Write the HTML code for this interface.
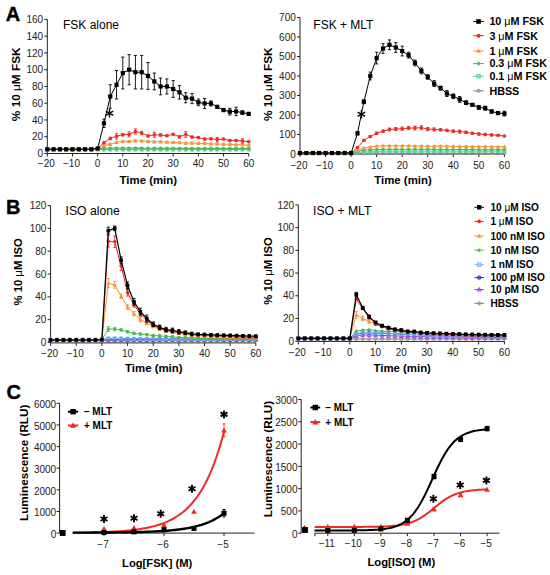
<!DOCTYPE html>
<html><head><meta charset="utf-8"><style>
html,body{margin:0;padding:0;background:#fff;}
svg{display:block;font-family:"Liberation Sans", sans-serif;}
</style></head><body>
<svg width="550" height="575" viewBox="0 0 550 575">
<rect width="550" height="575" fill="#fff"/>
<line x1="47.3" y1="19.4" x2="47.3" y2="153.5" stroke="#222" stroke-width="1.0"/>
<line x1="44.3" y1="153.5" x2="47.3" y2="153.5" stroke="#222" stroke-width="1.0"/>
<text x="43.1" y="157.1" font-size="10" text-anchor="end" font-weight="normal" fill="#222" >0</text>
<line x1="44.3" y1="136.74" x2="47.3" y2="136.74" stroke="#222" stroke-width="1.0"/>
<text x="43.1" y="140.34" font-size="10" text-anchor="end" font-weight="normal" fill="#222" >20</text>
<line x1="44.3" y1="119.97" x2="47.3" y2="119.97" stroke="#222" stroke-width="1.0"/>
<text x="43.1" y="123.57" font-size="10" text-anchor="end" font-weight="normal" fill="#222" >40</text>
<line x1="44.3" y1="103.21" x2="47.3" y2="103.21" stroke="#222" stroke-width="1.0"/>
<text x="43.1" y="106.81" font-size="10" text-anchor="end" font-weight="normal" fill="#222" >60</text>
<line x1="44.3" y1="86.45" x2="47.3" y2="86.45" stroke="#222" stroke-width="1.0"/>
<text x="43.1" y="90.05" font-size="10" text-anchor="end" font-weight="normal" fill="#222" >80</text>
<line x1="44.3" y1="69.69" x2="47.3" y2="69.69" stroke="#222" stroke-width="1.0"/>
<text x="43.1" y="73.29" font-size="10" text-anchor="end" font-weight="normal" fill="#222" >100</text>
<line x1="44.3" y1="52.92" x2="47.3" y2="52.92" stroke="#222" stroke-width="1.0"/>
<text x="43.1" y="56.52" font-size="10" text-anchor="end" font-weight="normal" fill="#222" >120</text>
<line x1="44.3" y1="36.16" x2="47.3" y2="36.16" stroke="#222" stroke-width="1.0"/>
<text x="43.1" y="39.76" font-size="10" text-anchor="end" font-weight="normal" fill="#222" >140</text>
<line x1="44.3" y1="19.4" x2="47.3" y2="19.4" stroke="#222" stroke-width="1.0"/>
<text x="43.1" y="23" font-size="10" text-anchor="end" font-weight="normal" fill="#222" >160</text>
<line x1="47.3" y1="153.5" x2="248.7" y2="153.5" stroke="#222" stroke-width="1.0"/>
<line x1="47.3" y1="153.5" x2="47.3" y2="156.5" stroke="#222" stroke-width="1.0"/>
<text x="46.3" y="167.3" font-size="10" text-anchor="middle" font-weight="normal" fill="#222" >−20</text>
<line x1="72.47" y1="153.5" x2="72.47" y2="156.5" stroke="#222" stroke-width="1.0"/>
<text x="71.47" y="167.3" font-size="10" text-anchor="middle" font-weight="normal" fill="#222" >−10</text>
<line x1="97.65" y1="153.5" x2="97.65" y2="156.5" stroke="#222" stroke-width="1.0"/>
<text x="97.65" y="167.3" font-size="10" text-anchor="middle" font-weight="normal" fill="#222" >0</text>
<line x1="122.82" y1="153.5" x2="122.82" y2="156.5" stroke="#222" stroke-width="1.0"/>
<text x="122.82" y="167.3" font-size="10" text-anchor="middle" font-weight="normal" fill="#222" >10</text>
<line x1="148" y1="153.5" x2="148" y2="156.5" stroke="#222" stroke-width="1.0"/>
<text x="148" y="167.3" font-size="10" text-anchor="middle" font-weight="normal" fill="#222" >20</text>
<line x1="173.17" y1="153.5" x2="173.17" y2="156.5" stroke="#222" stroke-width="1.0"/>
<text x="173.17" y="167.3" font-size="10" text-anchor="middle" font-weight="normal" fill="#222" >30</text>
<line x1="198.35" y1="153.5" x2="198.35" y2="156.5" stroke="#222" stroke-width="1.0"/>
<text x="198.35" y="167.3" font-size="10" text-anchor="middle" font-weight="normal" fill="#222" >40</text>
<line x1="223.52" y1="153.5" x2="223.52" y2="156.5" stroke="#222" stroke-width="1.0"/>
<text x="223.52" y="167.3" font-size="10" text-anchor="middle" font-weight="normal" fill="#222" >50</text>
<line x1="248.7" y1="153.5" x2="248.7" y2="156.5" stroke="#222" stroke-width="1.0"/>
<text x="248.7" y="167.3" font-size="10" text-anchor="middle" font-weight="normal" fill="#222" >60</text>
<text x="63" y="28.6" font-size="12" text-anchor="start" font-weight="normal" fill="#000" >FSK alone</text>
<text x="148.3" y="183.8" font-size="11.4" text-anchor="middle" font-weight="bold" fill="#000" >Time (min)</text>
<text x="19.7" y="84.3" font-size="11.8" text-anchor="middle" font-weight="bold" fill="#000" transform="rotate(-90 19.7 84.3)">% 10 <tspan font-weight="normal">μ</tspan>M FSK</text>
<path d="M47.3 149.48L53.59 149.48L59.89 149.48L66.18 149.48L72.47 149.48L78.77 149.48L85.06 149.48L91.36 149.48L97.65 149.48L103.94 149.48L110.24 149.48L116.53 149.48L122.82 149.48L129.12 149.48L135.41 149.48L141.71 149.48L148 149.48L154.29 149.48L160.59 149.48L166.88 149.48L173.17 149.48L179.47 149.48L185.76 149.48L192.06 149.48L198.35 149.48L204.64 149.48L210.94 149.48L217.23 149.48L223.52 149.48L229.82 149.48L236.11 149.48L242.41 149.48L248.7 149.48" fill="none" stroke="#808080" stroke-width="1.0" stroke-linejoin="round"/>
<path d="M47.3 147.68L49.1 149.48L47.3 151.28L45.5 149.48Z" fill="#808080" fill-opacity="0.35" stroke="#808080" stroke-width="0.9"/>
<path d="M53.59 147.68L55.39 149.48L53.59 151.28L51.79 149.48Z" fill="#808080" fill-opacity="0.35" stroke="#808080" stroke-width="0.9"/>
<path d="M59.89 147.68L61.69 149.48L59.89 151.28L58.09 149.48Z" fill="#808080" fill-opacity="0.35" stroke="#808080" stroke-width="0.9"/>
<path d="M66.18 147.68L67.98 149.48L66.18 151.28L64.38 149.48Z" fill="#808080" fill-opacity="0.35" stroke="#808080" stroke-width="0.9"/>
<path d="M72.47 147.68L74.27 149.48L72.47 151.28L70.67 149.48Z" fill="#808080" fill-opacity="0.35" stroke="#808080" stroke-width="0.9"/>
<path d="M78.77 147.68L80.57 149.48L78.77 151.28L76.97 149.48Z" fill="#808080" fill-opacity="0.35" stroke="#808080" stroke-width="0.9"/>
<path d="M85.06 147.68L86.86 149.48L85.06 151.28L83.26 149.48Z" fill="#808080" fill-opacity="0.35" stroke="#808080" stroke-width="0.9"/>
<path d="M91.36 147.68L93.16 149.48L91.36 151.28L89.56 149.48Z" fill="#808080" fill-opacity="0.35" stroke="#808080" stroke-width="0.9"/>
<path d="M97.65 147.68L99.45 149.48L97.65 151.28L95.85 149.48Z" fill="#808080" fill-opacity="0.35" stroke="#808080" stroke-width="0.9"/>
<path d="M103.94 147.68L105.74 149.48L103.94 151.28L102.14 149.48Z" fill="#808080" fill-opacity="0.35" stroke="#808080" stroke-width="0.9"/>
<path d="M110.24 147.68L112.04 149.48L110.24 151.28L108.44 149.48Z" fill="#808080" fill-opacity="0.35" stroke="#808080" stroke-width="0.9"/>
<path d="M116.53 147.68L118.33 149.48L116.53 151.28L114.73 149.48Z" fill="#808080" fill-opacity="0.35" stroke="#808080" stroke-width="0.9"/>
<path d="M122.82 147.68L124.62 149.48L122.82 151.28L121.02 149.48Z" fill="#808080" fill-opacity="0.35" stroke="#808080" stroke-width="0.9"/>
<path d="M129.12 147.68L130.92 149.48L129.12 151.28L127.32 149.48Z" fill="#808080" fill-opacity="0.35" stroke="#808080" stroke-width="0.9"/>
<path d="M135.41 147.68L137.21 149.48L135.41 151.28L133.61 149.48Z" fill="#808080" fill-opacity="0.35" stroke="#808080" stroke-width="0.9"/>
<path d="M141.71 147.68L143.51 149.48L141.71 151.28L139.91 149.48Z" fill="#808080" fill-opacity="0.35" stroke="#808080" stroke-width="0.9"/>
<path d="M148 147.68L149.8 149.48L148 151.28L146.2 149.48Z" fill="#808080" fill-opacity="0.35" stroke="#808080" stroke-width="0.9"/>
<path d="M154.29 147.68L156.09 149.48L154.29 151.28L152.49 149.48Z" fill="#808080" fill-opacity="0.35" stroke="#808080" stroke-width="0.9"/>
<path d="M160.59 147.68L162.39 149.48L160.59 151.28L158.79 149.48Z" fill="#808080" fill-opacity="0.35" stroke="#808080" stroke-width="0.9"/>
<path d="M166.88 147.68L168.68 149.48L166.88 151.28L165.08 149.48Z" fill="#808080" fill-opacity="0.35" stroke="#808080" stroke-width="0.9"/>
<path d="M173.17 147.68L174.97 149.48L173.17 151.28L171.37 149.48Z" fill="#808080" fill-opacity="0.35" stroke="#808080" stroke-width="0.9"/>
<path d="M179.47 147.68L181.27 149.48L179.47 151.28L177.67 149.48Z" fill="#808080" fill-opacity="0.35" stroke="#808080" stroke-width="0.9"/>
<path d="M185.76 147.68L187.56 149.48L185.76 151.28L183.96 149.48Z" fill="#808080" fill-opacity="0.35" stroke="#808080" stroke-width="0.9"/>
<path d="M192.06 147.68L193.86 149.48L192.06 151.28L190.26 149.48Z" fill="#808080" fill-opacity="0.35" stroke="#808080" stroke-width="0.9"/>
<path d="M198.35 147.68L200.15 149.48L198.35 151.28L196.55 149.48Z" fill="#808080" fill-opacity="0.35" stroke="#808080" stroke-width="0.9"/>
<path d="M204.64 147.68L206.44 149.48L204.64 151.28L202.84 149.48Z" fill="#808080" fill-opacity="0.35" stroke="#808080" stroke-width="0.9"/>
<path d="M210.94 147.68L212.74 149.48L210.94 151.28L209.14 149.48Z" fill="#808080" fill-opacity="0.35" stroke="#808080" stroke-width="0.9"/>
<path d="M217.23 147.68L219.03 149.48L217.23 151.28L215.43 149.48Z" fill="#808080" fill-opacity="0.35" stroke="#808080" stroke-width="0.9"/>
<path d="M223.52 147.68L225.32 149.48L223.52 151.28L221.72 149.48Z" fill="#808080" fill-opacity="0.35" stroke="#808080" stroke-width="0.9"/>
<path d="M229.82 147.68L231.62 149.48L229.82 151.28L228.02 149.48Z" fill="#808080" fill-opacity="0.35" stroke="#808080" stroke-width="0.9"/>
<path d="M236.11 147.68L237.91 149.48L236.11 151.28L234.31 149.48Z" fill="#808080" fill-opacity="0.35" stroke="#808080" stroke-width="0.9"/>
<path d="M242.41 147.68L244.21 149.48L242.41 151.28L240.61 149.48Z" fill="#808080" fill-opacity="0.35" stroke="#808080" stroke-width="0.9"/>
<path d="M248.7 147.68L250.5 149.48L248.7 151.28L246.9 149.48Z" fill="#808080" fill-opacity="0.35" stroke="#808080" stroke-width="0.9"/>
<path d="M47.3 149.31L53.59 149.31L59.89 149.31L66.18 149.31L72.47 149.31L78.77 149.31L85.06 149.31L91.36 149.31L97.65 149.31L103.94 149.31L110.24 149.31L116.53 149.31L122.82 149.31L129.12 149.31L135.41 149.31L141.71 149.31L148 149.31L154.29 149.31L160.59 149.31L166.88 149.31L173.17 149.31L179.47 149.31L185.76 149.31L192.06 149.31L198.35 149.31L204.64 149.31L210.94 149.31L217.23 149.31L223.52 149.31L229.82 149.31L236.11 149.31L242.41 149.31L248.7 149.31" fill="none" stroke="#4fd6a6" stroke-width="1.0" stroke-linejoin="round"/>
<rect x="45.7" y="147.71" width="3.2" height="3.2" fill="#4fd6a6" fill-opacity="0.35" stroke="#4fd6a6" stroke-width="0.9"/>
<rect x="51.99" y="147.71" width="3.2" height="3.2" fill="#4fd6a6" fill-opacity="0.35" stroke="#4fd6a6" stroke-width="0.9"/>
<rect x="58.29" y="147.71" width="3.2" height="3.2" fill="#4fd6a6" fill-opacity="0.35" stroke="#4fd6a6" stroke-width="0.9"/>
<rect x="64.58" y="147.71" width="3.2" height="3.2" fill="#4fd6a6" fill-opacity="0.35" stroke="#4fd6a6" stroke-width="0.9"/>
<rect x="70.88" y="147.71" width="3.2" height="3.2" fill="#4fd6a6" fill-opacity="0.35" stroke="#4fd6a6" stroke-width="0.9"/>
<rect x="77.17" y="147.71" width="3.2" height="3.2" fill="#4fd6a6" fill-opacity="0.35" stroke="#4fd6a6" stroke-width="0.9"/>
<rect x="83.46" y="147.71" width="3.2" height="3.2" fill="#4fd6a6" fill-opacity="0.35" stroke="#4fd6a6" stroke-width="0.9"/>
<rect x="89.76" y="147.71" width="3.2" height="3.2" fill="#4fd6a6" fill-opacity="0.35" stroke="#4fd6a6" stroke-width="0.9"/>
<rect x="96.05" y="147.71" width="3.2" height="3.2" fill="#4fd6a6" fill-opacity="0.35" stroke="#4fd6a6" stroke-width="0.9"/>
<rect x="102.34" y="147.71" width="3.2" height="3.2" fill="#4fd6a6" fill-opacity="0.35" stroke="#4fd6a6" stroke-width="0.9"/>
<rect x="108.64" y="147.71" width="3.2" height="3.2" fill="#4fd6a6" fill-opacity="0.35" stroke="#4fd6a6" stroke-width="0.9"/>
<rect x="114.93" y="147.71" width="3.2" height="3.2" fill="#4fd6a6" fill-opacity="0.35" stroke="#4fd6a6" stroke-width="0.9"/>
<rect x="121.22" y="147.71" width="3.2" height="3.2" fill="#4fd6a6" fill-opacity="0.35" stroke="#4fd6a6" stroke-width="0.9"/>
<rect x="127.52" y="147.71" width="3.2" height="3.2" fill="#4fd6a6" fill-opacity="0.35" stroke="#4fd6a6" stroke-width="0.9"/>
<rect x="133.81" y="147.71" width="3.2" height="3.2" fill="#4fd6a6" fill-opacity="0.35" stroke="#4fd6a6" stroke-width="0.9"/>
<rect x="140.11" y="147.71" width="3.2" height="3.2" fill="#4fd6a6" fill-opacity="0.35" stroke="#4fd6a6" stroke-width="0.9"/>
<rect x="146.4" y="147.71" width="3.2" height="3.2" fill="#4fd6a6" fill-opacity="0.35" stroke="#4fd6a6" stroke-width="0.9"/>
<rect x="152.69" y="147.71" width="3.2" height="3.2" fill="#4fd6a6" fill-opacity="0.35" stroke="#4fd6a6" stroke-width="0.9"/>
<rect x="158.99" y="147.71" width="3.2" height="3.2" fill="#4fd6a6" fill-opacity="0.35" stroke="#4fd6a6" stroke-width="0.9"/>
<rect x="165.28" y="147.71" width="3.2" height="3.2" fill="#4fd6a6" fill-opacity="0.35" stroke="#4fd6a6" stroke-width="0.9"/>
<rect x="171.57" y="147.71" width="3.2" height="3.2" fill="#4fd6a6" fill-opacity="0.35" stroke="#4fd6a6" stroke-width="0.9"/>
<rect x="177.87" y="147.71" width="3.2" height="3.2" fill="#4fd6a6" fill-opacity="0.35" stroke="#4fd6a6" stroke-width="0.9"/>
<rect x="184.16" y="147.71" width="3.2" height="3.2" fill="#4fd6a6" fill-opacity="0.35" stroke="#4fd6a6" stroke-width="0.9"/>
<rect x="190.46" y="147.71" width="3.2" height="3.2" fill="#4fd6a6" fill-opacity="0.35" stroke="#4fd6a6" stroke-width="0.9"/>
<rect x="196.75" y="147.71" width="3.2" height="3.2" fill="#4fd6a6" fill-opacity="0.35" stroke="#4fd6a6" stroke-width="0.9"/>
<rect x="203.04" y="147.71" width="3.2" height="3.2" fill="#4fd6a6" fill-opacity="0.35" stroke="#4fd6a6" stroke-width="0.9"/>
<rect x="209.34" y="147.71" width="3.2" height="3.2" fill="#4fd6a6" fill-opacity="0.35" stroke="#4fd6a6" stroke-width="0.9"/>
<rect x="215.63" y="147.71" width="3.2" height="3.2" fill="#4fd6a6" fill-opacity="0.35" stroke="#4fd6a6" stroke-width="0.9"/>
<rect x="221.92" y="147.71" width="3.2" height="3.2" fill="#4fd6a6" fill-opacity="0.35" stroke="#4fd6a6" stroke-width="0.9"/>
<rect x="228.22" y="147.71" width="3.2" height="3.2" fill="#4fd6a6" fill-opacity="0.35" stroke="#4fd6a6" stroke-width="0.9"/>
<rect x="234.51" y="147.71" width="3.2" height="3.2" fill="#4fd6a6" fill-opacity="0.35" stroke="#4fd6a6" stroke-width="0.9"/>
<rect x="240.81" y="147.71" width="3.2" height="3.2" fill="#4fd6a6" fill-opacity="0.35" stroke="#4fd6a6" stroke-width="0.9"/>
<rect x="247.1" y="147.71" width="3.2" height="3.2" fill="#4fd6a6" fill-opacity="0.35" stroke="#4fd6a6" stroke-width="0.9"/>
<path d="M47.3 149.31L53.59 149.31L59.89 149.31L66.18 149.31L72.47 149.31L78.77 149.31L85.06 149.31L91.36 149.31L97.65 148.89L103.94 148.3L110.24 148.14L116.53 148.05L122.82 148.05L129.12 148.05L135.41 148.05L141.71 148.14L148 148.22L154.29 148.22L160.59 148.22L166.88 148.3L173.17 148.3L179.47 148.3L185.76 148.3L192.06 148.39L198.35 148.39L204.64 148.47L210.94 148.47L217.23 148.47L223.52 148.47L229.82 148.47L236.11 148.47L242.41 148.47L248.7 148.47" fill="none" stroke="#4cb848" stroke-width="1.0" stroke-linejoin="round"/>
<path d="M47.3 147.41L49.2 149.31L47.3 151.21L45.4 149.31Z" fill="#4cb848"/>
<path d="M53.59 147.41L55.49 149.31L53.59 151.21L51.69 149.31Z" fill="#4cb848"/>
<path d="M59.89 147.41L61.79 149.31L59.89 151.21L57.99 149.31Z" fill="#4cb848"/>
<path d="M66.18 147.41L68.08 149.31L66.18 151.21L64.28 149.31Z" fill="#4cb848"/>
<path d="M72.47 147.41L74.38 149.31L72.47 151.21L70.57 149.31Z" fill="#4cb848"/>
<path d="M78.77 147.41L80.67 149.31L78.77 151.21L76.87 149.31Z" fill="#4cb848"/>
<path d="M85.06 147.41L86.96 149.31L85.06 151.21L83.16 149.31Z" fill="#4cb848"/>
<path d="M91.36 147.41L93.26 149.31L91.36 151.21L89.46 149.31Z" fill="#4cb848"/>
<path d="M97.65 146.99L99.55 148.89L97.65 150.79L95.75 148.89Z" fill="#4cb848"/>
<path d="M103.94 146.4L105.84 148.3L103.94 150.2L102.04 148.3Z" fill="#4cb848"/>
<path d="M110.24 146.24L112.14 148.14L110.24 150.04L108.34 148.14Z" fill="#4cb848"/>
<path d="M116.53 146.15L118.43 148.05L116.53 149.95L114.63 148.05Z" fill="#4cb848"/>
<path d="M122.82 146.15L124.72 148.05L122.82 149.95L120.92 148.05Z" fill="#4cb848"/>
<path d="M129.12 146.15L131.02 148.05L129.12 149.95L127.22 148.05Z" fill="#4cb848"/>
<path d="M135.41 146.15L137.31 148.05L135.41 149.95L133.51 148.05Z" fill="#4cb848"/>
<path d="M141.71 146.24L143.61 148.14L141.71 150.04L139.81 148.14Z" fill="#4cb848"/>
<path d="M148 146.32L149.9 148.22L148 150.12L146.1 148.22Z" fill="#4cb848"/>
<path d="M154.29 146.32L156.19 148.22L154.29 150.12L152.39 148.22Z" fill="#4cb848"/>
<path d="M160.59 146.32L162.49 148.22L160.59 150.12L158.69 148.22Z" fill="#4cb848"/>
<path d="M166.88 146.4L168.78 148.3L166.88 150.2L164.98 148.3Z" fill="#4cb848"/>
<path d="M173.17 146.4L175.07 148.3L173.17 150.2L171.27 148.3Z" fill="#4cb848"/>
<path d="M179.47 146.4L181.37 148.3L179.47 150.2L177.57 148.3Z" fill="#4cb848"/>
<path d="M185.76 146.4L187.66 148.3L185.76 150.2L183.86 148.3Z" fill="#4cb848"/>
<path d="M192.06 146.49L193.96 148.39L192.06 150.29L190.16 148.39Z" fill="#4cb848"/>
<path d="M198.35 146.49L200.25 148.39L198.35 150.29L196.45 148.39Z" fill="#4cb848"/>
<path d="M204.64 146.57L206.54 148.47L204.64 150.37L202.74 148.47Z" fill="#4cb848"/>
<path d="M210.94 146.57L212.84 148.47L210.94 150.37L209.04 148.47Z" fill="#4cb848"/>
<path d="M217.23 146.57L219.13 148.47L217.23 150.37L215.33 148.47Z" fill="#4cb848"/>
<path d="M223.52 146.57L225.42 148.47L223.52 150.37L221.62 148.47Z" fill="#4cb848"/>
<path d="M229.82 146.57L231.72 148.47L229.82 150.37L227.92 148.47Z" fill="#4cb848"/>
<path d="M236.11 146.57L238.01 148.47L236.11 150.37L234.21 148.47Z" fill="#4cb848"/>
<path d="M242.41 146.57L244.31 148.47L242.41 150.37L240.51 148.47Z" fill="#4cb848"/>
<path d="M248.7 146.57L250.6 148.47L248.7 150.37L246.8 148.47Z" fill="#4cb848"/>
<path d="M47.3 149.31L53.59 149.31L59.89 149.31L66.18 149.31L72.47 149.31L78.77 149.31L85.06 149.31L91.36 149.31L97.65 148.89L103.94 145.62L110.24 144.28L116.53 142.35L122.82 141.35L129.12 141.35L135.41 140.76L141.71 140.93L148 141.35L154.29 141.77L160.59 141.77L166.88 142.19L173.17 142.44L179.47 142.6L185.76 143.02L192.06 143.02L198.35 143.44L204.64 143.44L210.94 143.86L217.23 143.86L223.52 144.28L229.82 144.28L236.11 144.7L242.41 144.7L248.7 145.12" fill="none" stroke="#f7943a" stroke-width="1.0" stroke-linejoin="round"/>
<path d="M47.3 148.47V150.15M45.7 148.47H48.9M45.7 150.15H48.9" stroke="#f7943a" stroke-width="0.9" fill="none"/>
<path d="M53.59 148.47V150.15M51.99 148.47H55.19M51.99 150.15H55.19" stroke="#f7943a" stroke-width="0.9" fill="none"/>
<path d="M59.89 148.47V150.15M58.29 148.47H61.49M58.29 150.15H61.49" stroke="#f7943a" stroke-width="0.9" fill="none"/>
<path d="M66.18 148.47V150.15M64.58 148.47H67.78M64.58 150.15H67.78" stroke="#f7943a" stroke-width="0.9" fill="none"/>
<path d="M72.47 148.47V150.15M70.88 148.47H74.07M70.88 150.15H74.07" stroke="#f7943a" stroke-width="0.9" fill="none"/>
<path d="M78.77 148.47V150.15M77.17 148.47H80.37M77.17 150.15H80.37" stroke="#f7943a" stroke-width="0.9" fill="none"/>
<path d="M85.06 148.47V150.15M83.46 148.47H86.66M83.46 150.15H86.66" stroke="#f7943a" stroke-width="0.9" fill="none"/>
<path d="M91.36 148.47V150.15M89.76 148.47H92.96M89.76 150.15H92.96" stroke="#f7943a" stroke-width="0.9" fill="none"/>
<path d="M97.65 148.05V149.73M96.05 148.05H99.25M96.05 149.73H99.25" stroke="#f7943a" stroke-width="0.9" fill="none"/>
<path d="M103.94 144.78V146.46M102.34 144.78H105.54M102.34 146.46H105.54" stroke="#f7943a" stroke-width="0.9" fill="none"/>
<path d="M110.24 143.44V145.12M108.64 143.44H111.84M108.64 145.12H111.84" stroke="#f7943a" stroke-width="0.9" fill="none"/>
<path d="M116.53 141.51V143.19M114.93 141.51H118.13M114.93 143.19H118.13" stroke="#f7943a" stroke-width="0.9" fill="none"/>
<path d="M122.82 140.51V142.19M121.22 140.51H124.42M121.22 142.19H124.42" stroke="#f7943a" stroke-width="0.9" fill="none"/>
<path d="M129.12 140.51V142.19M127.52 140.51H130.72M127.52 142.19H130.72" stroke="#f7943a" stroke-width="0.9" fill="none"/>
<path d="M135.41 139.92V141.6M133.81 139.92H137.01M133.81 141.6H137.01" stroke="#f7943a" stroke-width="0.9" fill="none"/>
<path d="M141.71 140.09V141.77M140.11 140.09H143.31M140.11 141.77H143.31" stroke="#f7943a" stroke-width="0.9" fill="none"/>
<path d="M148 140.51V142.19M146.4 140.51H149.6M146.4 142.19H149.6" stroke="#f7943a" stroke-width="0.9" fill="none"/>
<path d="M154.29 140.93V142.6M152.69 140.93H155.89M152.69 142.6H155.89" stroke="#f7943a" stroke-width="0.9" fill="none"/>
<path d="M160.59 140.93V142.6M158.99 140.93H162.19M158.99 142.6H162.19" stroke="#f7943a" stroke-width="0.9" fill="none"/>
<path d="M166.88 141.35V143.02M165.28 141.35H168.48M165.28 143.02H168.48" stroke="#f7943a" stroke-width="0.9" fill="none"/>
<path d="M173.17 141.6V143.27M171.57 141.6H174.77M171.57 143.27H174.77" stroke="#f7943a" stroke-width="0.9" fill="none"/>
<path d="M179.47 141.77V143.44M177.87 141.77H181.07M177.87 143.44H181.07" stroke="#f7943a" stroke-width="0.9" fill="none"/>
<path d="M185.76 142.19V143.86M184.16 142.19H187.36M184.16 143.86H187.36" stroke="#f7943a" stroke-width="0.9" fill="none"/>
<path d="M192.06 142.19V143.86M190.46 142.19H193.66M190.46 143.86H193.66" stroke="#f7943a" stroke-width="0.9" fill="none"/>
<path d="M198.35 142.6V144.28M196.75 142.6H199.95M196.75 144.28H199.95" stroke="#f7943a" stroke-width="0.9" fill="none"/>
<path d="M204.64 142.6V144.28M203.04 142.6H206.24M203.04 144.28H206.24" stroke="#f7943a" stroke-width="0.9" fill="none"/>
<path d="M210.94 143.02V144.7M209.34 143.02H212.54M209.34 144.7H212.54" stroke="#f7943a" stroke-width="0.9" fill="none"/>
<path d="M217.23 143.02V144.7M215.63 143.02H218.83M215.63 144.7H218.83" stroke="#f7943a" stroke-width="0.9" fill="none"/>
<path d="M223.52 143.44V145.12M221.92 143.44H225.12M221.92 145.12H225.12" stroke="#f7943a" stroke-width="0.9" fill="none"/>
<path d="M229.82 143.44V145.12M228.22 143.44H231.42M228.22 145.12H231.42" stroke="#f7943a" stroke-width="0.9" fill="none"/>
<path d="M236.11 143.86V145.54M234.51 143.86H237.71M234.51 145.54H237.71" stroke="#f7943a" stroke-width="0.9" fill="none"/>
<path d="M242.41 143.86V145.54M240.81 143.86H244.01M240.81 145.54H244.01" stroke="#f7943a" stroke-width="0.9" fill="none"/>
<path d="M248.7 144.28V145.96M247.1 144.28H250.3M247.1 145.96H250.3" stroke="#f7943a" stroke-width="0.9" fill="none"/>
<path d="M47.3 147.11L49.5 150.96L45.1 150.96Z" fill="#f7943a"/>
<path d="M53.59 147.11L55.79 150.96L51.39 150.96Z" fill="#f7943a"/>
<path d="M59.89 147.11L62.09 150.96L57.69 150.96Z" fill="#f7943a"/>
<path d="M66.18 147.11L68.38 150.96L63.98 150.96Z" fill="#f7943a"/>
<path d="M72.47 147.11L74.67 150.96L70.27 150.96Z" fill="#f7943a"/>
<path d="M78.77 147.11L80.97 150.96L76.57 150.96Z" fill="#f7943a"/>
<path d="M85.06 147.11L87.26 150.96L82.86 150.96Z" fill="#f7943a"/>
<path d="M91.36 147.11L93.56 150.96L89.16 150.96Z" fill="#f7943a"/>
<path d="M97.65 146.69L99.85 150.54L95.45 150.54Z" fill="#f7943a"/>
<path d="M103.94 143.42L106.14 147.27L101.74 147.27Z" fill="#f7943a"/>
<path d="M110.24 142.08L112.44 145.93L108.04 145.93Z" fill="#f7943a"/>
<path d="M116.53 140.15L118.73 144L114.33 144Z" fill="#f7943a"/>
<path d="M122.82 139.15L125.02 143L120.62 143Z" fill="#f7943a"/>
<path d="M129.12 139.15L131.32 143L126.92 143Z" fill="#f7943a"/>
<path d="M135.41 138.56L137.61 142.41L133.21 142.41Z" fill="#f7943a"/>
<path d="M141.71 138.73L143.91 142.58L139.51 142.58Z" fill="#f7943a"/>
<path d="M148 139.15L150.2 143L145.8 143Z" fill="#f7943a"/>
<path d="M154.29 139.57L156.49 143.42L152.09 143.42Z" fill="#f7943a"/>
<path d="M160.59 139.57L162.79 143.42L158.39 143.42Z" fill="#f7943a"/>
<path d="M166.88 139.99L169.08 143.84L164.68 143.84Z" fill="#f7943a"/>
<path d="M173.17 140.24L175.37 144.09L170.97 144.09Z" fill="#f7943a"/>
<path d="M179.47 140.4L181.67 144.25L177.27 144.25Z" fill="#f7943a"/>
<path d="M185.76 140.82L187.96 144.67L183.56 144.67Z" fill="#f7943a"/>
<path d="M192.06 140.82L194.26 144.67L189.86 144.67Z" fill="#f7943a"/>
<path d="M198.35 141.24L200.55 145.09L196.15 145.09Z" fill="#f7943a"/>
<path d="M204.64 141.24L206.84 145.09L202.44 145.09Z" fill="#f7943a"/>
<path d="M210.94 141.66L213.14 145.51L208.74 145.51Z" fill="#f7943a"/>
<path d="M217.23 141.66L219.43 145.51L215.03 145.51Z" fill="#f7943a"/>
<path d="M223.52 142.08L225.72 145.93L221.32 145.93Z" fill="#f7943a"/>
<path d="M229.82 142.08L232.02 145.93L227.62 145.93Z" fill="#f7943a"/>
<path d="M236.11 142.5L238.31 146.35L233.91 146.35Z" fill="#f7943a"/>
<path d="M242.41 142.5L244.61 146.35L240.21 146.35Z" fill="#f7943a"/>
<path d="M248.7 142.92L250.9 146.77L246.5 146.77Z" fill="#f7943a"/>
<path d="M47.3 149.31L53.59 149.31L59.89 149.31L66.18 149.31L72.47 149.31L78.77 149.31L85.06 149.31L91.36 149.31L97.65 148.47L103.94 142.69L110.24 138.41L116.53 136.23L122.82 134.73L129.12 134.39L135.41 131.46L141.71 132.97L148 135.9L154.29 134.73L160.59 135.06L166.88 135.73L173.17 134.31L179.47 136.82L185.76 134.31L192.06 137.07L198.35 137.58L204.64 139.08L210.94 138.75L217.23 139.59L223.52 139.08L229.82 140.43L236.11 140.43L242.41 140.93L248.7 141.68" fill="none" stroke="#ee2a24" stroke-width="1.0" stroke-linejoin="round"/>
<path d="M103.94 141.85V143.53M102.34 141.85H105.54M102.34 143.53H105.54" stroke="#ee2a24" stroke-width="0.9" fill="none"/>
<path d="M110.24 137.16V139.67M108.64 137.16H111.84M108.64 139.67H111.84" stroke="#ee2a24" stroke-width="0.9" fill="none"/>
<path d="M116.53 133.3V139.17M114.93 133.3H118.13M114.93 139.17H118.13" stroke="#ee2a24" stroke-width="0.9" fill="none"/>
<path d="M122.82 133.47V135.98M121.22 133.47H124.42M121.22 135.98H124.42" stroke="#ee2a24" stroke-width="0.9" fill="none"/>
<path d="M129.12 131.88V136.91M127.52 131.88H130.72M127.52 136.91H130.72" stroke="#ee2a24" stroke-width="0.9" fill="none"/>
<path d="M135.41 128.94V133.97M133.81 128.94H137.01M133.81 133.97H137.01" stroke="#ee2a24" stroke-width="0.9" fill="none"/>
<path d="M141.71 131.29V134.64M140.11 131.29H143.31M140.11 134.64H143.31" stroke="#ee2a24" stroke-width="0.9" fill="none"/>
<path d="M148 135.06V136.74M146.4 135.06H149.6M146.4 136.74H149.6" stroke="#ee2a24" stroke-width="0.9" fill="none"/>
<path d="M154.29 132.21V137.24M152.69 132.21H155.89M152.69 137.24H155.89" stroke="#ee2a24" stroke-width="0.9" fill="none"/>
<path d="M160.59 133.8V136.32M158.99 133.8H162.19M158.99 136.32H162.19" stroke="#ee2a24" stroke-width="0.9" fill="none"/>
<path d="M166.88 134.89V136.57M165.28 134.89H168.48M165.28 136.57H168.48" stroke="#ee2a24" stroke-width="0.9" fill="none"/>
<path d="M173.17 133.47V135.15M171.57 133.47H174.77M171.57 135.15H174.77" stroke="#ee2a24" stroke-width="0.9" fill="none"/>
<path d="M179.47 135.56V138.08M177.87 135.56H181.07M177.87 138.08H181.07" stroke="#ee2a24" stroke-width="0.9" fill="none"/>
<path d="M185.76 131.37V137.24M184.16 131.37H187.36M184.16 137.24H187.36" stroke="#ee2a24" stroke-width="0.9" fill="none"/>
<path d="M192.06 136.23V137.91M190.46 136.23H193.66M190.46 137.91H193.66" stroke="#ee2a24" stroke-width="0.9" fill="none"/>
<path d="M198.35 136.74V138.41M196.75 136.74H199.95M196.75 138.41H199.95" stroke="#ee2a24" stroke-width="0.9" fill="none"/>
<path d="M204.64 138.25V139.92M203.04 138.25H206.24M203.04 139.92H206.24" stroke="#ee2a24" stroke-width="0.9" fill="none"/>
<path d="M210.94 137.91V139.59M209.34 137.91H212.54M209.34 139.59H212.54" stroke="#ee2a24" stroke-width="0.9" fill="none"/>
<path d="M217.23 137.49V141.68M215.63 137.49H218.83M215.63 141.68H218.83" stroke="#ee2a24" stroke-width="0.9" fill="none"/>
<path d="M223.52 138.25V139.92M221.92 138.25H225.12M221.92 139.92H225.12" stroke="#ee2a24" stroke-width="0.9" fill="none"/>
<path d="M229.82 139.59V141.26M228.22 139.59H231.42M228.22 141.26H231.42" stroke="#ee2a24" stroke-width="0.9" fill="none"/>
<path d="M236.11 139.59V141.26M234.51 139.59H237.71M234.51 141.26H237.71" stroke="#ee2a24" stroke-width="0.9" fill="none"/>
<path d="M242.41 138.83V143.02M240.81 138.83H244.01M240.81 143.02H244.01" stroke="#ee2a24" stroke-width="0.9" fill="none"/>
<path d="M248.7 140.84V142.52M247.1 140.84H250.3M247.1 142.52H250.3" stroke="#ee2a24" stroke-width="0.9" fill="none"/>
<circle cx="47.3" cy="149.31" r="1.75" fill="#ee2a24"/>
<circle cx="53.59" cy="149.31" r="1.75" fill="#ee2a24"/>
<circle cx="59.89" cy="149.31" r="1.75" fill="#ee2a24"/>
<circle cx="66.18" cy="149.31" r="1.75" fill="#ee2a24"/>
<circle cx="72.47" cy="149.31" r="1.75" fill="#ee2a24"/>
<circle cx="78.77" cy="149.31" r="1.75" fill="#ee2a24"/>
<circle cx="85.06" cy="149.31" r="1.75" fill="#ee2a24"/>
<circle cx="91.36" cy="149.31" r="1.75" fill="#ee2a24"/>
<circle cx="97.65" cy="148.47" r="1.75" fill="#ee2a24"/>
<circle cx="103.94" cy="142.69" r="1.75" fill="#ee2a24"/>
<circle cx="110.24" cy="138.41" r="1.75" fill="#ee2a24"/>
<circle cx="116.53" cy="136.23" r="1.75" fill="#ee2a24"/>
<circle cx="122.82" cy="134.73" r="1.75" fill="#ee2a24"/>
<circle cx="129.12" cy="134.39" r="1.75" fill="#ee2a24"/>
<circle cx="135.41" cy="131.46" r="1.75" fill="#ee2a24"/>
<circle cx="141.71" cy="132.97" r="1.75" fill="#ee2a24"/>
<circle cx="148" cy="135.9" r="1.75" fill="#ee2a24"/>
<circle cx="154.29" cy="134.73" r="1.75" fill="#ee2a24"/>
<circle cx="160.59" cy="135.06" r="1.75" fill="#ee2a24"/>
<circle cx="166.88" cy="135.73" r="1.75" fill="#ee2a24"/>
<circle cx="173.17" cy="134.31" r="1.75" fill="#ee2a24"/>
<circle cx="179.47" cy="136.82" r="1.75" fill="#ee2a24"/>
<circle cx="185.76" cy="134.31" r="1.75" fill="#ee2a24"/>
<circle cx="192.06" cy="137.07" r="1.75" fill="#ee2a24"/>
<circle cx="198.35" cy="137.58" r="1.75" fill="#ee2a24"/>
<circle cx="204.64" cy="139.08" r="1.75" fill="#ee2a24"/>
<circle cx="210.94" cy="138.75" r="1.75" fill="#ee2a24"/>
<circle cx="217.23" cy="139.59" r="1.75" fill="#ee2a24"/>
<circle cx="223.52" cy="139.08" r="1.75" fill="#ee2a24"/>
<circle cx="229.82" cy="140.43" r="1.75" fill="#ee2a24"/>
<circle cx="236.11" cy="140.43" r="1.75" fill="#ee2a24"/>
<circle cx="242.41" cy="140.93" r="1.75" fill="#ee2a24"/>
<circle cx="248.7" cy="141.68" r="1.75" fill="#ee2a24"/>
<path d="M47.3 149.31L53.59 149.31L59.89 149.31L66.18 149.31L72.47 149.31L78.77 149.31L85.06 149.31L91.36 149.31L97.65 148.47L103.94 123.33L110.24 96.51L116.53 84.77L122.82 73.04L129.12 69.69L135.41 72.2L141.71 72.2L148 75.97L154.29 81.42L160.59 86.45L166.88 86.45L173.17 88.96L179.47 92.32L185.76 97.76L192.06 98.6L198.35 102.37L204.64 103.46L210.94 103.46L217.23 106.82L223.52 110.09L229.82 111.68L236.11 111.43L242.41 112.6L248.7 113.86" fill="none" stroke="#000" stroke-width="1.0" stroke-linejoin="round"/>
<path d="M103.94 119.14V127.52M102.34 119.14H105.54M102.34 127.52H105.54" stroke="#000" stroke-width="0.9" fill="none"/>
<path d="M110.24 84.77V108.24M108.64 84.77H111.84M108.64 108.24H111.84" stroke="#000" stroke-width="0.9" fill="none"/>
<path d="M116.53 70.53V99.02M114.93 70.53H118.13M114.93 99.02H118.13" stroke="#000" stroke-width="0.9" fill="none"/>
<path d="M122.82 57.12V88.96M121.22 57.12H124.42M121.22 88.96H124.42" stroke="#000" stroke-width="0.9" fill="none"/>
<path d="M129.12 54.6V84.77M127.52 54.6H130.72M127.52 84.77H130.72" stroke="#000" stroke-width="0.9" fill="none"/>
<path d="M135.41 55.44V88.96M133.81 55.44H137.01M133.81 88.96H137.01" stroke="#000" stroke-width="0.9" fill="none"/>
<path d="M141.71 55.44V88.96M140.11 55.44H143.31M140.11 88.96H143.31" stroke="#000" stroke-width="0.9" fill="none"/>
<path d="M148 62.56V89.38M146.4 62.56H149.6M146.4 89.38H149.6" stroke="#000" stroke-width="0.9" fill="none"/>
<path d="M154.29 73.04V89.8M152.69 73.04H155.89M152.69 89.8H155.89" stroke="#000" stroke-width="0.9" fill="none"/>
<path d="M160.59 78.07V94.83M158.99 78.07H162.19M158.99 94.83H162.19" stroke="#000" stroke-width="0.9" fill="none"/>
<path d="M166.88 78.91V93.99M165.28 78.91H168.48M165.28 93.99H168.48" stroke="#000" stroke-width="0.9" fill="none"/>
<path d="M173.17 80.58V97.35M171.57 80.58H174.77M171.57 97.35H174.77" stroke="#000" stroke-width="0.9" fill="none"/>
<path d="M179.47 85.61V99.02M177.87 85.61H181.07M177.87 99.02H181.07" stroke="#000" stroke-width="0.9" fill="none"/>
<path d="M185.76 92.74V102.79M184.16 92.74H187.36M184.16 102.79H187.36" stroke="#000" stroke-width="0.9" fill="none"/>
<path d="M192.06 93.57V103.63M190.46 93.57H193.66M190.46 103.63H193.66" stroke="#000" stroke-width="0.9" fill="none"/>
<path d="M198.35 99.02V105.73M196.75 99.02H199.95M196.75 105.73H199.95" stroke="#000" stroke-width="0.9" fill="none"/>
<path d="M204.64 98.44V108.49M203.04 98.44H206.24M203.04 108.49H206.24" stroke="#000" stroke-width="0.9" fill="none"/>
<path d="M210.94 100.95V105.98M209.34 100.95H212.54M209.34 105.98H212.54" stroke="#000" stroke-width="0.9" fill="none"/>
<path d="M229.82 108.33V115.03M228.22 108.33H231.42M228.22 115.03H231.42" stroke="#000" stroke-width="0.9" fill="none"/>
<path d="M236.11 107.24V115.62M234.51 107.24H237.71M234.51 115.62H237.71" stroke="#000" stroke-width="0.9" fill="none"/>
<path d="M242.41 110.92V114.28M240.81 110.92H244.01M240.81 114.28H244.01" stroke="#000" stroke-width="0.9" fill="none"/>
<rect x="45.2" y="147.21" width="4.2" height="4.2" fill="#000"/>
<rect x="51.49" y="147.21" width="4.2" height="4.2" fill="#000"/>
<rect x="57.79" y="147.21" width="4.2" height="4.2" fill="#000"/>
<rect x="64.08" y="147.21" width="4.2" height="4.2" fill="#000"/>
<rect x="70.38" y="147.21" width="4.2" height="4.2" fill="#000"/>
<rect x="76.67" y="147.21" width="4.2" height="4.2" fill="#000"/>
<rect x="82.96" y="147.21" width="4.2" height="4.2" fill="#000"/>
<rect x="89.26" y="147.21" width="4.2" height="4.2" fill="#000"/>
<rect x="95.55" y="146.37" width="4.2" height="4.2" fill="#000"/>
<rect x="101.84" y="121.23" width="4.2" height="4.2" fill="#000"/>
<rect x="108.14" y="94.41" width="4.2" height="4.2" fill="#000"/>
<rect x="114.43" y="82.67" width="4.2" height="4.2" fill="#000"/>
<rect x="120.72" y="70.94" width="4.2" height="4.2" fill="#000"/>
<rect x="127.02" y="67.59" width="4.2" height="4.2" fill="#000"/>
<rect x="133.31" y="70.1" width="4.2" height="4.2" fill="#000"/>
<rect x="139.61" y="70.1" width="4.2" height="4.2" fill="#000"/>
<rect x="145.9" y="73.87" width="4.2" height="4.2" fill="#000"/>
<rect x="152.19" y="79.32" width="4.2" height="4.2" fill="#000"/>
<rect x="158.49" y="84.35" width="4.2" height="4.2" fill="#000"/>
<rect x="164.78" y="84.35" width="4.2" height="4.2" fill="#000"/>
<rect x="171.07" y="86.86" width="4.2" height="4.2" fill="#000"/>
<rect x="177.37" y="90.22" width="4.2" height="4.2" fill="#000"/>
<rect x="183.66" y="95.66" width="4.2" height="4.2" fill="#000"/>
<rect x="189.96" y="96.5" width="4.2" height="4.2" fill="#000"/>
<rect x="196.25" y="100.27" width="4.2" height="4.2" fill="#000"/>
<rect x="202.54" y="101.36" width="4.2" height="4.2" fill="#000"/>
<rect x="208.84" y="101.36" width="4.2" height="4.2" fill="#000"/>
<rect x="215.13" y="104.72" width="4.2" height="4.2" fill="#000"/>
<rect x="221.42" y="107.99" width="4.2" height="4.2" fill="#000"/>
<rect x="227.72" y="109.58" width="4.2" height="4.2" fill="#000"/>
<rect x="234.01" y="109.33" width="4.2" height="4.2" fill="#000"/>
<rect x="240.31" y="110.5" width="4.2" height="4.2" fill="#000"/>
<rect x="246.6" y="111.76" width="4.2" height="4.2" fill="#000"/>
<path d="M109.5 108.9L109.5 117.5M105.78 111.05L113.22 115.35M105.78 115.35L113.22 111.05" stroke="#000" stroke-width="1.4" fill="none"/>
<line x1="300" y1="17.5" x2="300" y2="154" stroke="#222" stroke-width="1.0"/>
<line x1="297" y1="154" x2="300" y2="154" stroke="#222" stroke-width="1.0"/>
<text x="295.8" y="157.6" font-size="10" text-anchor="end" font-weight="normal" fill="#222" >0</text>
<line x1="297" y1="134.5" x2="300" y2="134.5" stroke="#222" stroke-width="1.0"/>
<text x="295.8" y="138.1" font-size="10" text-anchor="end" font-weight="normal" fill="#222" >100</text>
<line x1="297" y1="115" x2="300" y2="115" stroke="#222" stroke-width="1.0"/>
<text x="295.8" y="118.6" font-size="10" text-anchor="end" font-weight="normal" fill="#222" >200</text>
<line x1="297" y1="95.5" x2="300" y2="95.5" stroke="#222" stroke-width="1.0"/>
<text x="295.8" y="99.1" font-size="10" text-anchor="end" font-weight="normal" fill="#222" >300</text>
<line x1="297" y1="76" x2="300" y2="76" stroke="#222" stroke-width="1.0"/>
<text x="295.8" y="79.6" font-size="10" text-anchor="end" font-weight="normal" fill="#222" >400</text>
<line x1="297" y1="56.5" x2="300" y2="56.5" stroke="#222" stroke-width="1.0"/>
<text x="295.8" y="60.1" font-size="10" text-anchor="end" font-weight="normal" fill="#222" >500</text>
<line x1="297" y1="37" x2="300" y2="37" stroke="#222" stroke-width="1.0"/>
<text x="295.8" y="40.6" font-size="10" text-anchor="end" font-weight="normal" fill="#222" >600</text>
<line x1="297" y1="17.5" x2="300" y2="17.5" stroke="#222" stroke-width="1.0"/>
<text x="295.8" y="21.1" font-size="10" text-anchor="end" font-weight="normal" fill="#222" >700</text>
<line x1="300" y1="154" x2="504.4" y2="154" stroke="#222" stroke-width="1.0"/>
<line x1="300" y1="154" x2="300" y2="157" stroke="#222" stroke-width="1.0"/>
<text x="299" y="168.6" font-size="10" text-anchor="middle" font-weight="normal" fill="#222" >−20</text>
<line x1="325.55" y1="154" x2="325.55" y2="157" stroke="#222" stroke-width="1.0"/>
<text x="324.55" y="168.6" font-size="10" text-anchor="middle" font-weight="normal" fill="#222" >−10</text>
<line x1="351.1" y1="154" x2="351.1" y2="157" stroke="#222" stroke-width="1.0"/>
<text x="351.1" y="168.6" font-size="10" text-anchor="middle" font-weight="normal" fill="#222" >0</text>
<line x1="376.65" y1="154" x2="376.65" y2="157" stroke="#222" stroke-width="1.0"/>
<text x="376.65" y="168.6" font-size="10" text-anchor="middle" font-weight="normal" fill="#222" >10</text>
<line x1="402.2" y1="154" x2="402.2" y2="157" stroke="#222" stroke-width="1.0"/>
<text x="402.2" y="168.6" font-size="10" text-anchor="middle" font-weight="normal" fill="#222" >20</text>
<line x1="427.75" y1="154" x2="427.75" y2="157" stroke="#222" stroke-width="1.0"/>
<text x="427.75" y="168.6" font-size="10" text-anchor="middle" font-weight="normal" fill="#222" >30</text>
<line x1="453.3" y1="154" x2="453.3" y2="157" stroke="#222" stroke-width="1.0"/>
<text x="453.3" y="168.6" font-size="10" text-anchor="middle" font-weight="normal" fill="#222" >40</text>
<line x1="478.85" y1="154" x2="478.85" y2="157" stroke="#222" stroke-width="1.0"/>
<text x="478.85" y="168.6" font-size="10" text-anchor="middle" font-weight="normal" fill="#222" >50</text>
<line x1="504.4" y1="154" x2="504.4" y2="157" stroke="#222" stroke-width="1.0"/>
<text x="504.4" y="168.6" font-size="10" text-anchor="middle" font-weight="normal" fill="#222" >60</text>
<text x="313.3" y="28.7" font-size="12" text-anchor="start" font-weight="normal" fill="#000" >FSK + MLT</text>
<text x="403" y="183.9" font-size="11.4" text-anchor="middle" font-weight="bold" fill="#000" >Time (min)</text>
<text x="272.3" y="84.2" font-size="11.8" text-anchor="middle" font-weight="bold" fill="#000" transform="rotate(-90 272.3 84.2)">% 10 <tspan font-weight="normal">μ</tspan>M FSK</text>
<path d="M300 153.22L306.39 153.22L312.77 153.22L319.16 153.22L325.55 153.22L331.94 153.22L338.32 153.22L344.71 153.22L351.1 153.22L357.49 153.22L363.88 153.22L370.26 153.22L376.65 153.22L383.04 153.22L389.42 153.22L395.81 153.22L402.2 153.22L408.59 153.22L414.97 153.22L421.36 153.22L427.75 153.22L434.14 153.22L440.52 153.22L446.91 153.22L453.3 153.22L459.69 153.22L466.07 153.22L472.46 153.22L478.85 153.22L485.24 153.22L491.62 153.22L498.01 153.22L504.4 153.22" fill="none" stroke="#808080" stroke-width="1.0" stroke-linejoin="round"/>
<path d="M300 151.42L301.8 153.22L300 155.02L298.2 153.22Z" fill="#808080" fill-opacity="0.35" stroke="#808080" stroke-width="0.9"/>
<path d="M306.39 151.42L308.19 153.22L306.39 155.02L304.59 153.22Z" fill="#808080" fill-opacity="0.35" stroke="#808080" stroke-width="0.9"/>
<path d="M312.77 151.42L314.57 153.22L312.77 155.02L310.97 153.22Z" fill="#808080" fill-opacity="0.35" stroke="#808080" stroke-width="0.9"/>
<path d="M319.16 151.42L320.96 153.22L319.16 155.02L317.36 153.22Z" fill="#808080" fill-opacity="0.35" stroke="#808080" stroke-width="0.9"/>
<path d="M325.55 151.42L327.35 153.22L325.55 155.02L323.75 153.22Z" fill="#808080" fill-opacity="0.35" stroke="#808080" stroke-width="0.9"/>
<path d="M331.94 151.42L333.74 153.22L331.94 155.02L330.14 153.22Z" fill="#808080" fill-opacity="0.35" stroke="#808080" stroke-width="0.9"/>
<path d="M338.32 151.42L340.12 153.22L338.32 155.02L336.52 153.22Z" fill="#808080" fill-opacity="0.35" stroke="#808080" stroke-width="0.9"/>
<path d="M344.71 151.42L346.51 153.22L344.71 155.02L342.91 153.22Z" fill="#808080" fill-opacity="0.35" stroke="#808080" stroke-width="0.9"/>
<path d="M351.1 151.42L352.9 153.22L351.1 155.02L349.3 153.22Z" fill="#808080" fill-opacity="0.35" stroke="#808080" stroke-width="0.9"/>
<path d="M357.49 151.42L359.29 153.22L357.49 155.02L355.69 153.22Z" fill="#808080" fill-opacity="0.35" stroke="#808080" stroke-width="0.9"/>
<path d="M363.88 151.42L365.68 153.22L363.88 155.02L362.07 153.22Z" fill="#808080" fill-opacity="0.35" stroke="#808080" stroke-width="0.9"/>
<path d="M370.26 151.42L372.06 153.22L370.26 155.02L368.46 153.22Z" fill="#808080" fill-opacity="0.35" stroke="#808080" stroke-width="0.9"/>
<path d="M376.65 151.42L378.45 153.22L376.65 155.02L374.85 153.22Z" fill="#808080" fill-opacity="0.35" stroke="#808080" stroke-width="0.9"/>
<path d="M383.04 151.42L384.84 153.22L383.04 155.02L381.24 153.22Z" fill="#808080" fill-opacity="0.35" stroke="#808080" stroke-width="0.9"/>
<path d="M389.42 151.42L391.22 153.22L389.42 155.02L387.62 153.22Z" fill="#808080" fill-opacity="0.35" stroke="#808080" stroke-width="0.9"/>
<path d="M395.81 151.42L397.61 153.22L395.81 155.02L394.01 153.22Z" fill="#808080" fill-opacity="0.35" stroke="#808080" stroke-width="0.9"/>
<path d="M402.2 151.42L404 153.22L402.2 155.02L400.4 153.22Z" fill="#808080" fill-opacity="0.35" stroke="#808080" stroke-width="0.9"/>
<path d="M408.59 151.42L410.39 153.22L408.59 155.02L406.79 153.22Z" fill="#808080" fill-opacity="0.35" stroke="#808080" stroke-width="0.9"/>
<path d="M414.97 151.42L416.77 153.22L414.97 155.02L413.17 153.22Z" fill="#808080" fill-opacity="0.35" stroke="#808080" stroke-width="0.9"/>
<path d="M421.36 151.42L423.16 153.22L421.36 155.02L419.56 153.22Z" fill="#808080" fill-opacity="0.35" stroke="#808080" stroke-width="0.9"/>
<path d="M427.75 151.42L429.55 153.22L427.75 155.02L425.95 153.22Z" fill="#808080" fill-opacity="0.35" stroke="#808080" stroke-width="0.9"/>
<path d="M434.14 151.42L435.94 153.22L434.14 155.02L432.34 153.22Z" fill="#808080" fill-opacity="0.35" stroke="#808080" stroke-width="0.9"/>
<path d="M440.52 151.42L442.32 153.22L440.52 155.02L438.72 153.22Z" fill="#808080" fill-opacity="0.35" stroke="#808080" stroke-width="0.9"/>
<path d="M446.91 151.42L448.71 153.22L446.91 155.02L445.11 153.22Z" fill="#808080" fill-opacity="0.35" stroke="#808080" stroke-width="0.9"/>
<path d="M453.3 151.42L455.1 153.22L453.3 155.02L451.5 153.22Z" fill="#808080" fill-opacity="0.35" stroke="#808080" stroke-width="0.9"/>
<path d="M459.69 151.42L461.49 153.22L459.69 155.02L457.89 153.22Z" fill="#808080" fill-opacity="0.35" stroke="#808080" stroke-width="0.9"/>
<path d="M466.07 151.42L467.88 153.22L466.07 155.02L464.27 153.22Z" fill="#808080" fill-opacity="0.35" stroke="#808080" stroke-width="0.9"/>
<path d="M472.46 151.42L474.26 153.22L472.46 155.02L470.66 153.22Z" fill="#808080" fill-opacity="0.35" stroke="#808080" stroke-width="0.9"/>
<path d="M478.85 151.42L480.65 153.22L478.85 155.02L477.05 153.22Z" fill="#808080" fill-opacity="0.35" stroke="#808080" stroke-width="0.9"/>
<path d="M485.24 151.42L487.04 153.22L485.24 155.02L483.44 153.22Z" fill="#808080" fill-opacity="0.35" stroke="#808080" stroke-width="0.9"/>
<path d="M491.62 151.42L493.43 153.22L491.62 155.02L489.82 153.22Z" fill="#808080" fill-opacity="0.35" stroke="#808080" stroke-width="0.9"/>
<path d="M498.01 151.42L499.81 153.22L498.01 155.02L496.21 153.22Z" fill="#808080" fill-opacity="0.35" stroke="#808080" stroke-width="0.9"/>
<path d="M504.4 151.42L506.2 153.22L504.4 155.02L502.6 153.22Z" fill="#808080" fill-opacity="0.35" stroke="#808080" stroke-width="0.9"/>
<path d="M300 153.03L306.39 153.03L312.77 153.03L319.16 153.03L325.55 153.03L331.94 153.03L338.32 153.03L344.71 153.03L351.1 153.03L357.49 152.44L363.88 151.85L370.26 151.66L376.65 151.47L383.04 151.27L389.42 151.27L395.81 151.27L402.2 151.27L408.59 151.27L414.97 151.27L421.36 151.27L427.75 151.27L434.14 151.27L440.52 151.27L446.91 151.27L453.3 151.27L459.69 151.27L466.07 151.27L472.46 151.27L478.85 151.27L485.24 151.27L491.62 151.27L498.01 151.27L504.4 151.27" fill="none" stroke="#4fd6a6" stroke-width="1.0" stroke-linejoin="round"/>
<rect x="298.4" y="151.43" width="3.2" height="3.2" fill="#4fd6a6" fill-opacity="0.35" stroke="#4fd6a6" stroke-width="0.9"/>
<rect x="304.79" y="151.43" width="3.2" height="3.2" fill="#4fd6a6" fill-opacity="0.35" stroke="#4fd6a6" stroke-width="0.9"/>
<rect x="311.17" y="151.43" width="3.2" height="3.2" fill="#4fd6a6" fill-opacity="0.35" stroke="#4fd6a6" stroke-width="0.9"/>
<rect x="317.56" y="151.43" width="3.2" height="3.2" fill="#4fd6a6" fill-opacity="0.35" stroke="#4fd6a6" stroke-width="0.9"/>
<rect x="323.95" y="151.43" width="3.2" height="3.2" fill="#4fd6a6" fill-opacity="0.35" stroke="#4fd6a6" stroke-width="0.9"/>
<rect x="330.34" y="151.43" width="3.2" height="3.2" fill="#4fd6a6" fill-opacity="0.35" stroke="#4fd6a6" stroke-width="0.9"/>
<rect x="336.72" y="151.43" width="3.2" height="3.2" fill="#4fd6a6" fill-opacity="0.35" stroke="#4fd6a6" stroke-width="0.9"/>
<rect x="343.11" y="151.43" width="3.2" height="3.2" fill="#4fd6a6" fill-opacity="0.35" stroke="#4fd6a6" stroke-width="0.9"/>
<rect x="349.5" y="151.43" width="3.2" height="3.2" fill="#4fd6a6" fill-opacity="0.35" stroke="#4fd6a6" stroke-width="0.9"/>
<rect x="355.89" y="150.84" width="3.2" height="3.2" fill="#4fd6a6" fill-opacity="0.35" stroke="#4fd6a6" stroke-width="0.9"/>
<rect x="362.27" y="150.25" width="3.2" height="3.2" fill="#4fd6a6" fill-opacity="0.35" stroke="#4fd6a6" stroke-width="0.9"/>
<rect x="368.66" y="150.06" width="3.2" height="3.2" fill="#4fd6a6" fill-opacity="0.35" stroke="#4fd6a6" stroke-width="0.9"/>
<rect x="375.05" y="149.87" width="3.2" height="3.2" fill="#4fd6a6" fill-opacity="0.35" stroke="#4fd6a6" stroke-width="0.9"/>
<rect x="381.44" y="149.67" width="3.2" height="3.2" fill="#4fd6a6" fill-opacity="0.35" stroke="#4fd6a6" stroke-width="0.9"/>
<rect x="387.82" y="149.67" width="3.2" height="3.2" fill="#4fd6a6" fill-opacity="0.35" stroke="#4fd6a6" stroke-width="0.9"/>
<rect x="394.21" y="149.67" width="3.2" height="3.2" fill="#4fd6a6" fill-opacity="0.35" stroke="#4fd6a6" stroke-width="0.9"/>
<rect x="400.6" y="149.67" width="3.2" height="3.2" fill="#4fd6a6" fill-opacity="0.35" stroke="#4fd6a6" stroke-width="0.9"/>
<rect x="406.99" y="149.67" width="3.2" height="3.2" fill="#4fd6a6" fill-opacity="0.35" stroke="#4fd6a6" stroke-width="0.9"/>
<rect x="413.37" y="149.67" width="3.2" height="3.2" fill="#4fd6a6" fill-opacity="0.35" stroke="#4fd6a6" stroke-width="0.9"/>
<rect x="419.76" y="149.67" width="3.2" height="3.2" fill="#4fd6a6" fill-opacity="0.35" stroke="#4fd6a6" stroke-width="0.9"/>
<rect x="426.15" y="149.67" width="3.2" height="3.2" fill="#4fd6a6" fill-opacity="0.35" stroke="#4fd6a6" stroke-width="0.9"/>
<rect x="432.54" y="149.67" width="3.2" height="3.2" fill="#4fd6a6" fill-opacity="0.35" stroke="#4fd6a6" stroke-width="0.9"/>
<rect x="438.92" y="149.67" width="3.2" height="3.2" fill="#4fd6a6" fill-opacity="0.35" stroke="#4fd6a6" stroke-width="0.9"/>
<rect x="445.31" y="149.67" width="3.2" height="3.2" fill="#4fd6a6" fill-opacity="0.35" stroke="#4fd6a6" stroke-width="0.9"/>
<rect x="451.7" y="149.67" width="3.2" height="3.2" fill="#4fd6a6" fill-opacity="0.35" stroke="#4fd6a6" stroke-width="0.9"/>
<rect x="458.09" y="149.67" width="3.2" height="3.2" fill="#4fd6a6" fill-opacity="0.35" stroke="#4fd6a6" stroke-width="0.9"/>
<rect x="464.47" y="149.67" width="3.2" height="3.2" fill="#4fd6a6" fill-opacity="0.35" stroke="#4fd6a6" stroke-width="0.9"/>
<rect x="470.86" y="149.67" width="3.2" height="3.2" fill="#4fd6a6" fill-opacity="0.35" stroke="#4fd6a6" stroke-width="0.9"/>
<rect x="477.25" y="149.67" width="3.2" height="3.2" fill="#4fd6a6" fill-opacity="0.35" stroke="#4fd6a6" stroke-width="0.9"/>
<rect x="483.64" y="149.67" width="3.2" height="3.2" fill="#4fd6a6" fill-opacity="0.35" stroke="#4fd6a6" stroke-width="0.9"/>
<rect x="490.02" y="149.67" width="3.2" height="3.2" fill="#4fd6a6" fill-opacity="0.35" stroke="#4fd6a6" stroke-width="0.9"/>
<rect x="496.41" y="149.67" width="3.2" height="3.2" fill="#4fd6a6" fill-opacity="0.35" stroke="#4fd6a6" stroke-width="0.9"/>
<rect x="502.8" y="149.67" width="3.2" height="3.2" fill="#4fd6a6" fill-opacity="0.35" stroke="#4fd6a6" stroke-width="0.9"/>
<path d="M300 153.03L306.39 153.03L312.77 153.03L319.16 153.03L325.55 153.03L331.94 153.03L338.32 153.03L344.71 153.03L351.1 153.03L357.49 151.27L363.88 150.1L370.26 149.71L376.65 149.51L383.04 149.32L389.42 149.32L395.81 149.32L402.2 149.32L408.59 149.32L414.97 149.32L421.36 149.32L427.75 149.32L434.14 149.32L440.52 149.51L446.91 149.51L453.3 149.51L459.69 149.51L466.07 149.51L472.46 149.51L478.85 149.71L485.24 149.71L491.62 149.71L498.01 149.71L504.4 149.71" fill="none" stroke="#4cb848" stroke-width="1.0" stroke-linejoin="round"/>
<path d="M300 151.12L301.9 153.03L300 154.93L298.1 153.03Z" fill="#4cb848"/>
<path d="M306.39 151.12L308.29 153.03L306.39 154.93L304.49 153.03Z" fill="#4cb848"/>
<path d="M312.77 151.12L314.67 153.03L312.77 154.93L310.88 153.03Z" fill="#4cb848"/>
<path d="M319.16 151.12L321.06 153.03L319.16 154.93L317.26 153.03Z" fill="#4cb848"/>
<path d="M325.55 151.12L327.45 153.03L325.55 154.93L323.65 153.03Z" fill="#4cb848"/>
<path d="M331.94 151.12L333.84 153.03L331.94 154.93L330.04 153.03Z" fill="#4cb848"/>
<path d="M338.32 151.12L340.22 153.03L338.32 154.93L336.43 153.03Z" fill="#4cb848"/>
<path d="M344.71 151.12L346.61 153.03L344.71 154.93L342.81 153.03Z" fill="#4cb848"/>
<path d="M351.1 151.12L353 153.03L351.1 154.93L349.2 153.03Z" fill="#4cb848"/>
<path d="M357.49 149.37L359.39 151.27L357.49 153.17L355.59 151.27Z" fill="#4cb848"/>
<path d="M363.88 148.2L365.77 150.1L363.88 152L361.98 150.1Z" fill="#4cb848"/>
<path d="M370.26 147.81L372.16 149.71L370.26 151.61L368.36 149.71Z" fill="#4cb848"/>
<path d="M376.65 147.61L378.55 149.51L376.65 151.41L374.75 149.51Z" fill="#4cb848"/>
<path d="M383.04 147.42L384.94 149.32L383.04 151.22L381.14 149.32Z" fill="#4cb848"/>
<path d="M389.42 147.42L391.32 149.32L389.42 151.22L387.52 149.32Z" fill="#4cb848"/>
<path d="M395.81 147.42L397.71 149.32L395.81 151.22L393.91 149.32Z" fill="#4cb848"/>
<path d="M402.2 147.42L404.1 149.32L402.2 151.22L400.3 149.32Z" fill="#4cb848"/>
<path d="M408.59 147.42L410.49 149.32L408.59 151.22L406.69 149.32Z" fill="#4cb848"/>
<path d="M414.97 147.42L416.87 149.32L414.97 151.22L413.07 149.32Z" fill="#4cb848"/>
<path d="M421.36 147.42L423.26 149.32L421.36 151.22L419.46 149.32Z" fill="#4cb848"/>
<path d="M427.75 147.42L429.65 149.32L427.75 151.22L425.85 149.32Z" fill="#4cb848"/>
<path d="M434.14 147.42L436.04 149.32L434.14 151.22L432.24 149.32Z" fill="#4cb848"/>
<path d="M440.52 147.61L442.42 149.51L440.52 151.41L438.62 149.51Z" fill="#4cb848"/>
<path d="M446.91 147.61L448.81 149.51L446.91 151.41L445.01 149.51Z" fill="#4cb848"/>
<path d="M453.3 147.61L455.2 149.51L453.3 151.41L451.4 149.51Z" fill="#4cb848"/>
<path d="M459.69 147.61L461.59 149.51L459.69 151.41L457.79 149.51Z" fill="#4cb848"/>
<path d="M466.07 147.61L467.97 149.51L466.07 151.41L464.18 149.51Z" fill="#4cb848"/>
<path d="M472.46 147.61L474.36 149.51L472.46 151.41L470.56 149.51Z" fill="#4cb848"/>
<path d="M478.85 147.81L480.75 149.71L478.85 151.61L476.95 149.71Z" fill="#4cb848"/>
<path d="M485.24 147.81L487.14 149.71L485.24 151.61L483.34 149.71Z" fill="#4cb848"/>
<path d="M491.62 147.81L493.52 149.71L491.62 151.61L489.73 149.71Z" fill="#4cb848"/>
<path d="M498.01 147.81L499.91 149.71L498.01 151.61L496.11 149.71Z" fill="#4cb848"/>
<path d="M504.4 147.81L506.3 149.71L504.4 151.61L502.5 149.71Z" fill="#4cb848"/>
<path d="M300 153.03L306.39 153.03L312.77 153.03L319.16 153.03L325.55 153.03L331.94 153.03L338.32 153.03L344.71 153.03L351.1 153.03L357.49 150.49L363.88 148.15L370.26 146.98L376.65 146.2L383.04 145.81L389.42 145.81L395.81 145.81L402.2 145.81L408.59 145.81L414.97 146L421.36 146L427.75 146.2L434.14 146.2L440.52 146.2L446.91 146.2L453.3 146.4L459.69 146.4L466.07 146.4L472.46 146.59L478.85 146.59L485.24 146.59L491.62 146.78L498.01 146.78L504.4 146.78" fill="none" stroke="#f7943a" stroke-width="1.0" stroke-linejoin="round"/>
<path d="M300 152.63V153.41M298.4 152.63H301.6M298.4 153.41H301.6" stroke="#f7943a" stroke-width="0.9" fill="none"/>
<path d="M306.39 152.63V153.41M304.79 152.63H307.99M304.79 153.41H307.99" stroke="#f7943a" stroke-width="0.9" fill="none"/>
<path d="M312.77 152.63V153.41M311.17 152.63H314.38M311.17 153.41H314.38" stroke="#f7943a" stroke-width="0.9" fill="none"/>
<path d="M319.16 152.63V153.41M317.56 152.63H320.76M317.56 153.41H320.76" stroke="#f7943a" stroke-width="0.9" fill="none"/>
<path d="M325.55 152.63V153.41M323.95 152.63H327.15M323.95 153.41H327.15" stroke="#f7943a" stroke-width="0.9" fill="none"/>
<path d="M331.94 152.63V153.41M330.34 152.63H333.54M330.34 153.41H333.54" stroke="#f7943a" stroke-width="0.9" fill="none"/>
<path d="M338.32 152.63V153.41M336.72 152.63H339.93M336.72 153.41H339.93" stroke="#f7943a" stroke-width="0.9" fill="none"/>
<path d="M344.71 152.63V153.41M343.11 152.63H346.31M343.11 153.41H346.31" stroke="#f7943a" stroke-width="0.9" fill="none"/>
<path d="M351.1 152.63V153.41M349.5 152.63H352.7M349.5 153.41H352.7" stroke="#f7943a" stroke-width="0.9" fill="none"/>
<path d="M357.49 150.1V150.88M355.89 150.1H359.09M355.89 150.88H359.09" stroke="#f7943a" stroke-width="0.9" fill="none"/>
<path d="M363.88 147.76V148.54M362.27 147.76H365.48M362.27 148.54H365.48" stroke="#f7943a" stroke-width="0.9" fill="none"/>
<path d="M370.26 146.59V147.37M368.66 146.59H371.86M368.66 147.37H371.86" stroke="#f7943a" stroke-width="0.9" fill="none"/>
<path d="M376.65 145.81V146.59M375.05 145.81H378.25M375.05 146.59H378.25" stroke="#f7943a" stroke-width="0.9" fill="none"/>
<path d="M383.04 145.42V146.2M381.44 145.42H384.64M381.44 146.2H384.64" stroke="#f7943a" stroke-width="0.9" fill="none"/>
<path d="M389.42 145.42V146.2M387.82 145.42H391.02M387.82 146.2H391.02" stroke="#f7943a" stroke-width="0.9" fill="none"/>
<path d="M395.81 145.42V146.2M394.21 145.42H397.41M394.21 146.2H397.41" stroke="#f7943a" stroke-width="0.9" fill="none"/>
<path d="M402.2 145.42V146.2M400.6 145.42H403.8M400.6 146.2H403.8" stroke="#f7943a" stroke-width="0.9" fill="none"/>
<path d="M408.59 145.42V146.2M406.99 145.42H410.19M406.99 146.2H410.19" stroke="#f7943a" stroke-width="0.9" fill="none"/>
<path d="M414.97 145.62V146.4M413.37 145.62H416.57M413.37 146.4H416.57" stroke="#f7943a" stroke-width="0.9" fill="none"/>
<path d="M421.36 145.62V146.4M419.76 145.62H422.96M419.76 146.4H422.96" stroke="#f7943a" stroke-width="0.9" fill="none"/>
<path d="M427.75 145.81V146.59M426.15 145.81H429.35M426.15 146.59H429.35" stroke="#f7943a" stroke-width="0.9" fill="none"/>
<path d="M434.14 145.81V146.59M432.54 145.81H435.74M432.54 146.59H435.74" stroke="#f7943a" stroke-width="0.9" fill="none"/>
<path d="M440.52 145.81V146.59M438.92 145.81H442.12M438.92 146.59H442.12" stroke="#f7943a" stroke-width="0.9" fill="none"/>
<path d="M446.91 145.81V146.59M445.31 145.81H448.51M445.31 146.59H448.51" stroke="#f7943a" stroke-width="0.9" fill="none"/>
<path d="M453.3 146V146.78M451.7 146H454.9M451.7 146.78H454.9" stroke="#f7943a" stroke-width="0.9" fill="none"/>
<path d="M459.69 146V146.78M458.09 146H461.29M458.09 146.78H461.29" stroke="#f7943a" stroke-width="0.9" fill="none"/>
<path d="M466.07 146V146.78M464.47 146H467.68M464.47 146.78H467.68" stroke="#f7943a" stroke-width="0.9" fill="none"/>
<path d="M472.46 146.2V146.98M470.86 146.2H474.06M470.86 146.98H474.06" stroke="#f7943a" stroke-width="0.9" fill="none"/>
<path d="M478.85 146.2V146.98M477.25 146.2H480.45M477.25 146.98H480.45" stroke="#f7943a" stroke-width="0.9" fill="none"/>
<path d="M485.24 146.2V146.98M483.64 146.2H486.84M483.64 146.98H486.84" stroke="#f7943a" stroke-width="0.9" fill="none"/>
<path d="M491.62 146.4V147.18M490.02 146.4H493.23M490.02 147.18H493.23" stroke="#f7943a" stroke-width="0.9" fill="none"/>
<path d="M498.01 146.4V147.18M496.41 146.4H499.61M496.41 147.18H499.61" stroke="#f7943a" stroke-width="0.9" fill="none"/>
<path d="M504.4 146.4V147.18M502.8 146.4H506M502.8 147.18H506" stroke="#f7943a" stroke-width="0.9" fill="none"/>
<path d="M300 150.83L302.2 154.68L297.8 154.68Z" fill="#f7943a"/>
<path d="M306.39 150.83L308.59 154.68L304.19 154.68Z" fill="#f7943a"/>
<path d="M312.77 150.83L314.97 154.68L310.57 154.68Z" fill="#f7943a"/>
<path d="M319.16 150.83L321.36 154.68L316.96 154.68Z" fill="#f7943a"/>
<path d="M325.55 150.83L327.75 154.68L323.35 154.68Z" fill="#f7943a"/>
<path d="M331.94 150.83L334.14 154.68L329.74 154.68Z" fill="#f7943a"/>
<path d="M338.32 150.83L340.52 154.68L336.12 154.68Z" fill="#f7943a"/>
<path d="M344.71 150.83L346.91 154.68L342.51 154.68Z" fill="#f7943a"/>
<path d="M351.1 150.83L353.3 154.68L348.9 154.68Z" fill="#f7943a"/>
<path d="M357.49 148.29L359.69 152.14L355.29 152.14Z" fill="#f7943a"/>
<path d="M363.88 145.95L366.07 149.8L361.68 149.8Z" fill="#f7943a"/>
<path d="M370.26 144.78L372.46 148.63L368.06 148.63Z" fill="#f7943a"/>
<path d="M376.65 144L378.85 147.85L374.45 147.85Z" fill="#f7943a"/>
<path d="M383.04 143.61L385.24 147.46L380.84 147.46Z" fill="#f7943a"/>
<path d="M389.42 143.61L391.62 147.46L387.22 147.46Z" fill="#f7943a"/>
<path d="M395.81 143.61L398.01 147.46L393.61 147.46Z" fill="#f7943a"/>
<path d="M402.2 143.61L404.4 147.46L400 147.46Z" fill="#f7943a"/>
<path d="M408.59 143.61L410.79 147.46L406.39 147.46Z" fill="#f7943a"/>
<path d="M414.97 143.81L417.17 147.66L412.77 147.66Z" fill="#f7943a"/>
<path d="M421.36 143.81L423.56 147.66L419.16 147.66Z" fill="#f7943a"/>
<path d="M427.75 144L429.95 147.85L425.55 147.85Z" fill="#f7943a"/>
<path d="M434.14 144L436.34 147.85L431.94 147.85Z" fill="#f7943a"/>
<path d="M440.52 144L442.72 147.85L438.32 147.85Z" fill="#f7943a"/>
<path d="M446.91 144L449.11 147.85L444.71 147.85Z" fill="#f7943a"/>
<path d="M453.3 144.2L455.5 148.05L451.1 148.05Z" fill="#f7943a"/>
<path d="M459.69 144.2L461.89 148.05L457.49 148.05Z" fill="#f7943a"/>
<path d="M466.07 144.2L468.27 148.05L463.88 148.05Z" fill="#f7943a"/>
<path d="M472.46 144.39L474.66 148.24L470.26 148.24Z" fill="#f7943a"/>
<path d="M478.85 144.39L481.05 148.24L476.65 148.24Z" fill="#f7943a"/>
<path d="M485.24 144.39L487.44 148.24L483.04 148.24Z" fill="#f7943a"/>
<path d="M491.62 144.59L493.82 148.44L489.43 148.44Z" fill="#f7943a"/>
<path d="M498.01 144.59L500.21 148.44L495.81 148.44Z" fill="#f7943a"/>
<path d="M504.4 144.59L506.6 148.44L502.2 148.44Z" fill="#f7943a"/>
<path d="M300 153.03L306.39 153.03L312.77 153.03L319.16 153.03L325.55 153.03L331.94 153.03L338.32 153.03L344.71 153.03L351.1 153.03L357.49 147.56L363.88 140.35L370.26 136.45L376.65 133.33L383.04 131.19L389.42 129.43L395.81 129.04L402.2 128.65L408.59 128.06L414.97 128.06L421.36 127.67L427.75 129.04L434.14 129.43L440.52 129.82L446.91 130.41L453.3 131.19L459.69 131.57L466.07 132.35L472.46 133.33L478.85 133.91L485.24 134.5L491.62 134.89L498.01 135.28L504.4 136.06" fill="none" stroke="#ee2a24" stroke-width="1.0" stroke-linejoin="round"/>
<path d="M357.49 146.98V148.15M355.89 146.98H359.09M355.89 148.15H359.09" stroke="#ee2a24" stroke-width="0.9" fill="none"/>
<path d="M363.88 139.57V141.13M362.27 139.57H365.48M362.27 141.13H365.48" stroke="#ee2a24" stroke-width="0.9" fill="none"/>
<path d="M370.26 135.47V137.43M368.66 135.47H371.86M368.66 137.43H371.86" stroke="#ee2a24" stroke-width="0.9" fill="none"/>
<path d="M376.65 132.16V134.5M375.05 132.16H378.25M375.05 134.5H378.25" stroke="#ee2a24" stroke-width="0.9" fill="none"/>
<path d="M383.04 130.01V132.35M381.44 130.01H384.64M381.44 132.35H384.64" stroke="#ee2a24" stroke-width="0.9" fill="none"/>
<path d="M389.42 128.06V130.8M387.82 128.06H391.02M387.82 130.8H391.02" stroke="#ee2a24" stroke-width="0.9" fill="none"/>
<path d="M395.81 127.48V130.6M394.21 127.48H397.41M394.21 130.6H397.41" stroke="#ee2a24" stroke-width="0.9" fill="none"/>
<path d="M402.2 127.09V130.21M400.6 127.09H403.8M400.6 130.21H403.8" stroke="#ee2a24" stroke-width="0.9" fill="none"/>
<path d="M408.59 126.5V129.62M406.99 126.5H410.19M406.99 129.62H410.19" stroke="#ee2a24" stroke-width="0.9" fill="none"/>
<path d="M414.97 126.11V130.01M413.37 126.11H416.57M413.37 130.01H416.57" stroke="#ee2a24" stroke-width="0.9" fill="none"/>
<path d="M421.36 125.72V129.62M419.76 125.72H422.96M419.76 129.62H422.96" stroke="#ee2a24" stroke-width="0.9" fill="none"/>
<path d="M427.75 127.48V130.6M426.15 127.48H429.35M426.15 130.6H429.35" stroke="#ee2a24" stroke-width="0.9" fill="none"/>
<path d="M434.14 127.87V130.99M432.54 127.87H435.74M432.54 130.99H435.74" stroke="#ee2a24" stroke-width="0.9" fill="none"/>
<path d="M440.52 128.65V130.99M438.92 128.65H442.12M438.92 130.99H442.12" stroke="#ee2a24" stroke-width="0.9" fill="none"/>
<path d="M446.91 129.24V131.57M445.31 129.24H448.51M445.31 131.57H448.51" stroke="#ee2a24" stroke-width="0.9" fill="none"/>
<path d="M453.3 130.01V132.35M451.7 130.01H454.9M451.7 132.35H454.9" stroke="#ee2a24" stroke-width="0.9" fill="none"/>
<path d="M459.69 130.01V133.13M458.09 130.01H461.29M458.09 133.13H461.29" stroke="#ee2a24" stroke-width="0.9" fill="none"/>
<path d="M466.07 131.19V133.53M464.47 131.19H467.68M464.47 133.53H467.68" stroke="#ee2a24" stroke-width="0.9" fill="none"/>
<path d="M472.46 132.35V134.31M470.86 132.35H474.06M470.86 134.31H474.06" stroke="#ee2a24" stroke-width="0.9" fill="none"/>
<path d="M478.85 132.75V135.09M477.25 132.75H480.45M477.25 135.09H480.45" stroke="#ee2a24" stroke-width="0.9" fill="none"/>
<path d="M485.24 133.33V135.67M483.64 133.33H486.84M483.64 135.67H486.84" stroke="#ee2a24" stroke-width="0.9" fill="none"/>
<path d="M491.62 133.91V135.87M490.02 133.91H493.23M490.02 135.87H493.23" stroke="#ee2a24" stroke-width="0.9" fill="none"/>
<path d="M498.01 134.5V136.06M496.41 134.5H499.61M496.41 136.06H499.61" stroke="#ee2a24" stroke-width="0.9" fill="none"/>
<path d="M504.4 135.47V136.65M502.8 135.47H506M502.8 136.65H506" stroke="#ee2a24" stroke-width="0.9" fill="none"/>
<circle cx="300" cy="153.03" r="1.75" fill="#ee2a24"/>
<circle cx="306.39" cy="153.03" r="1.75" fill="#ee2a24"/>
<circle cx="312.77" cy="153.03" r="1.75" fill="#ee2a24"/>
<circle cx="319.16" cy="153.03" r="1.75" fill="#ee2a24"/>
<circle cx="325.55" cy="153.03" r="1.75" fill="#ee2a24"/>
<circle cx="331.94" cy="153.03" r="1.75" fill="#ee2a24"/>
<circle cx="338.32" cy="153.03" r="1.75" fill="#ee2a24"/>
<circle cx="344.71" cy="153.03" r="1.75" fill="#ee2a24"/>
<circle cx="351.1" cy="153.03" r="1.75" fill="#ee2a24"/>
<circle cx="357.49" cy="147.56" r="1.75" fill="#ee2a24"/>
<circle cx="363.88" cy="140.35" r="1.75" fill="#ee2a24"/>
<circle cx="370.26" cy="136.45" r="1.75" fill="#ee2a24"/>
<circle cx="376.65" cy="133.33" r="1.75" fill="#ee2a24"/>
<circle cx="383.04" cy="131.19" r="1.75" fill="#ee2a24"/>
<circle cx="389.42" cy="129.43" r="1.75" fill="#ee2a24"/>
<circle cx="395.81" cy="129.04" r="1.75" fill="#ee2a24"/>
<circle cx="402.2" cy="128.65" r="1.75" fill="#ee2a24"/>
<circle cx="408.59" cy="128.06" r="1.75" fill="#ee2a24"/>
<circle cx="414.97" cy="128.06" r="1.75" fill="#ee2a24"/>
<circle cx="421.36" cy="127.67" r="1.75" fill="#ee2a24"/>
<circle cx="427.75" cy="129.04" r="1.75" fill="#ee2a24"/>
<circle cx="434.14" cy="129.43" r="1.75" fill="#ee2a24"/>
<circle cx="440.52" cy="129.82" r="1.75" fill="#ee2a24"/>
<circle cx="446.91" cy="130.41" r="1.75" fill="#ee2a24"/>
<circle cx="453.3" cy="131.19" r="1.75" fill="#ee2a24"/>
<circle cx="459.69" cy="131.57" r="1.75" fill="#ee2a24"/>
<circle cx="466.07" cy="132.35" r="1.75" fill="#ee2a24"/>
<circle cx="472.46" cy="133.33" r="1.75" fill="#ee2a24"/>
<circle cx="478.85" cy="133.91" r="1.75" fill="#ee2a24"/>
<circle cx="485.24" cy="134.5" r="1.75" fill="#ee2a24"/>
<circle cx="491.62" cy="134.89" r="1.75" fill="#ee2a24"/>
<circle cx="498.01" cy="135.28" r="1.75" fill="#ee2a24"/>
<circle cx="504.4" cy="136.06" r="1.75" fill="#ee2a24"/>
<path d="M300 153.03L306.39 153.03L312.77 153.03L319.16 153.03L325.55 153.03L331.94 153.03L338.32 153.03L344.71 153.03L351.1 153.03L357.49 133.33L363.88 101.74L370.26 76L376.65 58.06L383.04 48.5L389.42 44.8L395.81 47.53L402.2 51.04L408.59 55.14L414.97 62.94L421.36 70.93L427.75 76.97L434.14 83.61L440.52 88.09L446.91 93.55L453.3 96.28L459.69 99.4L466.07 102.72L472.46 104.86L478.85 107.4L485.24 108.17L491.62 111.49L498.01 113.05L504.4 113.63" fill="none" stroke="#000" stroke-width="1.0" stroke-linejoin="round"/>
<path d="M357.49 131.77V134.89M355.89 131.77H359.09M355.89 134.89H359.09" stroke="#000" stroke-width="0.9" fill="none"/>
<path d="M363.88 99.79V103.69M362.27 99.79H365.48M362.27 103.69H365.48" stroke="#000" stroke-width="0.9" fill="none"/>
<path d="M370.26 72.1V79.9M368.66 72.1H371.86M368.66 79.9H371.86" stroke="#000" stroke-width="0.9" fill="none"/>
<path d="M376.65 52.21V63.91M375.05 52.21H378.25M375.05 63.91H378.25" stroke="#000" stroke-width="0.9" fill="none"/>
<path d="M383.04 43.63V53.38M381.44 43.63H384.64M381.44 53.38H384.64" stroke="#000" stroke-width="0.9" fill="none"/>
<path d="M389.42 39.92V49.67M387.82 39.92H391.02M387.82 49.67H391.02" stroke="#000" stroke-width="0.9" fill="none"/>
<path d="M395.81 42.66V52.41M394.21 42.66H397.41M394.21 52.41H397.41" stroke="#000" stroke-width="0.9" fill="none"/>
<path d="M402.2 46.17V55.92M400.6 46.17H403.8M400.6 55.92H403.8" stroke="#000" stroke-width="0.9" fill="none"/>
<path d="M408.59 52.21V58.06M406.99 52.21H410.19M406.99 58.06H410.19" stroke="#000" stroke-width="0.9" fill="none"/>
<path d="M414.97 60.01V65.86M413.37 60.01H416.57M413.37 65.86H416.57" stroke="#000" stroke-width="0.9" fill="none"/>
<path d="M421.36 68V73.86M419.76 68H422.96M419.76 73.86H422.96" stroke="#000" stroke-width="0.9" fill="none"/>
<path d="M427.75 74.64V79.31M426.15 74.64H429.35M426.15 79.31H429.35" stroke="#000" stroke-width="0.9" fill="none"/>
<path d="M434.14 80.68V86.53M432.54 80.68H435.74M432.54 86.53H435.74" stroke="#000" stroke-width="0.9" fill="none"/>
<path d="M440.52 86.14V90.04M438.92 86.14H442.12M438.92 90.04H442.12" stroke="#000" stroke-width="0.9" fill="none"/>
<path d="M446.91 90.62V96.47M445.31 90.62H448.51M445.31 96.47H448.51" stroke="#000" stroke-width="0.9" fill="none"/>
<path d="M453.3 93.94V98.62M451.7 93.94H454.9M451.7 98.62H454.9" stroke="#000" stroke-width="0.9" fill="none"/>
<path d="M459.69 96.47V102.33M458.09 96.47H461.29M458.09 102.33H461.29" stroke="#000" stroke-width="0.9" fill="none"/>
<path d="M466.07 100.77V104.66M464.47 100.77H467.68M464.47 104.66H467.68" stroke="#000" stroke-width="0.9" fill="none"/>
<path d="M472.46 103.88V105.84M470.86 103.88H474.06M470.86 105.84H474.06" stroke="#000" stroke-width="0.9" fill="none"/>
<path d="M478.85 105.44V109.34M477.25 105.44H480.45M477.25 109.34H480.45" stroke="#000" stroke-width="0.9" fill="none"/>
<path d="M485.24 106.22V110.12M483.64 106.22H486.84M483.64 110.12H486.84" stroke="#000" stroke-width="0.9" fill="none"/>
<path d="M491.62 109.93V113.05M490.02 109.93H493.23M490.02 113.05H493.23" stroke="#000" stroke-width="0.9" fill="none"/>
<path d="M498.01 111.49V114.61M496.41 111.49H499.61M496.41 114.61H499.61" stroke="#000" stroke-width="0.9" fill="none"/>
<path d="M504.4 111.3V115.97M502.8 111.3H506M502.8 115.97H506" stroke="#000" stroke-width="0.9" fill="none"/>
<rect x="297.9" y="150.93" width="4.2" height="4.2" fill="#000"/>
<rect x="304.29" y="150.93" width="4.2" height="4.2" fill="#000"/>
<rect x="310.67" y="150.93" width="4.2" height="4.2" fill="#000"/>
<rect x="317.06" y="150.93" width="4.2" height="4.2" fill="#000"/>
<rect x="323.45" y="150.93" width="4.2" height="4.2" fill="#000"/>
<rect x="329.84" y="150.93" width="4.2" height="4.2" fill="#000"/>
<rect x="336.22" y="150.93" width="4.2" height="4.2" fill="#000"/>
<rect x="342.61" y="150.93" width="4.2" height="4.2" fill="#000"/>
<rect x="349" y="150.93" width="4.2" height="4.2" fill="#000"/>
<rect x="355.39" y="131.23" width="4.2" height="4.2" fill="#000"/>
<rect x="361.77" y="99.64" width="4.2" height="4.2" fill="#000"/>
<rect x="368.16" y="73.9" width="4.2" height="4.2" fill="#000"/>
<rect x="374.55" y="55.96" width="4.2" height="4.2" fill="#000"/>
<rect x="380.94" y="46.4" width="4.2" height="4.2" fill="#000"/>
<rect x="387.32" y="42.7" width="4.2" height="4.2" fill="#000"/>
<rect x="393.71" y="45.43" width="4.2" height="4.2" fill="#000"/>
<rect x="400.1" y="48.94" width="4.2" height="4.2" fill="#000"/>
<rect x="406.49" y="53.04" width="4.2" height="4.2" fill="#000"/>
<rect x="412.87" y="60.84" width="4.2" height="4.2" fill="#000"/>
<rect x="419.26" y="68.83" width="4.2" height="4.2" fill="#000"/>
<rect x="425.65" y="74.88" width="4.2" height="4.2" fill="#000"/>
<rect x="432.04" y="81.51" width="4.2" height="4.2" fill="#000"/>
<rect x="438.42" y="85.99" width="4.2" height="4.2" fill="#000"/>
<rect x="444.81" y="91.45" width="4.2" height="4.2" fill="#000"/>
<rect x="451.2" y="94.18" width="4.2" height="4.2" fill="#000"/>
<rect x="457.59" y="97.3" width="4.2" height="4.2" fill="#000"/>
<rect x="463.97" y="100.62" width="4.2" height="4.2" fill="#000"/>
<rect x="470.36" y="102.76" width="4.2" height="4.2" fill="#000"/>
<rect x="476.75" y="105.3" width="4.2" height="4.2" fill="#000"/>
<rect x="483.14" y="106.08" width="4.2" height="4.2" fill="#000"/>
<rect x="489.52" y="109.39" width="4.2" height="4.2" fill="#000"/>
<rect x="495.91" y="110.95" width="4.2" height="4.2" fill="#000"/>
<rect x="502.3" y="111.53" width="4.2" height="4.2" fill="#000"/>
<path d="M361.4 109.9L361.4 118.5M357.68 112.05L365.12 116.35M357.68 116.35L365.12 112.05" stroke="#000" stroke-width="1.4" fill="none"/>
<line x1="473.2" y1="21.5" x2="483.9" y2="21.5" stroke="#000" stroke-width="1.0"/>
<rect x="476.24" y="19.19" width="4.62" height="4.62" fill="#000"/>
<text x="489.4" y="25.37" font-size="10.75" text-anchor="start" font-weight="bold" fill="#000" >10 <tspan font-weight="normal">μ</tspan>M FSK</text>
<line x1="473.2" y1="35.7" x2="483.9" y2="35.7" stroke="#ee2a24" stroke-width="1.0"/>
<circle cx="478.55" cy="35.7" r="1.93" fill="#ee2a24"/>
<text x="489.4" y="39.57" font-size="10.75" text-anchor="start" font-weight="bold" fill="#000" >3 <tspan font-weight="normal">μ</tspan>M FSK</text>
<line x1="473.2" y1="51" x2="483.9" y2="51" stroke="#f7943a" stroke-width="1.0"/>
<path d="M478.55 48.58L480.97 52.81L476.13 52.81Z" fill="#f7943a"/>
<text x="489.4" y="54.87" font-size="10.75" text-anchor="start" font-weight="bold" fill="#000" >1 <tspan font-weight="normal">μ</tspan>M FSK</text>
<line x1="473.2" y1="63.6" x2="483.9" y2="63.6" stroke="#4cb848" stroke-width="1.0"/>
<path d="M478.55 61.51L480.64 63.6L478.55 65.69L476.46 63.6Z" fill="#4cb848"/>
<text x="489.4" y="67.47" font-size="10.75" text-anchor="start" font-weight="bold" fill="#000" >0.3 <tspan font-weight="normal">μ</tspan>M FSK</text>
<line x1="473.2" y1="76.2" x2="483.9" y2="76.2" stroke="#4fd6a6" stroke-width="1.0"/>
<rect x="476.79" y="74.44" width="3.52" height="3.52" fill="#4fd6a6" fill-opacity="0.35" stroke="#4fd6a6" stroke-width="0.9"/>
<text x="489.4" y="80.07" font-size="10.75" text-anchor="start" font-weight="bold" fill="#000" >0.1 <tspan font-weight="normal">μ</tspan>M FSK</text>
<line x1="473.2" y1="90.9" x2="483.9" y2="90.9" stroke="#808080" stroke-width="1.0"/>
<path d="M478.55 88.92L480.53 90.9L478.55 92.88L476.57 90.9Z" fill="#808080" fill-opacity="0.35" stroke="#808080" stroke-width="0.9"/>
<text x="489.4" y="94.77" font-size="10.75" text-anchor="start" font-weight="bold" fill="#000" >HBSS</text>
<line x1="50.6" y1="205.5" x2="50.6" y2="342.5" stroke="#222" stroke-width="1.0"/>
<line x1="47.6" y1="342.5" x2="50.6" y2="342.5" stroke="#222" stroke-width="1.0"/>
<text x="46.4" y="346.1" font-size="10" text-anchor="end" font-weight="normal" fill="#222" >0</text>
<line x1="47.6" y1="319.67" x2="50.6" y2="319.67" stroke="#222" stroke-width="1.0"/>
<text x="46.4" y="323.27" font-size="10" text-anchor="end" font-weight="normal" fill="#222" >20</text>
<line x1="47.6" y1="296.83" x2="50.6" y2="296.83" stroke="#222" stroke-width="1.0"/>
<text x="46.4" y="300.43" font-size="10" text-anchor="end" font-weight="normal" fill="#222" >40</text>
<line x1="47.6" y1="274" x2="50.6" y2="274" stroke="#222" stroke-width="1.0"/>
<text x="46.4" y="277.6" font-size="10" text-anchor="end" font-weight="normal" fill="#222" >60</text>
<line x1="47.6" y1="251.17" x2="50.6" y2="251.17" stroke="#222" stroke-width="1.0"/>
<text x="46.4" y="254.77" font-size="10" text-anchor="end" font-weight="normal" fill="#222" >80</text>
<line x1="47.6" y1="228.33" x2="50.6" y2="228.33" stroke="#222" stroke-width="1.0"/>
<text x="46.4" y="231.93" font-size="10" text-anchor="end" font-weight="normal" fill="#222" >100</text>
<line x1="47.6" y1="205.5" x2="50.6" y2="205.5" stroke="#222" stroke-width="1.0"/>
<text x="46.4" y="209.1" font-size="10" text-anchor="end" font-weight="normal" fill="#222" >120</text>
<line x1="50.6" y1="342.9" x2="255.8" y2="342.9" stroke="#222" stroke-width="1.0"/>
<line x1="50.6" y1="342.9" x2="50.6" y2="345.9" stroke="#222" stroke-width="1.0"/>
<text x="49.6" y="356.7" font-size="10" text-anchor="middle" font-weight="normal" fill="#222" >−20</text>
<line x1="76.25" y1="342.9" x2="76.25" y2="345.9" stroke="#222" stroke-width="1.0"/>
<text x="75.25" y="356.7" font-size="10" text-anchor="middle" font-weight="normal" fill="#222" >−10</text>
<line x1="101.9" y1="342.9" x2="101.9" y2="345.9" stroke="#222" stroke-width="1.0"/>
<text x="101.9" y="356.7" font-size="10" text-anchor="middle" font-weight="normal" fill="#222" >0</text>
<line x1="127.55" y1="342.9" x2="127.55" y2="345.9" stroke="#222" stroke-width="1.0"/>
<text x="127.55" y="356.7" font-size="10" text-anchor="middle" font-weight="normal" fill="#222" >10</text>
<line x1="153.2" y1="342.9" x2="153.2" y2="345.9" stroke="#222" stroke-width="1.0"/>
<text x="153.2" y="356.7" font-size="10" text-anchor="middle" font-weight="normal" fill="#222" >20</text>
<line x1="178.85" y1="342.9" x2="178.85" y2="345.9" stroke="#222" stroke-width="1.0"/>
<text x="178.85" y="356.7" font-size="10" text-anchor="middle" font-weight="normal" fill="#222" >30</text>
<line x1="204.5" y1="342.9" x2="204.5" y2="345.9" stroke="#222" stroke-width="1.0"/>
<text x="204.5" y="356.7" font-size="10" text-anchor="middle" font-weight="normal" fill="#222" >40</text>
<line x1="230.15" y1="342.9" x2="230.15" y2="345.9" stroke="#222" stroke-width="1.0"/>
<text x="230.15" y="356.7" font-size="10" text-anchor="middle" font-weight="normal" fill="#222" >50</text>
<line x1="255.8" y1="342.9" x2="255.8" y2="345.9" stroke="#222" stroke-width="1.0"/>
<text x="255.8" y="356.7" font-size="10" text-anchor="middle" font-weight="normal" fill="#222" >60</text>
<text x="65.6" y="215.3" font-size="12.2" text-anchor="start" font-weight="normal" fill="#000" >ISO alone</text>
<text x="153.8" y="372.3" font-size="11.4" text-anchor="middle" font-weight="bold" fill="#000" >Time (min)</text>
<text x="22.3" y="271.8" font-size="11.3" text-anchor="middle" font-weight="bold" fill="#000" transform="rotate(-90 22.3 271.8)">% 10 <tspan font-weight="normal">μ</tspan>M ISO</text>
<path d="M50.6 340.22L57.01 340.22L63.42 340.22L69.84 340.22L76.25 340.22L82.66 340.22L89.08 340.22L95.49 340.22L101.9 340.22L108.31 340.22L114.72 340.22L121.14 340.22L127.55 340.22L133.96 340.22L140.38 340.22L146.79 340.22L153.2 340.22L159.61 340.22L166.03 340.22L172.44 340.22L178.85 340.22L185.26 340.22L191.68 340.22L198.09 340.22L204.5 340.22L210.91 340.22L217.33 340.22L223.74 340.22L230.15 340.22L236.56 340.22L242.98 340.22L249.39 340.22L255.8 340.22" fill="none" stroke="#808080" stroke-width="1.0" stroke-linejoin="round"/>
<path d="M50.6 338.42L52.4 340.22L50.6 342.02L48.8 340.22Z" fill="#808080" fill-opacity="0.35" stroke="#808080" stroke-width="0.9"/>
<path d="M57.01 338.42L58.81 340.22L57.01 342.02L55.21 340.22Z" fill="#808080" fill-opacity="0.35" stroke="#808080" stroke-width="0.9"/>
<path d="M63.42 338.42L65.22 340.22L63.42 342.02L61.62 340.22Z" fill="#808080" fill-opacity="0.35" stroke="#808080" stroke-width="0.9"/>
<path d="M69.84 338.42L71.64 340.22L69.84 342.02L68.04 340.22Z" fill="#808080" fill-opacity="0.35" stroke="#808080" stroke-width="0.9"/>
<path d="M76.25 338.42L78.05 340.22L76.25 342.02L74.45 340.22Z" fill="#808080" fill-opacity="0.35" stroke="#808080" stroke-width="0.9"/>
<path d="M82.66 338.42L84.46 340.22L82.66 342.02L80.86 340.22Z" fill="#808080" fill-opacity="0.35" stroke="#808080" stroke-width="0.9"/>
<path d="M89.08 338.42L90.88 340.22L89.08 342.02L87.28 340.22Z" fill="#808080" fill-opacity="0.35" stroke="#808080" stroke-width="0.9"/>
<path d="M95.49 338.42L97.29 340.22L95.49 342.02L93.69 340.22Z" fill="#808080" fill-opacity="0.35" stroke="#808080" stroke-width="0.9"/>
<path d="M101.9 338.42L103.7 340.22L101.9 342.02L100.1 340.22Z" fill="#808080" fill-opacity="0.35" stroke="#808080" stroke-width="0.9"/>
<path d="M108.31 338.42L110.11 340.22L108.31 342.02L106.51 340.22Z" fill="#808080" fill-opacity="0.35" stroke="#808080" stroke-width="0.9"/>
<path d="M114.72 338.42L116.52 340.22L114.72 342.02L112.92 340.22Z" fill="#808080" fill-opacity="0.35" stroke="#808080" stroke-width="0.9"/>
<path d="M121.14 338.42L122.94 340.22L121.14 342.02L119.34 340.22Z" fill="#808080" fill-opacity="0.35" stroke="#808080" stroke-width="0.9"/>
<path d="M127.55 338.42L129.35 340.22L127.55 342.02L125.75 340.22Z" fill="#808080" fill-opacity="0.35" stroke="#808080" stroke-width="0.9"/>
<path d="M133.96 338.42L135.76 340.22L133.96 342.02L132.16 340.22Z" fill="#808080" fill-opacity="0.35" stroke="#808080" stroke-width="0.9"/>
<path d="M140.38 338.42L142.18 340.22L140.38 342.02L138.57 340.22Z" fill="#808080" fill-opacity="0.35" stroke="#808080" stroke-width="0.9"/>
<path d="M146.79 338.42L148.59 340.22L146.79 342.02L144.99 340.22Z" fill="#808080" fill-opacity="0.35" stroke="#808080" stroke-width="0.9"/>
<path d="M153.2 338.42L155 340.22L153.2 342.02L151.4 340.22Z" fill="#808080" fill-opacity="0.35" stroke="#808080" stroke-width="0.9"/>
<path d="M159.61 338.42L161.41 340.22L159.61 342.02L157.81 340.22Z" fill="#808080" fill-opacity="0.35" stroke="#808080" stroke-width="0.9"/>
<path d="M166.03 338.42L167.83 340.22L166.03 342.02L164.22 340.22Z" fill="#808080" fill-opacity="0.35" stroke="#808080" stroke-width="0.9"/>
<path d="M172.44 338.42L174.24 340.22L172.44 342.02L170.64 340.22Z" fill="#808080" fill-opacity="0.35" stroke="#808080" stroke-width="0.9"/>
<path d="M178.85 338.42L180.65 340.22L178.85 342.02L177.05 340.22Z" fill="#808080" fill-opacity="0.35" stroke="#808080" stroke-width="0.9"/>
<path d="M185.26 338.42L187.06 340.22L185.26 342.02L183.46 340.22Z" fill="#808080" fill-opacity="0.35" stroke="#808080" stroke-width="0.9"/>
<path d="M191.68 338.42L193.48 340.22L191.68 342.02L189.88 340.22Z" fill="#808080" fill-opacity="0.35" stroke="#808080" stroke-width="0.9"/>
<path d="M198.09 338.42L199.89 340.22L198.09 342.02L196.29 340.22Z" fill="#808080" fill-opacity="0.35" stroke="#808080" stroke-width="0.9"/>
<path d="M204.5 338.42L206.3 340.22L204.5 342.02L202.7 340.22Z" fill="#808080" fill-opacity="0.35" stroke="#808080" stroke-width="0.9"/>
<path d="M210.91 338.42L212.71 340.22L210.91 342.02L209.11 340.22Z" fill="#808080" fill-opacity="0.35" stroke="#808080" stroke-width="0.9"/>
<path d="M217.33 338.42L219.13 340.22L217.33 342.02L215.53 340.22Z" fill="#808080" fill-opacity="0.35" stroke="#808080" stroke-width="0.9"/>
<path d="M223.74 338.42L225.54 340.22L223.74 342.02L221.94 340.22Z" fill="#808080" fill-opacity="0.35" stroke="#808080" stroke-width="0.9"/>
<path d="M230.15 338.42L231.95 340.22L230.15 342.02L228.35 340.22Z" fill="#808080" fill-opacity="0.35" stroke="#808080" stroke-width="0.9"/>
<path d="M236.56 338.42L238.36 340.22L236.56 342.02L234.76 340.22Z" fill="#808080" fill-opacity="0.35" stroke="#808080" stroke-width="0.9"/>
<path d="M242.98 338.42L244.78 340.22L242.98 342.02L241.18 340.22Z" fill="#808080" fill-opacity="0.35" stroke="#808080" stroke-width="0.9"/>
<path d="M249.39 338.42L251.19 340.22L249.39 342.02L247.59 340.22Z" fill="#808080" fill-opacity="0.35" stroke="#808080" stroke-width="0.9"/>
<path d="M255.8 338.42L257.6 340.22L255.8 342.02L254 340.22Z" fill="#808080" fill-opacity="0.35" stroke="#808080" stroke-width="0.9"/>
<path d="M50.6 339.99L57.01 339.99L63.42 339.99L69.84 339.99L76.25 339.99L82.66 339.99L89.08 339.99L95.49 339.99L101.9 339.99L108.31 339.99L114.72 339.99L121.14 339.99L127.55 339.99L133.96 339.99L140.38 339.99L146.79 339.99L153.2 339.99L159.61 339.99L166.03 339.99L172.44 339.99L178.85 339.99L185.26 339.99L191.68 339.99L198.09 339.99L204.5 339.99L210.91 339.99L217.33 339.99L223.74 339.99L230.15 339.99L236.56 339.99L242.98 339.99L249.39 339.99L255.8 339.99" fill="none" stroke="#a23ce6" stroke-width="1.0" stroke-linejoin="round"/>
<path d="M50.6 337.99L52.6 341.49L48.6 341.49Z" fill="#a23ce6" fill-opacity="0.35" stroke="#a23ce6" stroke-width="0.9"/>
<path d="M57.01 337.99L59.01 341.49L55.01 341.49Z" fill="#a23ce6" fill-opacity="0.35" stroke="#a23ce6" stroke-width="0.9"/>
<path d="M63.42 337.99L65.42 341.49L61.42 341.49Z" fill="#a23ce6" fill-opacity="0.35" stroke="#a23ce6" stroke-width="0.9"/>
<path d="M69.84 337.99L71.84 341.49L67.84 341.49Z" fill="#a23ce6" fill-opacity="0.35" stroke="#a23ce6" stroke-width="0.9"/>
<path d="M76.25 337.99L78.25 341.49L74.25 341.49Z" fill="#a23ce6" fill-opacity="0.35" stroke="#a23ce6" stroke-width="0.9"/>
<path d="M82.66 337.99L84.66 341.49L80.66 341.49Z" fill="#a23ce6" fill-opacity="0.35" stroke="#a23ce6" stroke-width="0.9"/>
<path d="M89.08 337.99L91.08 341.49L87.08 341.49Z" fill="#a23ce6" fill-opacity="0.35" stroke="#a23ce6" stroke-width="0.9"/>
<path d="M95.49 337.99L97.49 341.49L93.49 341.49Z" fill="#a23ce6" fill-opacity="0.35" stroke="#a23ce6" stroke-width="0.9"/>
<path d="M101.9 337.99L103.9 341.49L99.9 341.49Z" fill="#a23ce6" fill-opacity="0.35" stroke="#a23ce6" stroke-width="0.9"/>
<path d="M108.31 337.99L110.31 341.49L106.31 341.49Z" fill="#a23ce6" fill-opacity="0.35" stroke="#a23ce6" stroke-width="0.9"/>
<path d="M114.72 337.99L116.72 341.49L112.72 341.49Z" fill="#a23ce6" fill-opacity="0.35" stroke="#a23ce6" stroke-width="0.9"/>
<path d="M121.14 337.99L123.14 341.49L119.14 341.49Z" fill="#a23ce6" fill-opacity="0.35" stroke="#a23ce6" stroke-width="0.9"/>
<path d="M127.55 337.99L129.55 341.49L125.55 341.49Z" fill="#a23ce6" fill-opacity="0.35" stroke="#a23ce6" stroke-width="0.9"/>
<path d="M133.96 337.99L135.96 341.49L131.96 341.49Z" fill="#a23ce6" fill-opacity="0.35" stroke="#a23ce6" stroke-width="0.9"/>
<path d="M140.38 337.99L142.38 341.49L138.38 341.49Z" fill="#a23ce6" fill-opacity="0.35" stroke="#a23ce6" stroke-width="0.9"/>
<path d="M146.79 337.99L148.79 341.49L144.79 341.49Z" fill="#a23ce6" fill-opacity="0.35" stroke="#a23ce6" stroke-width="0.9"/>
<path d="M153.2 337.99L155.2 341.49L151.2 341.49Z" fill="#a23ce6" fill-opacity="0.35" stroke="#a23ce6" stroke-width="0.9"/>
<path d="M159.61 337.99L161.61 341.49L157.61 341.49Z" fill="#a23ce6" fill-opacity="0.35" stroke="#a23ce6" stroke-width="0.9"/>
<path d="M166.03 337.99L168.03 341.49L164.03 341.49Z" fill="#a23ce6" fill-opacity="0.35" stroke="#a23ce6" stroke-width="0.9"/>
<path d="M172.44 337.99L174.44 341.49L170.44 341.49Z" fill="#a23ce6" fill-opacity="0.35" stroke="#a23ce6" stroke-width="0.9"/>
<path d="M178.85 337.99L180.85 341.49L176.85 341.49Z" fill="#a23ce6" fill-opacity="0.35" stroke="#a23ce6" stroke-width="0.9"/>
<path d="M185.26 337.99L187.26 341.49L183.26 341.49Z" fill="#a23ce6" fill-opacity="0.35" stroke="#a23ce6" stroke-width="0.9"/>
<path d="M191.68 337.99L193.68 341.49L189.68 341.49Z" fill="#a23ce6" fill-opacity="0.35" stroke="#a23ce6" stroke-width="0.9"/>
<path d="M198.09 337.99L200.09 341.49L196.09 341.49Z" fill="#a23ce6" fill-opacity="0.35" stroke="#a23ce6" stroke-width="0.9"/>
<path d="M204.5 337.99L206.5 341.49L202.5 341.49Z" fill="#a23ce6" fill-opacity="0.35" stroke="#a23ce6" stroke-width="0.9"/>
<path d="M210.91 337.99L212.91 341.49L208.91 341.49Z" fill="#a23ce6" fill-opacity="0.35" stroke="#a23ce6" stroke-width="0.9"/>
<path d="M217.33 337.99L219.33 341.49L215.33 341.49Z" fill="#a23ce6" fill-opacity="0.35" stroke="#a23ce6" stroke-width="0.9"/>
<path d="M223.74 337.99L225.74 341.49L221.74 341.49Z" fill="#a23ce6" fill-opacity="0.35" stroke="#a23ce6" stroke-width="0.9"/>
<path d="M230.15 337.99L232.15 341.49L228.15 341.49Z" fill="#a23ce6" fill-opacity="0.35" stroke="#a23ce6" stroke-width="0.9"/>
<path d="M236.56 337.99L238.56 341.49L234.56 341.49Z" fill="#a23ce6" fill-opacity="0.35" stroke="#a23ce6" stroke-width="0.9"/>
<path d="M242.98 337.99L244.98 341.49L240.98 341.49Z" fill="#a23ce6" fill-opacity="0.35" stroke="#a23ce6" stroke-width="0.9"/>
<path d="M249.39 337.99L251.39 341.49L247.39 341.49Z" fill="#a23ce6" fill-opacity="0.35" stroke="#a23ce6" stroke-width="0.9"/>
<path d="M255.8 337.99L257.8 341.49L253.8 341.49Z" fill="#a23ce6" fill-opacity="0.35" stroke="#a23ce6" stroke-width="0.9"/>
<path d="M50.6 340.22L57.01 340.22L63.42 340.22L69.84 340.22L76.25 340.22L82.66 340.22L89.08 340.22L95.49 340.22L101.9 339.87L108.31 339.07L114.72 339.07L121.14 339.07L127.55 339.07L133.96 339.19L140.38 339.19L146.79 339.3L153.2 339.3L159.61 339.3L166.03 339.3L172.44 339.3L178.85 339.3L185.26 339.3L191.68 339.3L198.09 339.3L204.5 339.3L210.91 339.3L217.33 339.3L223.74 339.3L230.15 339.3L236.56 339.3L242.98 339.3L249.39 339.3L255.8 339.3" fill="none" stroke="#2323e6" stroke-width="1.4" stroke-linejoin="round"/>
<circle cx="50.6" cy="340.22" r="1.6" fill="#2323e6" fill-opacity="0.35" stroke="#2323e6" stroke-width="1"/>
<circle cx="57.01" cy="340.22" r="1.6" fill="#2323e6" fill-opacity="0.35" stroke="#2323e6" stroke-width="1"/>
<circle cx="63.42" cy="340.22" r="1.6" fill="#2323e6" fill-opacity="0.35" stroke="#2323e6" stroke-width="1"/>
<circle cx="69.84" cy="340.22" r="1.6" fill="#2323e6" fill-opacity="0.35" stroke="#2323e6" stroke-width="1"/>
<circle cx="76.25" cy="340.22" r="1.6" fill="#2323e6" fill-opacity="0.35" stroke="#2323e6" stroke-width="1"/>
<circle cx="82.66" cy="340.22" r="1.6" fill="#2323e6" fill-opacity="0.35" stroke="#2323e6" stroke-width="1"/>
<circle cx="89.08" cy="340.22" r="1.6" fill="#2323e6" fill-opacity="0.35" stroke="#2323e6" stroke-width="1"/>
<circle cx="95.49" cy="340.22" r="1.6" fill="#2323e6" fill-opacity="0.35" stroke="#2323e6" stroke-width="1"/>
<circle cx="101.9" cy="339.87" r="1.6" fill="#2323e6" fill-opacity="0.35" stroke="#2323e6" stroke-width="1"/>
<circle cx="108.31" cy="339.07" r="1.6" fill="#2323e6" fill-opacity="0.35" stroke="#2323e6" stroke-width="1"/>
<circle cx="114.72" cy="339.07" r="1.6" fill="#2323e6" fill-opacity="0.35" stroke="#2323e6" stroke-width="1"/>
<circle cx="121.14" cy="339.07" r="1.6" fill="#2323e6" fill-opacity="0.35" stroke="#2323e6" stroke-width="1"/>
<circle cx="127.55" cy="339.07" r="1.6" fill="#2323e6" fill-opacity="0.35" stroke="#2323e6" stroke-width="1"/>
<circle cx="133.96" cy="339.19" r="1.6" fill="#2323e6" fill-opacity="0.35" stroke="#2323e6" stroke-width="1"/>
<circle cx="140.38" cy="339.19" r="1.6" fill="#2323e6" fill-opacity="0.35" stroke="#2323e6" stroke-width="1"/>
<circle cx="146.79" cy="339.3" r="1.6" fill="#2323e6" fill-opacity="0.35" stroke="#2323e6" stroke-width="1"/>
<circle cx="153.2" cy="339.3" r="1.6" fill="#2323e6" fill-opacity="0.35" stroke="#2323e6" stroke-width="1"/>
<circle cx="159.61" cy="339.3" r="1.6" fill="#2323e6" fill-opacity="0.35" stroke="#2323e6" stroke-width="1"/>
<circle cx="166.03" cy="339.3" r="1.6" fill="#2323e6" fill-opacity="0.35" stroke="#2323e6" stroke-width="1"/>
<circle cx="172.44" cy="339.3" r="1.6" fill="#2323e6" fill-opacity="0.35" stroke="#2323e6" stroke-width="1"/>
<circle cx="178.85" cy="339.3" r="1.6" fill="#2323e6" fill-opacity="0.35" stroke="#2323e6" stroke-width="1"/>
<circle cx="185.26" cy="339.3" r="1.6" fill="#2323e6" fill-opacity="0.35" stroke="#2323e6" stroke-width="1"/>
<circle cx="191.68" cy="339.3" r="1.6" fill="#2323e6" fill-opacity="0.35" stroke="#2323e6" stroke-width="1"/>
<circle cx="198.09" cy="339.3" r="1.6" fill="#2323e6" fill-opacity="0.35" stroke="#2323e6" stroke-width="1"/>
<circle cx="204.5" cy="339.3" r="1.6" fill="#2323e6" fill-opacity="0.35" stroke="#2323e6" stroke-width="1"/>
<circle cx="210.91" cy="339.3" r="1.6" fill="#2323e6" fill-opacity="0.35" stroke="#2323e6" stroke-width="1"/>
<circle cx="217.33" cy="339.3" r="1.6" fill="#2323e6" fill-opacity="0.35" stroke="#2323e6" stroke-width="1"/>
<circle cx="223.74" cy="339.3" r="1.6" fill="#2323e6" fill-opacity="0.35" stroke="#2323e6" stroke-width="1"/>
<circle cx="230.15" cy="339.3" r="1.6" fill="#2323e6" fill-opacity="0.35" stroke="#2323e6" stroke-width="1"/>
<circle cx="236.56" cy="339.3" r="1.6" fill="#2323e6" fill-opacity="0.35" stroke="#2323e6" stroke-width="1"/>
<circle cx="242.98" cy="339.3" r="1.6" fill="#2323e6" fill-opacity="0.35" stroke="#2323e6" stroke-width="1"/>
<circle cx="249.39" cy="339.3" r="1.6" fill="#2323e6" fill-opacity="0.35" stroke="#2323e6" stroke-width="1"/>
<circle cx="255.8" cy="339.3" r="1.6" fill="#2323e6" fill-opacity="0.35" stroke="#2323e6" stroke-width="1"/>
<path d="M50.6 339.65L57.01 339.65L63.42 339.65L69.84 339.65L76.25 339.65L82.66 339.65L89.08 339.65L95.49 339.65L101.9 339.65L108.31 338.5L114.72 338.5L121.14 338.62L127.55 338.73L133.96 338.85L140.38 338.85L146.79 338.96L153.2 338.96L159.61 339.07L166.03 339.07L172.44 339.07L178.85 339.07L185.26 339.07L191.68 339.07L198.09 339.07L204.5 339.07L210.91 339.07L217.33 339.07L223.74 339.07L230.15 339.07L236.56 339.07L242.98 339.07L249.39 339.07L255.8 339.07" fill="none" stroke="#79b4f0" stroke-width="1.2" stroke-linejoin="round"/>
<rect x="49" y="338.05" width="3.2" height="3.2" fill="#79b4f0" fill-opacity="0.35" stroke="#79b4f0" stroke-width="0.9"/>
<rect x="55.41" y="338.05" width="3.2" height="3.2" fill="#79b4f0" fill-opacity="0.35" stroke="#79b4f0" stroke-width="0.9"/>
<rect x="61.82" y="338.05" width="3.2" height="3.2" fill="#79b4f0" fill-opacity="0.35" stroke="#79b4f0" stroke-width="0.9"/>
<rect x="68.24" y="338.05" width="3.2" height="3.2" fill="#79b4f0" fill-opacity="0.35" stroke="#79b4f0" stroke-width="0.9"/>
<rect x="74.65" y="338.05" width="3.2" height="3.2" fill="#79b4f0" fill-opacity="0.35" stroke="#79b4f0" stroke-width="0.9"/>
<rect x="81.06" y="338.05" width="3.2" height="3.2" fill="#79b4f0" fill-opacity="0.35" stroke="#79b4f0" stroke-width="0.9"/>
<rect x="87.48" y="338.05" width="3.2" height="3.2" fill="#79b4f0" fill-opacity="0.35" stroke="#79b4f0" stroke-width="0.9"/>
<rect x="93.89" y="338.05" width="3.2" height="3.2" fill="#79b4f0" fill-opacity="0.35" stroke="#79b4f0" stroke-width="0.9"/>
<rect x="100.3" y="338.05" width="3.2" height="3.2" fill="#79b4f0" fill-opacity="0.35" stroke="#79b4f0" stroke-width="0.9"/>
<rect x="106.71" y="336.9" width="3.2" height="3.2" fill="#79b4f0" fill-opacity="0.35" stroke="#79b4f0" stroke-width="0.9"/>
<rect x="113.12" y="336.9" width="3.2" height="3.2" fill="#79b4f0" fill-opacity="0.35" stroke="#79b4f0" stroke-width="0.9"/>
<rect x="119.54" y="337.02" width="3.2" height="3.2" fill="#79b4f0" fill-opacity="0.35" stroke="#79b4f0" stroke-width="0.9"/>
<rect x="125.95" y="337.13" width="3.2" height="3.2" fill="#79b4f0" fill-opacity="0.35" stroke="#79b4f0" stroke-width="0.9"/>
<rect x="132.36" y="337.25" width="3.2" height="3.2" fill="#79b4f0" fill-opacity="0.35" stroke="#79b4f0" stroke-width="0.9"/>
<rect x="138.78" y="337.25" width="3.2" height="3.2" fill="#79b4f0" fill-opacity="0.35" stroke="#79b4f0" stroke-width="0.9"/>
<rect x="145.19" y="337.36" width="3.2" height="3.2" fill="#79b4f0" fill-opacity="0.35" stroke="#79b4f0" stroke-width="0.9"/>
<rect x="151.6" y="337.36" width="3.2" height="3.2" fill="#79b4f0" fill-opacity="0.35" stroke="#79b4f0" stroke-width="0.9"/>
<rect x="158.01" y="337.47" width="3.2" height="3.2" fill="#79b4f0" fill-opacity="0.35" stroke="#79b4f0" stroke-width="0.9"/>
<rect x="164.43" y="337.47" width="3.2" height="3.2" fill="#79b4f0" fill-opacity="0.35" stroke="#79b4f0" stroke-width="0.9"/>
<rect x="170.84" y="337.47" width="3.2" height="3.2" fill="#79b4f0" fill-opacity="0.35" stroke="#79b4f0" stroke-width="0.9"/>
<rect x="177.25" y="337.47" width="3.2" height="3.2" fill="#79b4f0" fill-opacity="0.35" stroke="#79b4f0" stroke-width="0.9"/>
<rect x="183.66" y="337.47" width="3.2" height="3.2" fill="#79b4f0" fill-opacity="0.35" stroke="#79b4f0" stroke-width="0.9"/>
<rect x="190.08" y="337.47" width="3.2" height="3.2" fill="#79b4f0" fill-opacity="0.35" stroke="#79b4f0" stroke-width="0.9"/>
<rect x="196.49" y="337.47" width="3.2" height="3.2" fill="#79b4f0" fill-opacity="0.35" stroke="#79b4f0" stroke-width="0.9"/>
<rect x="202.9" y="337.47" width="3.2" height="3.2" fill="#79b4f0" fill-opacity="0.35" stroke="#79b4f0" stroke-width="0.9"/>
<rect x="209.31" y="337.47" width="3.2" height="3.2" fill="#79b4f0" fill-opacity="0.35" stroke="#79b4f0" stroke-width="0.9"/>
<rect x="215.73" y="337.47" width="3.2" height="3.2" fill="#79b4f0" fill-opacity="0.35" stroke="#79b4f0" stroke-width="0.9"/>
<rect x="222.14" y="337.47" width="3.2" height="3.2" fill="#79b4f0" fill-opacity="0.35" stroke="#79b4f0" stroke-width="0.9"/>
<rect x="228.55" y="337.47" width="3.2" height="3.2" fill="#79b4f0" fill-opacity="0.35" stroke="#79b4f0" stroke-width="0.9"/>
<rect x="234.96" y="337.47" width="3.2" height="3.2" fill="#79b4f0" fill-opacity="0.35" stroke="#79b4f0" stroke-width="0.9"/>
<rect x="241.38" y="337.47" width="3.2" height="3.2" fill="#79b4f0" fill-opacity="0.35" stroke="#79b4f0" stroke-width="0.9"/>
<rect x="247.79" y="337.47" width="3.2" height="3.2" fill="#79b4f0" fill-opacity="0.35" stroke="#79b4f0" stroke-width="0.9"/>
<rect x="254.2" y="337.47" width="3.2" height="3.2" fill="#79b4f0" fill-opacity="0.35" stroke="#79b4f0" stroke-width="0.9"/>
<path d="M50.6 339.65L57.01 339.65L63.42 339.65L69.84 339.65L76.25 339.65L82.66 339.65L89.08 339.65L95.49 339.65L101.9 339.65L108.31 329.03L114.72 329.03L121.14 329.94L127.55 331.77L133.96 333.37L140.38 334.05L146.79 334.62L153.2 335.54L159.61 335.88L166.03 336.33L172.44 336.79L178.85 337.59L185.26 337.82L191.68 337.93L198.09 338.16L204.5 338.28L210.91 338.39L217.33 338.5L223.74 338.62L230.15 338.62L236.56 338.73L242.98 338.73L249.39 338.85L255.8 338.85" fill="none" stroke="#4cb848" stroke-width="1.0" stroke-linejoin="round"/>
<path d="M108.31 326.75V331.31M106.71 326.75H109.91M106.71 331.31H109.91" stroke="#4cb848" stroke-width="0.9" fill="none"/>
<path d="M114.72 327.32V330.74M113.12 327.32H116.32M113.12 330.74H116.32" stroke="#4cb848" stroke-width="0.9" fill="none"/>
<path d="M121.14 328.8V331.08M119.54 328.8H122.74M119.54 331.08H122.74" stroke="#4cb848" stroke-width="0.9" fill="none"/>
<path d="M127.55 330.63V332.91M125.95 330.63H129.15M125.95 332.91H129.15" stroke="#4cb848" stroke-width="0.9" fill="none"/>
<path d="M133.96 332.23V334.51M132.36 332.23H135.56M132.36 334.51H135.56" stroke="#4cb848" stroke-width="0.9" fill="none"/>
<path d="M140.38 332.91V335.19M138.78 332.91H141.97M138.78 335.19H141.97" stroke="#4cb848" stroke-width="0.9" fill="none"/>
<path d="M146.79 333.48V335.76M145.19 333.48H148.39M145.19 335.76H148.39" stroke="#4cb848" stroke-width="0.9" fill="none"/>
<path d="M153.2 334.39V336.68M151.6 334.39H154.8M151.6 336.68H154.8" stroke="#4cb848" stroke-width="0.9" fill="none"/>
<path d="M159.61 334.74V337.02M158.01 334.74H161.21M158.01 337.02H161.21" stroke="#4cb848" stroke-width="0.9" fill="none"/>
<path d="M166.03 335.19V337.48M164.43 335.19H167.62M164.43 337.48H167.62" stroke="#4cb848" stroke-width="0.9" fill="none"/>
<path d="M172.44 335.65V337.93M170.84 335.65H174.04M170.84 337.93H174.04" stroke="#4cb848" stroke-width="0.9" fill="none"/>
<path d="M178.85 336.45V338.73M177.25 336.45H180.45M177.25 338.73H180.45" stroke="#4cb848" stroke-width="0.9" fill="none"/>
<path d="M185.26 336.68V338.96M183.66 336.68H186.86M183.66 338.96H186.86" stroke="#4cb848" stroke-width="0.9" fill="none"/>
<path d="M191.68 336.79V339.07M190.08 336.79H193.28M190.08 339.07H193.28" stroke="#4cb848" stroke-width="0.9" fill="none"/>
<path d="M198.09 337.02V339.3M196.49 337.02H199.69M196.49 339.3H199.69" stroke="#4cb848" stroke-width="0.9" fill="none"/>
<path d="M204.5 337.13V339.42M202.9 337.13H206.1M202.9 339.42H206.1" stroke="#4cb848" stroke-width="0.9" fill="none"/>
<path d="M210.91 337.25V339.53M209.31 337.25H212.51M209.31 339.53H212.51" stroke="#4cb848" stroke-width="0.9" fill="none"/>
<path d="M217.33 337.36V339.65M215.73 337.36H218.93M215.73 339.65H218.93" stroke="#4cb848" stroke-width="0.9" fill="none"/>
<path d="M223.74 337.48V339.76M222.14 337.48H225.34M222.14 339.76H225.34" stroke="#4cb848" stroke-width="0.9" fill="none"/>
<path d="M230.15 337.48V339.76M228.55 337.48H231.75M228.55 339.76H231.75" stroke="#4cb848" stroke-width="0.9" fill="none"/>
<path d="M236.56 337.59V339.87M234.96 337.59H238.16M234.96 339.87H238.16" stroke="#4cb848" stroke-width="0.9" fill="none"/>
<path d="M242.98 337.59V339.87M241.38 337.59H244.58M241.38 339.87H244.58" stroke="#4cb848" stroke-width="0.9" fill="none"/>
<path d="M249.39 337.7V339.99M247.79 337.7H250.99M247.79 339.99H250.99" stroke="#4cb848" stroke-width="0.9" fill="none"/>
<path d="M255.8 337.7V339.99M254.2 337.7H257.4M254.2 339.99H257.4" stroke="#4cb848" stroke-width="0.9" fill="none"/>
<path d="M50.6 337.75L52.5 339.65L50.6 341.55L48.7 339.65Z" fill="#4cb848"/>
<path d="M57.01 337.75L58.91 339.65L57.01 341.55L55.11 339.65Z" fill="#4cb848"/>
<path d="M63.42 337.75L65.33 339.65L63.42 341.55L61.52 339.65Z" fill="#4cb848"/>
<path d="M69.84 337.75L71.74 339.65L69.84 341.55L67.94 339.65Z" fill="#4cb848"/>
<path d="M76.25 337.75L78.15 339.65L76.25 341.55L74.35 339.65Z" fill="#4cb848"/>
<path d="M82.66 337.75L84.56 339.65L82.66 341.55L80.76 339.65Z" fill="#4cb848"/>
<path d="M89.08 337.75L90.98 339.65L89.08 341.55L87.18 339.65Z" fill="#4cb848"/>
<path d="M95.49 337.75L97.39 339.65L95.49 341.55L93.59 339.65Z" fill="#4cb848"/>
<path d="M101.9 337.75L103.8 339.65L101.9 341.55L100 339.65Z" fill="#4cb848"/>
<path d="M108.31 327.13L110.21 329.03L108.31 330.93L106.41 329.03Z" fill="#4cb848"/>
<path d="M114.72 327.13L116.62 329.03L114.72 330.93L112.82 329.03Z" fill="#4cb848"/>
<path d="M121.14 328.04L123.04 329.94L121.14 331.84L119.24 329.94Z" fill="#4cb848"/>
<path d="M127.55 329.87L129.45 331.77L127.55 333.67L125.65 331.77Z" fill="#4cb848"/>
<path d="M133.96 331.47L135.86 333.37L133.96 335.27L132.06 333.37Z" fill="#4cb848"/>
<path d="M140.38 332.15L142.28 334.05L140.38 335.95L138.47 334.05Z" fill="#4cb848"/>
<path d="M146.79 332.72L148.69 334.62L146.79 336.52L144.89 334.62Z" fill="#4cb848"/>
<path d="M153.2 333.64L155.1 335.54L153.2 337.44L151.3 335.54Z" fill="#4cb848"/>
<path d="M159.61 333.98L161.51 335.88L159.61 337.78L157.71 335.88Z" fill="#4cb848"/>
<path d="M166.03 334.44L167.93 336.33L166.03 338.23L164.12 336.33Z" fill="#4cb848"/>
<path d="M172.44 334.89L174.34 336.79L172.44 338.69L170.54 336.79Z" fill="#4cb848"/>
<path d="M178.85 335.69L180.75 337.59L178.85 339.49L176.95 337.59Z" fill="#4cb848"/>
<path d="M185.26 335.92L187.16 337.82L185.26 339.72L183.36 337.82Z" fill="#4cb848"/>
<path d="M191.68 336.03L193.58 337.93L191.68 339.83L189.78 337.93Z" fill="#4cb848"/>
<path d="M198.09 336.26L199.99 338.16L198.09 340.06L196.19 338.16Z" fill="#4cb848"/>
<path d="M204.5 336.38L206.4 338.28L204.5 340.18L202.6 338.28Z" fill="#4cb848"/>
<path d="M210.91 336.49L212.81 338.39L210.91 340.29L209.01 338.39Z" fill="#4cb848"/>
<path d="M217.33 336.6L219.23 338.5L217.33 340.4L215.43 338.5Z" fill="#4cb848"/>
<path d="M223.74 336.72L225.64 338.62L223.74 340.52L221.84 338.62Z" fill="#4cb848"/>
<path d="M230.15 336.72L232.05 338.62L230.15 340.52L228.25 338.62Z" fill="#4cb848"/>
<path d="M236.56 336.83L238.46 338.73L236.56 340.63L234.66 338.73Z" fill="#4cb848"/>
<path d="M242.98 336.83L244.88 338.73L242.98 340.63L241.08 338.73Z" fill="#4cb848"/>
<path d="M249.39 336.95L251.29 338.85L249.39 340.75L247.49 338.85Z" fill="#4cb848"/>
<path d="M255.8 336.95L257.7 338.85L255.8 340.75L253.9 338.85Z" fill="#4cb848"/>
<path d="M50.6 339.65L57.01 339.65L63.42 339.65L69.84 339.65L76.25 339.65L82.66 339.65L89.08 339.65L95.49 339.65L101.9 339.65L108.31 283.13L114.72 284.85L121.14 296.26L127.55 307.11L133.96 313.62L140.38 319.67L146.79 323.09L153.2 326.63L159.61 329.03L166.03 331.08L172.44 332.23L178.85 333.37L185.26 334.28L191.68 334.96L198.09 335.42L204.5 335.88L210.91 336.22L217.33 336.56L223.74 336.79L230.15 337.02L236.56 337.25L242.98 337.36L249.39 337.48L255.8 337.59" fill="none" stroke="#f7943a" stroke-width="1.0" stroke-linejoin="round"/>
<path d="M108.31 278.57V287.7M106.71 278.57H109.91M106.71 287.7H109.91" stroke="#f7943a" stroke-width="0.9" fill="none"/>
<path d="M114.72 281.42V288.27M113.12 281.42H116.32M113.12 288.27H116.32" stroke="#f7943a" stroke-width="0.9" fill="none"/>
<path d="M121.14 293.98V298.55M119.54 293.98H122.74M119.54 298.55H122.74" stroke="#f7943a" stroke-width="0.9" fill="none"/>
<path d="M127.55 304.82V309.39M125.95 304.82H129.15M125.95 309.39H129.15" stroke="#f7943a" stroke-width="0.9" fill="none"/>
<path d="M133.96 311.33V315.9M132.36 311.33H135.56M132.36 315.9H135.56" stroke="#f7943a" stroke-width="0.9" fill="none"/>
<path d="M140.38 317.38V321.95M138.78 317.38H141.97M138.78 321.95H141.97" stroke="#f7943a" stroke-width="0.9" fill="none"/>
<path d="M146.79 321.38V324.8M145.19 321.38H148.39M145.19 324.8H148.39" stroke="#f7943a" stroke-width="0.9" fill="none"/>
<path d="M153.2 325.49V327.77M151.6 325.49H154.8M151.6 327.77H154.8" stroke="#f7943a" stroke-width="0.9" fill="none"/>
<path d="M159.61 327.89V330.17M158.01 327.89H161.21M158.01 330.17H161.21" stroke="#f7943a" stroke-width="0.9" fill="none"/>
<path d="M166.03 329.94V332.23M164.43 329.94H167.62M164.43 332.23H167.62" stroke="#f7943a" stroke-width="0.9" fill="none"/>
<path d="M172.44 331.08V333.37M170.84 331.08H174.04M170.84 333.37H174.04" stroke="#f7943a" stroke-width="0.9" fill="none"/>
<path d="M178.85 332.23V334.51M177.25 332.23H180.45M177.25 334.51H180.45" stroke="#f7943a" stroke-width="0.9" fill="none"/>
<path d="M185.26 333.14V335.42M183.66 333.14H186.86M183.66 335.42H186.86" stroke="#f7943a" stroke-width="0.9" fill="none"/>
<path d="M191.68 333.82V336.11M190.08 333.82H193.28M190.08 336.11H193.28" stroke="#f7943a" stroke-width="0.9" fill="none"/>
<path d="M198.09 334.28V336.56M196.49 334.28H199.69M196.49 336.56H199.69" stroke="#f7943a" stroke-width="0.9" fill="none"/>
<path d="M204.5 334.74V337.02M202.9 334.74H206.1M202.9 337.02H206.1" stroke="#f7943a" stroke-width="0.9" fill="none"/>
<path d="M210.91 335.08V337.36M209.31 335.08H212.51M209.31 337.36H212.51" stroke="#f7943a" stroke-width="0.9" fill="none"/>
<path d="M217.33 335.42V337.7M215.73 335.42H218.93M215.73 337.7H218.93" stroke="#f7943a" stroke-width="0.9" fill="none"/>
<path d="M223.74 335.65V337.93M222.14 335.65H225.34M222.14 337.93H225.34" stroke="#f7943a" stroke-width="0.9" fill="none"/>
<path d="M230.15 335.88V338.16M228.55 335.88H231.75M228.55 338.16H231.75" stroke="#f7943a" stroke-width="0.9" fill="none"/>
<path d="M236.56 336.11V338.39M234.96 336.11H238.16M234.96 338.39H238.16" stroke="#f7943a" stroke-width="0.9" fill="none"/>
<path d="M242.98 336.22V338.5M241.38 336.22H244.58M241.38 338.5H244.58" stroke="#f7943a" stroke-width="0.9" fill="none"/>
<path d="M249.39 336.33V338.62M247.79 336.33H250.99M247.79 338.62H250.99" stroke="#f7943a" stroke-width="0.9" fill="none"/>
<path d="M255.8 336.45V338.73M254.2 336.45H257.4M254.2 338.73H257.4" stroke="#f7943a" stroke-width="0.9" fill="none"/>
<path d="M50.6 337.45L52.8 341.3L48.4 341.3Z" fill="#f7943a"/>
<path d="M57.01 337.45L59.21 341.3L54.81 341.3Z" fill="#f7943a"/>
<path d="M63.42 337.45L65.62 341.3L61.22 341.3Z" fill="#f7943a"/>
<path d="M69.84 337.45L72.04 341.3L67.64 341.3Z" fill="#f7943a"/>
<path d="M76.25 337.45L78.45 341.3L74.05 341.3Z" fill="#f7943a"/>
<path d="M82.66 337.45L84.86 341.3L80.46 341.3Z" fill="#f7943a"/>
<path d="M89.08 337.45L91.28 341.3L86.88 341.3Z" fill="#f7943a"/>
<path d="M95.49 337.45L97.69 341.3L93.29 341.3Z" fill="#f7943a"/>
<path d="M101.9 337.45L104.1 341.3L99.7 341.3Z" fill="#f7943a"/>
<path d="M108.31 280.93L110.51 284.78L106.11 284.78Z" fill="#f7943a"/>
<path d="M114.72 282.65L116.92 286.5L112.52 286.5Z" fill="#f7943a"/>
<path d="M121.14 294.06L123.34 297.91L118.94 297.91Z" fill="#f7943a"/>
<path d="M127.55 304.91L129.75 308.76L125.35 308.76Z" fill="#f7943a"/>
<path d="M133.96 311.42L136.16 315.27L131.76 315.27Z" fill="#f7943a"/>
<path d="M140.38 317.47L142.57 321.32L138.18 321.32Z" fill="#f7943a"/>
<path d="M146.79 320.89L148.99 324.74L144.59 324.74Z" fill="#f7943a"/>
<path d="M153.2 324.43L155.4 328.28L151 328.28Z" fill="#f7943a"/>
<path d="M159.61 326.83L161.81 330.68L157.41 330.68Z" fill="#f7943a"/>
<path d="M166.03 328.88L168.22 332.73L163.83 332.73Z" fill="#f7943a"/>
<path d="M172.44 330.03L174.64 333.88L170.24 333.88Z" fill="#f7943a"/>
<path d="M178.85 331.17L181.05 335.02L176.65 335.02Z" fill="#f7943a"/>
<path d="M185.26 332.08L187.46 335.93L183.06 335.93Z" fill="#f7943a"/>
<path d="M191.68 332.76L193.88 336.61L189.48 336.61Z" fill="#f7943a"/>
<path d="M198.09 333.22L200.29 337.07L195.89 337.07Z" fill="#f7943a"/>
<path d="M204.5 333.68L206.7 337.53L202.3 337.53Z" fill="#f7943a"/>
<path d="M210.91 334.02L213.11 337.87L208.71 337.87Z" fill="#f7943a"/>
<path d="M217.33 334.36L219.53 338.21L215.13 338.21Z" fill="#f7943a"/>
<path d="M223.74 334.59L225.94 338.44L221.54 338.44Z" fill="#f7943a"/>
<path d="M230.15 334.82L232.35 338.67L227.95 338.67Z" fill="#f7943a"/>
<path d="M236.56 335.05L238.76 338.9L234.36 338.9Z" fill="#f7943a"/>
<path d="M242.98 335.16L245.18 339.01L240.78 339.01Z" fill="#f7943a"/>
<path d="M249.39 335.28L251.59 339.13L247.19 339.13Z" fill="#f7943a"/>
<path d="M255.8 335.39L258 339.24L253.6 339.24Z" fill="#f7943a"/>
<path d="M50.6 339.65L57.01 339.65L63.42 339.65L69.84 339.65L76.25 339.65L82.66 339.65L89.08 339.65L95.49 339.65L101.9 339.65L108.31 241.35L114.72 241.69L121.14 266.01L127.55 292.61L133.96 304.82L140.38 313.96L146.79 320.24L153.2 325.38L159.61 328.23L166.03 330.51L172.44 331.43L178.85 332.45L185.26 333.37L191.68 334.51L198.09 334.96L204.5 335.31L210.91 335.65L217.33 335.88L223.74 336.11L230.15 336.33L236.56 336.56L242.98 336.79L249.39 336.91L255.8 337.02" fill="none" stroke="#ee2a24" stroke-width="1.0" stroke-linejoin="round"/>
<path d="M108.31 235.64V247.06M106.71 235.64H109.91M106.71 247.06H109.91" stroke="#ee2a24" stroke-width="0.9" fill="none"/>
<path d="M114.72 235.98V247.4M113.12 235.98H116.32M113.12 247.4H116.32" stroke="#ee2a24" stroke-width="0.9" fill="none"/>
<path d="M121.14 261.44V270.57M119.54 261.44H122.74M119.54 270.57H122.74" stroke="#ee2a24" stroke-width="0.9" fill="none"/>
<path d="M127.55 289.18V296.03M125.95 289.18H129.15M125.95 296.03H129.15" stroke="#ee2a24" stroke-width="0.9" fill="none"/>
<path d="M133.96 302.54V307.11M132.36 302.54H135.56M132.36 307.11H135.56" stroke="#ee2a24" stroke-width="0.9" fill="none"/>
<path d="M140.38 311.68V316.24M138.78 311.68H141.97M138.78 316.24H141.97" stroke="#ee2a24" stroke-width="0.9" fill="none"/>
<path d="M146.79 317.95V322.52M145.19 317.95H148.39M145.19 322.52H148.39" stroke="#ee2a24" stroke-width="0.9" fill="none"/>
<path d="M153.2 324.23V326.52M151.6 324.23H154.8M151.6 326.52H154.8" stroke="#ee2a24" stroke-width="0.9" fill="none"/>
<path d="M159.61 327.09V329.37M158.01 327.09H161.21M158.01 329.37H161.21" stroke="#ee2a24" stroke-width="0.9" fill="none"/>
<path d="M166.03 329.37V331.65M164.43 329.37H167.62M164.43 331.65H167.62" stroke="#ee2a24" stroke-width="0.9" fill="none"/>
<path d="M172.44 330.28V332.57M170.84 330.28H174.04M170.84 332.57H174.04" stroke="#ee2a24" stroke-width="0.9" fill="none"/>
<path d="M178.85 331.31V333.6M177.25 331.31H180.45M177.25 333.6H180.45" stroke="#ee2a24" stroke-width="0.9" fill="none"/>
<path d="M185.26 332.23V334.51M183.66 332.23H186.86M183.66 334.51H186.86" stroke="#ee2a24" stroke-width="0.9" fill="none"/>
<path d="M191.68 333.37V335.65M190.08 333.37H193.28M190.08 335.65H193.28" stroke="#ee2a24" stroke-width="0.9" fill="none"/>
<path d="M198.09 333.82V336.11M196.49 333.82H199.69M196.49 336.11H199.69" stroke="#ee2a24" stroke-width="0.9" fill="none"/>
<path d="M204.5 334.17V336.45M202.9 334.17H206.1M202.9 336.45H206.1" stroke="#ee2a24" stroke-width="0.9" fill="none"/>
<path d="M210.91 334.51V336.79M209.31 334.51H212.51M209.31 336.79H212.51" stroke="#ee2a24" stroke-width="0.9" fill="none"/>
<path d="M217.33 334.74V337.02M215.73 334.74H218.93M215.73 337.02H218.93" stroke="#ee2a24" stroke-width="0.9" fill="none"/>
<path d="M223.74 334.96V337.25M222.14 334.96H225.34M222.14 337.25H225.34" stroke="#ee2a24" stroke-width="0.9" fill="none"/>
<path d="M230.15 335.19V337.48M228.55 335.19H231.75M228.55 337.48H231.75" stroke="#ee2a24" stroke-width="0.9" fill="none"/>
<path d="M236.56 335.42V337.7M234.96 335.42H238.16M234.96 337.7H238.16" stroke="#ee2a24" stroke-width="0.9" fill="none"/>
<path d="M242.98 335.65V337.93M241.38 335.65H244.58M241.38 337.93H244.58" stroke="#ee2a24" stroke-width="0.9" fill="none"/>
<path d="M249.39 335.76V338.05M247.79 335.76H250.99M247.79 338.05H250.99" stroke="#ee2a24" stroke-width="0.9" fill="none"/>
<path d="M255.8 335.88V338.16M254.2 335.88H257.4M254.2 338.16H257.4" stroke="#ee2a24" stroke-width="0.9" fill="none"/>
<circle cx="50.6" cy="339.65" r="1.75" fill="#ee2a24"/>
<circle cx="57.01" cy="339.65" r="1.75" fill="#ee2a24"/>
<circle cx="63.42" cy="339.65" r="1.75" fill="#ee2a24"/>
<circle cx="69.84" cy="339.65" r="1.75" fill="#ee2a24"/>
<circle cx="76.25" cy="339.65" r="1.75" fill="#ee2a24"/>
<circle cx="82.66" cy="339.65" r="1.75" fill="#ee2a24"/>
<circle cx="89.08" cy="339.65" r="1.75" fill="#ee2a24"/>
<circle cx="95.49" cy="339.65" r="1.75" fill="#ee2a24"/>
<circle cx="101.9" cy="339.65" r="1.75" fill="#ee2a24"/>
<circle cx="108.31" cy="241.35" r="1.75" fill="#ee2a24"/>
<circle cx="114.72" cy="241.69" r="1.75" fill="#ee2a24"/>
<circle cx="121.14" cy="266.01" r="1.75" fill="#ee2a24"/>
<circle cx="127.55" cy="292.61" r="1.75" fill="#ee2a24"/>
<circle cx="133.96" cy="304.82" r="1.75" fill="#ee2a24"/>
<circle cx="140.38" cy="313.96" r="1.75" fill="#ee2a24"/>
<circle cx="146.79" cy="320.24" r="1.75" fill="#ee2a24"/>
<circle cx="153.2" cy="325.38" r="1.75" fill="#ee2a24"/>
<circle cx="159.61" cy="328.23" r="1.75" fill="#ee2a24"/>
<circle cx="166.03" cy="330.51" r="1.75" fill="#ee2a24"/>
<circle cx="172.44" cy="331.43" r="1.75" fill="#ee2a24"/>
<circle cx="178.85" cy="332.45" r="1.75" fill="#ee2a24"/>
<circle cx="185.26" cy="333.37" r="1.75" fill="#ee2a24"/>
<circle cx="191.68" cy="334.51" r="1.75" fill="#ee2a24"/>
<circle cx="198.09" cy="334.96" r="1.75" fill="#ee2a24"/>
<circle cx="204.5" cy="335.31" r="1.75" fill="#ee2a24"/>
<circle cx="210.91" cy="335.65" r="1.75" fill="#ee2a24"/>
<circle cx="217.33" cy="335.88" r="1.75" fill="#ee2a24"/>
<circle cx="223.74" cy="336.11" r="1.75" fill="#ee2a24"/>
<circle cx="230.15" cy="336.33" r="1.75" fill="#ee2a24"/>
<circle cx="236.56" cy="336.56" r="1.75" fill="#ee2a24"/>
<circle cx="242.98" cy="336.79" r="1.75" fill="#ee2a24"/>
<circle cx="249.39" cy="336.91" r="1.75" fill="#ee2a24"/>
<circle cx="255.8" cy="337.02" r="1.75" fill="#ee2a24"/>
<path d="M50.6 339.99L57.01 339.99L63.42 339.99L69.84 339.99L76.25 339.99L82.66 339.99L89.08 339.99L95.49 339.99L101.9 339.65L108.31 230.62L114.72 228.33L121.14 260.3L127.55 285.42L133.96 301.74L140.38 311.68L146.79 318.52L153.2 324.23L159.61 327.32L166.03 329.6L172.44 330.4L178.85 331.77L185.26 332.68L191.68 333.94L198.09 334.28L204.5 334.51L210.91 334.74L217.33 335.08L223.74 335.31L230.15 335.42L236.56 335.65L242.98 335.88L249.39 335.99L255.8 336.22" fill="none" stroke="#000" stroke-width="1.2" stroke-linejoin="round"/>
<path d="M108.31 227.19V234.04M106.71 227.19H109.91M106.71 234.04H109.91" stroke="#000" stroke-width="0.9" fill="none"/>
<path d="M114.72 226.05V230.62M113.12 226.05H116.32M113.12 230.62H116.32" stroke="#000" stroke-width="0.9" fill="none"/>
<path d="M121.14 256.88V263.73M119.54 256.88H122.74M119.54 263.73H122.74" stroke="#000" stroke-width="0.9" fill="none"/>
<path d="M127.55 281.99V288.84M125.95 281.99H129.15M125.95 288.84H129.15" stroke="#000" stroke-width="0.9" fill="none"/>
<path d="M133.96 298.32V305.17M132.36 298.32H135.56M132.36 305.17H135.56" stroke="#000" stroke-width="0.9" fill="none"/>
<path d="M140.38 308.25V315.1M138.78 308.25H141.97M138.78 315.1H141.97" stroke="#000" stroke-width="0.9" fill="none"/>
<path d="M146.79 315.1V321.95M145.19 315.1H148.39M145.19 321.95H148.39" stroke="#000" stroke-width="0.9" fill="none"/>
<path d="M153.2 321.95V326.52M151.6 321.95H154.8M151.6 326.52H154.8" stroke="#000" stroke-width="0.9" fill="none"/>
<path d="M159.61 325.03V329.6M158.01 325.03H161.21M158.01 329.6H161.21" stroke="#000" stroke-width="0.9" fill="none"/>
<path d="M166.03 327.32V331.88M164.43 327.32H167.62M164.43 331.88H167.62" stroke="#000" stroke-width="0.9" fill="none"/>
<path d="M172.44 328.12V332.68M170.84 328.12H174.04M170.84 332.68H174.04" stroke="#000" stroke-width="0.9" fill="none"/>
<path d="M178.85 329.49V334.05M177.25 329.49H180.45M177.25 334.05H180.45" stroke="#000" stroke-width="0.9" fill="none"/>
<path d="M185.26 330.97V334.39M183.66 330.97H186.86M183.66 334.39H186.86" stroke="#000" stroke-width="0.9" fill="none"/>
<path d="M191.68 332.23V335.65M190.08 332.23H193.28M190.08 335.65H193.28" stroke="#000" stroke-width="0.9" fill="none"/>
<path d="M198.09 333.14V335.42M196.49 333.14H199.69M196.49 335.42H199.69" stroke="#000" stroke-width="0.9" fill="none"/>
<path d="M204.5 333.37V335.65M202.9 333.37H206.1M202.9 335.65H206.1" stroke="#000" stroke-width="0.9" fill="none"/>
<path d="M210.91 333.6V335.88M209.31 333.6H212.51M209.31 335.88H212.51" stroke="#000" stroke-width="0.9" fill="none"/>
<path d="M217.33 333.94V336.22M215.73 333.94H218.93M215.73 336.22H218.93" stroke="#000" stroke-width="0.9" fill="none"/>
<path d="M223.74 334.17V336.45M222.14 334.17H225.34M222.14 336.45H225.34" stroke="#000" stroke-width="0.9" fill="none"/>
<path d="M230.15 334.28V336.56M228.55 334.28H231.75M228.55 336.56H231.75" stroke="#000" stroke-width="0.9" fill="none"/>
<path d="M236.56 334.51V336.79M234.96 334.51H238.16M234.96 336.79H238.16" stroke="#000" stroke-width="0.9" fill="none"/>
<path d="M242.98 334.74V337.02M241.38 334.74H244.58M241.38 337.02H244.58" stroke="#000" stroke-width="0.9" fill="none"/>
<path d="M249.39 334.85V337.13M247.79 334.85H250.99M247.79 337.13H250.99" stroke="#000" stroke-width="0.9" fill="none"/>
<path d="M255.8 335.08V337.36M254.2 335.08H257.4M254.2 337.36H257.4" stroke="#000" stroke-width="0.9" fill="none"/>
<rect x="48.82" y="338.2" width="3.57" height="3.57" fill="#000"/>
<rect x="55.23" y="338.2" width="3.57" height="3.57" fill="#000"/>
<rect x="61.64" y="338.2" width="3.57" height="3.57" fill="#000"/>
<rect x="68.05" y="338.2" width="3.57" height="3.57" fill="#000"/>
<rect x="74.47" y="338.2" width="3.57" height="3.57" fill="#000"/>
<rect x="80.88" y="338.2" width="3.57" height="3.57" fill="#000"/>
<rect x="87.29" y="338.2" width="3.57" height="3.57" fill="#000"/>
<rect x="93.7" y="338.2" width="3.57" height="3.57" fill="#000"/>
<rect x="100.12" y="337.86" width="3.57" height="3.57" fill="#000"/>
<rect x="106.53" y="228.83" width="3.57" height="3.57" fill="#000"/>
<rect x="112.94" y="226.55" width="3.57" height="3.57" fill="#000"/>
<rect x="119.35" y="258.51" width="3.57" height="3.57" fill="#000"/>
<rect x="125.77" y="283.63" width="3.57" height="3.57" fill="#000"/>
<rect x="132.18" y="299.96" width="3.57" height="3.57" fill="#000"/>
<rect x="138.59" y="309.89" width="3.57" height="3.57" fill="#000"/>
<rect x="145" y="316.74" width="3.57" height="3.57" fill="#000"/>
<rect x="151.41" y="322.45" width="3.57" height="3.57" fill="#000"/>
<rect x="157.83" y="325.53" width="3.57" height="3.57" fill="#000"/>
<rect x="164.24" y="327.81" width="3.57" height="3.57" fill="#000"/>
<rect x="170.65" y="328.61" width="3.57" height="3.57" fill="#000"/>
<rect x="177.06" y="329.98" width="3.57" height="3.57" fill="#000"/>
<rect x="183.48" y="330.9" width="3.57" height="3.57" fill="#000"/>
<rect x="189.89" y="332.15" width="3.57" height="3.57" fill="#000"/>
<rect x="196.3" y="332.49" width="3.57" height="3.57" fill="#000"/>
<rect x="202.72" y="332.72" width="3.57" height="3.57" fill="#000"/>
<rect x="209.13" y="332.95" width="3.57" height="3.57" fill="#000"/>
<rect x="215.54" y="333.29" width="3.57" height="3.57" fill="#000"/>
<rect x="221.95" y="333.52" width="3.57" height="3.57" fill="#000"/>
<rect x="228.37" y="333.64" width="3.57" height="3.57" fill="#000"/>
<rect x="234.78" y="333.86" width="3.57" height="3.57" fill="#000"/>
<rect x="241.19" y="334.09" width="3.57" height="3.57" fill="#000"/>
<rect x="247.6" y="334.21" width="3.57" height="3.57" fill="#000"/>
<rect x="254.01" y="334.44" width="3.57" height="3.57" fill="#000"/>
<line x1="298.3" y1="204.9" x2="298.3" y2="341.2" stroke="#222" stroke-width="1.0"/>
<line x1="295.3" y1="341.2" x2="298.3" y2="341.2" stroke="#222" stroke-width="1.0"/>
<text x="294.1" y="344.8" font-size="10" text-anchor="end" font-weight="normal" fill="#222" >0</text>
<line x1="295.3" y1="318.48" x2="298.3" y2="318.48" stroke="#222" stroke-width="1.0"/>
<text x="294.1" y="322.08" font-size="10" text-anchor="end" font-weight="normal" fill="#222" >20</text>
<line x1="295.3" y1="295.77" x2="298.3" y2="295.77" stroke="#222" stroke-width="1.0"/>
<text x="294.1" y="299.37" font-size="10" text-anchor="end" font-weight="normal" fill="#222" >40</text>
<line x1="295.3" y1="273.05" x2="298.3" y2="273.05" stroke="#222" stroke-width="1.0"/>
<text x="294.1" y="276.65" font-size="10" text-anchor="end" font-weight="normal" fill="#222" >60</text>
<line x1="295.3" y1="250.33" x2="298.3" y2="250.33" stroke="#222" stroke-width="1.0"/>
<text x="294.1" y="253.93" font-size="10" text-anchor="end" font-weight="normal" fill="#222" >80</text>
<line x1="295.3" y1="227.62" x2="298.3" y2="227.62" stroke="#222" stroke-width="1.0"/>
<text x="294.1" y="231.22" font-size="10" text-anchor="end" font-weight="normal" fill="#222" >100</text>
<line x1="295.3" y1="204.9" x2="298.3" y2="204.9" stroke="#222" stroke-width="1.0"/>
<text x="294.1" y="208.5" font-size="10" text-anchor="end" font-weight="normal" fill="#222" >120</text>
<line x1="298.3" y1="341.4" x2="504.4" y2="341.4" stroke="#222" stroke-width="1.0"/>
<line x1="298.3" y1="341.4" x2="298.3" y2="344.4" stroke="#222" stroke-width="1.0"/>
<text x="297.3" y="356.2" font-size="10" text-anchor="middle" font-weight="normal" fill="#222" >−20</text>
<line x1="324.06" y1="341.4" x2="324.06" y2="344.4" stroke="#222" stroke-width="1.0"/>
<text x="323.06" y="356.2" font-size="10" text-anchor="middle" font-weight="normal" fill="#222" >−10</text>
<line x1="349.82" y1="341.4" x2="349.82" y2="344.4" stroke="#222" stroke-width="1.0"/>
<text x="349.82" y="356.2" font-size="10" text-anchor="middle" font-weight="normal" fill="#222" >0</text>
<line x1="375.59" y1="341.4" x2="375.59" y2="344.4" stroke="#222" stroke-width="1.0"/>
<text x="375.59" y="356.2" font-size="10" text-anchor="middle" font-weight="normal" fill="#222" >10</text>
<line x1="401.35" y1="341.4" x2="401.35" y2="344.4" stroke="#222" stroke-width="1.0"/>
<text x="401.35" y="356.2" font-size="10" text-anchor="middle" font-weight="normal" fill="#222" >20</text>
<line x1="427.11" y1="341.4" x2="427.11" y2="344.4" stroke="#222" stroke-width="1.0"/>
<text x="427.11" y="356.2" font-size="10" text-anchor="middle" font-weight="normal" fill="#222" >30</text>
<line x1="452.88" y1="341.4" x2="452.88" y2="344.4" stroke="#222" stroke-width="1.0"/>
<text x="452.88" y="356.2" font-size="10" text-anchor="middle" font-weight="normal" fill="#222" >40</text>
<line x1="478.64" y1="341.4" x2="478.64" y2="344.4" stroke="#222" stroke-width="1.0"/>
<text x="478.64" y="356.2" font-size="10" text-anchor="middle" font-weight="normal" fill="#222" >50</text>
<line x1="504.4" y1="341.4" x2="504.4" y2="344.4" stroke="#222" stroke-width="1.0"/>
<text x="504.4" y="356.2" font-size="10" text-anchor="middle" font-weight="normal" fill="#222" >60</text>
<text x="313" y="215.3" font-size="12.2" text-anchor="start" font-weight="normal" fill="#000" >ISO + MLT</text>
<text x="402.2" y="371.6" font-size="11.4" text-anchor="middle" font-weight="bold" fill="#000" >Time (min)</text>
<text x="271.5" y="271" font-size="11.3" text-anchor="middle" font-weight="bold" fill="#000" transform="rotate(-90 271.5 271)">% 10 <tspan font-weight="normal">μ</tspan>M ISO</text>
<path d="M298.3 338.93L304.74 338.93L311.18 338.93L317.62 338.93L324.06 338.93L330.5 338.93L336.94 338.93L343.38 338.93L349.82 338.93L356.27 338.93L362.71 338.93L369.15 338.93L375.59 338.93L382.03 338.93L388.47 338.93L394.91 338.93L401.35 338.93L407.79 338.93L414.23 338.93L420.67 338.93L427.11 338.93L433.55 338.93L439.99 338.93L446.43 338.93L452.88 338.93L459.32 338.93L465.76 338.93L472.2 338.93L478.64 338.93L485.08 338.93L491.52 338.93L497.96 338.93L504.4 338.93" fill="none" stroke="#808080" stroke-width="1.0" stroke-linejoin="round"/>
<path d="M298.3 337.13L300.1 338.93L298.3 340.73L296.5 338.93Z" fill="#808080" fill-opacity="0.35" stroke="#808080" stroke-width="0.9"/>
<path d="M304.74 337.13L306.54 338.93L304.74 340.73L302.94 338.93Z" fill="#808080" fill-opacity="0.35" stroke="#808080" stroke-width="0.9"/>
<path d="M311.18 337.13L312.98 338.93L311.18 340.73L309.38 338.93Z" fill="#808080" fill-opacity="0.35" stroke="#808080" stroke-width="0.9"/>
<path d="M317.62 337.13L319.42 338.93L317.62 340.73L315.82 338.93Z" fill="#808080" fill-opacity="0.35" stroke="#808080" stroke-width="0.9"/>
<path d="M324.06 337.13L325.86 338.93L324.06 340.73L322.26 338.93Z" fill="#808080" fill-opacity="0.35" stroke="#808080" stroke-width="0.9"/>
<path d="M330.5 337.13L332.3 338.93L330.5 340.73L328.7 338.93Z" fill="#808080" fill-opacity="0.35" stroke="#808080" stroke-width="0.9"/>
<path d="M336.94 337.13L338.74 338.93L336.94 340.73L335.14 338.93Z" fill="#808080" fill-opacity="0.35" stroke="#808080" stroke-width="0.9"/>
<path d="M343.38 337.13L345.18 338.93L343.38 340.73L341.58 338.93Z" fill="#808080" fill-opacity="0.35" stroke="#808080" stroke-width="0.9"/>
<path d="M349.82 337.13L351.62 338.93L349.82 340.73L348.02 338.93Z" fill="#808080" fill-opacity="0.35" stroke="#808080" stroke-width="0.9"/>
<path d="M356.27 337.13L358.07 338.93L356.27 340.73L354.47 338.93Z" fill="#808080" fill-opacity="0.35" stroke="#808080" stroke-width="0.9"/>
<path d="M362.71 337.13L364.51 338.93L362.71 340.73L360.91 338.93Z" fill="#808080" fill-opacity="0.35" stroke="#808080" stroke-width="0.9"/>
<path d="M369.15 337.13L370.95 338.93L369.15 340.73L367.35 338.93Z" fill="#808080" fill-opacity="0.35" stroke="#808080" stroke-width="0.9"/>
<path d="M375.59 337.13L377.39 338.93L375.59 340.73L373.79 338.93Z" fill="#808080" fill-opacity="0.35" stroke="#808080" stroke-width="0.9"/>
<path d="M382.03 337.13L383.83 338.93L382.03 340.73L380.23 338.93Z" fill="#808080" fill-opacity="0.35" stroke="#808080" stroke-width="0.9"/>
<path d="M388.47 337.13L390.27 338.93L388.47 340.73L386.67 338.93Z" fill="#808080" fill-opacity="0.35" stroke="#808080" stroke-width="0.9"/>
<path d="M394.91 337.13L396.71 338.93L394.91 340.73L393.11 338.93Z" fill="#808080" fill-opacity="0.35" stroke="#808080" stroke-width="0.9"/>
<path d="M401.35 337.13L403.15 338.93L401.35 340.73L399.55 338.93Z" fill="#808080" fill-opacity="0.35" stroke="#808080" stroke-width="0.9"/>
<path d="M407.79 337.13L409.59 338.93L407.79 340.73L405.99 338.93Z" fill="#808080" fill-opacity="0.35" stroke="#808080" stroke-width="0.9"/>
<path d="M414.23 337.13L416.03 338.93L414.23 340.73L412.43 338.93Z" fill="#808080" fill-opacity="0.35" stroke="#808080" stroke-width="0.9"/>
<path d="M420.67 337.13L422.47 338.93L420.67 340.73L418.87 338.93Z" fill="#808080" fill-opacity="0.35" stroke="#808080" stroke-width="0.9"/>
<path d="M427.11 337.13L428.91 338.93L427.11 340.73L425.31 338.93Z" fill="#808080" fill-opacity="0.35" stroke="#808080" stroke-width="0.9"/>
<path d="M433.55 337.13L435.35 338.93L433.55 340.73L431.75 338.93Z" fill="#808080" fill-opacity="0.35" stroke="#808080" stroke-width="0.9"/>
<path d="M439.99 337.13L441.79 338.93L439.99 340.73L438.19 338.93Z" fill="#808080" fill-opacity="0.35" stroke="#808080" stroke-width="0.9"/>
<path d="M446.43 337.13L448.23 338.93L446.43 340.73L444.63 338.93Z" fill="#808080" fill-opacity="0.35" stroke="#808080" stroke-width="0.9"/>
<path d="M452.88 337.13L454.68 338.93L452.88 340.73L451.07 338.93Z" fill="#808080" fill-opacity="0.35" stroke="#808080" stroke-width="0.9"/>
<path d="M459.32 337.13L461.12 338.93L459.32 340.73L457.52 338.93Z" fill="#808080" fill-opacity="0.35" stroke="#808080" stroke-width="0.9"/>
<path d="M465.76 337.13L467.56 338.93L465.76 340.73L463.96 338.93Z" fill="#808080" fill-opacity="0.35" stroke="#808080" stroke-width="0.9"/>
<path d="M472.2 337.13L474 338.93L472.2 340.73L470.4 338.93Z" fill="#808080" fill-opacity="0.35" stroke="#808080" stroke-width="0.9"/>
<path d="M478.64 337.13L480.44 338.93L478.64 340.73L476.84 338.93Z" fill="#808080" fill-opacity="0.35" stroke="#808080" stroke-width="0.9"/>
<path d="M485.08 337.13L486.88 338.93L485.08 340.73L483.28 338.93Z" fill="#808080" fill-opacity="0.35" stroke="#808080" stroke-width="0.9"/>
<path d="M491.52 337.13L493.32 338.93L491.52 340.73L489.72 338.93Z" fill="#808080" fill-opacity="0.35" stroke="#808080" stroke-width="0.9"/>
<path d="M497.96 337.13L499.76 338.93L497.96 340.73L496.16 338.93Z" fill="#808080" fill-opacity="0.35" stroke="#808080" stroke-width="0.9"/>
<path d="M504.4 337.13L506.2 338.93L504.4 340.73L502.6 338.93Z" fill="#808080" fill-opacity="0.35" stroke="#808080" stroke-width="0.9"/>
<path d="M298.3 338.47L304.74 338.47L311.18 338.47L317.62 338.47L324.06 338.47L330.5 338.47L336.94 338.47L343.38 338.47L349.82 338.47L356.27 336.09L362.71 334.95L369.15 334.95L375.59 335.18L382.03 335.41L388.47 335.63L394.91 335.86L401.35 336.09L407.79 336.32L414.23 336.43L420.67 336.54L427.11 336.66L433.55 336.77L439.99 336.88L446.43 337L452.88 337.11L459.32 337.22L465.76 337.22L472.2 337.34L478.64 337.34L485.08 337.45L491.52 337.45L497.96 337.57L504.4 337.57" fill="none" stroke="#a23ce6" stroke-width="1.0" stroke-linejoin="round"/>
<path d="M298.3 336.47L300.3 339.97L296.3 339.97Z" fill="#a23ce6" fill-opacity="0.35" stroke="#a23ce6" stroke-width="0.9"/>
<path d="M304.74 336.47L306.74 339.97L302.74 339.97Z" fill="#a23ce6" fill-opacity="0.35" stroke="#a23ce6" stroke-width="0.9"/>
<path d="M311.18 336.47L313.18 339.97L309.18 339.97Z" fill="#a23ce6" fill-opacity="0.35" stroke="#a23ce6" stroke-width="0.9"/>
<path d="M317.62 336.47L319.62 339.97L315.62 339.97Z" fill="#a23ce6" fill-opacity="0.35" stroke="#a23ce6" stroke-width="0.9"/>
<path d="M324.06 336.47L326.06 339.97L322.06 339.97Z" fill="#a23ce6" fill-opacity="0.35" stroke="#a23ce6" stroke-width="0.9"/>
<path d="M330.5 336.47L332.5 339.97L328.5 339.97Z" fill="#a23ce6" fill-opacity="0.35" stroke="#a23ce6" stroke-width="0.9"/>
<path d="M336.94 336.47L338.94 339.97L334.94 339.97Z" fill="#a23ce6" fill-opacity="0.35" stroke="#a23ce6" stroke-width="0.9"/>
<path d="M343.38 336.47L345.38 339.97L341.38 339.97Z" fill="#a23ce6" fill-opacity="0.35" stroke="#a23ce6" stroke-width="0.9"/>
<path d="M349.82 336.47L351.82 339.97L347.82 339.97Z" fill="#a23ce6" fill-opacity="0.35" stroke="#a23ce6" stroke-width="0.9"/>
<path d="M356.27 334.09L358.27 337.59L354.27 337.59Z" fill="#a23ce6" fill-opacity="0.35" stroke="#a23ce6" stroke-width="0.9"/>
<path d="M362.71 332.95L364.71 336.45L360.71 336.45Z" fill="#a23ce6" fill-opacity="0.35" stroke="#a23ce6" stroke-width="0.9"/>
<path d="M369.15 332.95L371.15 336.45L367.15 336.45Z" fill="#a23ce6" fill-opacity="0.35" stroke="#a23ce6" stroke-width="0.9"/>
<path d="M375.59 333.18L377.59 336.68L373.59 336.68Z" fill="#a23ce6" fill-opacity="0.35" stroke="#a23ce6" stroke-width="0.9"/>
<path d="M382.03 333.41L384.03 336.91L380.03 336.91Z" fill="#a23ce6" fill-opacity="0.35" stroke="#a23ce6" stroke-width="0.9"/>
<path d="M388.47 333.63L390.47 337.13L386.47 337.13Z" fill="#a23ce6" fill-opacity="0.35" stroke="#a23ce6" stroke-width="0.9"/>
<path d="M394.91 333.86L396.91 337.36L392.91 337.36Z" fill="#a23ce6" fill-opacity="0.35" stroke="#a23ce6" stroke-width="0.9"/>
<path d="M401.35 334.09L403.35 337.59L399.35 337.59Z" fill="#a23ce6" fill-opacity="0.35" stroke="#a23ce6" stroke-width="0.9"/>
<path d="M407.79 334.32L409.79 337.82L405.79 337.82Z" fill="#a23ce6" fill-opacity="0.35" stroke="#a23ce6" stroke-width="0.9"/>
<path d="M414.23 334.43L416.23 337.93L412.23 337.93Z" fill="#a23ce6" fill-opacity="0.35" stroke="#a23ce6" stroke-width="0.9"/>
<path d="M420.67 334.54L422.67 338.04L418.67 338.04Z" fill="#a23ce6" fill-opacity="0.35" stroke="#a23ce6" stroke-width="0.9"/>
<path d="M427.11 334.66L429.11 338.16L425.11 338.16Z" fill="#a23ce6" fill-opacity="0.35" stroke="#a23ce6" stroke-width="0.9"/>
<path d="M433.55 334.77L435.55 338.27L431.55 338.27Z" fill="#a23ce6" fill-opacity="0.35" stroke="#a23ce6" stroke-width="0.9"/>
<path d="M439.99 334.88L441.99 338.38L437.99 338.38Z" fill="#a23ce6" fill-opacity="0.35" stroke="#a23ce6" stroke-width="0.9"/>
<path d="M446.43 335L448.43 338.5L444.43 338.5Z" fill="#a23ce6" fill-opacity="0.35" stroke="#a23ce6" stroke-width="0.9"/>
<path d="M452.88 335.11L454.88 338.61L450.88 338.61Z" fill="#a23ce6" fill-opacity="0.35" stroke="#a23ce6" stroke-width="0.9"/>
<path d="M459.32 335.22L461.32 338.72L457.32 338.72Z" fill="#a23ce6" fill-opacity="0.35" stroke="#a23ce6" stroke-width="0.9"/>
<path d="M465.76 335.22L467.76 338.72L463.76 338.72Z" fill="#a23ce6" fill-opacity="0.35" stroke="#a23ce6" stroke-width="0.9"/>
<path d="M472.2 335.34L474.2 338.84L470.2 338.84Z" fill="#a23ce6" fill-opacity="0.35" stroke="#a23ce6" stroke-width="0.9"/>
<path d="M478.64 335.34L480.64 338.84L476.64 338.84Z" fill="#a23ce6" fill-opacity="0.35" stroke="#a23ce6" stroke-width="0.9"/>
<path d="M485.08 335.45L487.08 338.95L483.08 338.95Z" fill="#a23ce6" fill-opacity="0.35" stroke="#a23ce6" stroke-width="0.9"/>
<path d="M491.52 335.45L493.52 338.95L489.52 338.95Z" fill="#a23ce6" fill-opacity="0.35" stroke="#a23ce6" stroke-width="0.9"/>
<path d="M497.96 335.57L499.96 339.07L495.96 339.07Z" fill="#a23ce6" fill-opacity="0.35" stroke="#a23ce6" stroke-width="0.9"/>
<path d="M504.4 335.57L506.4 339.07L502.4 339.07Z" fill="#a23ce6" fill-opacity="0.35" stroke="#a23ce6" stroke-width="0.9"/>
<path d="M298.3 338.36L304.74 338.36L311.18 338.36L317.62 338.36L324.06 338.36L330.5 338.36L336.94 338.36L343.38 338.36L349.82 338.36L356.27 334.16L362.71 333.02L369.15 332.79L375.59 333.02L382.03 333.25L388.47 333.48L394.91 333.82L401.35 334.16L407.79 334.38L414.23 334.61L420.67 334.84L427.11 335.07L433.55 335.29L439.99 335.52L446.43 335.75L452.88 335.86L459.32 335.98L465.76 336.09L472.2 336.2L478.64 336.32L485.08 336.43L491.52 336.54L497.96 336.66L504.4 336.66" fill="none" stroke="#2323e6" stroke-width="1.0" stroke-linejoin="round"/>
<circle cx="298.3" cy="338.36" r="1.6" fill="#2323e6" fill-opacity="0.35" stroke="#2323e6" stroke-width="1"/>
<circle cx="304.74" cy="338.36" r="1.6" fill="#2323e6" fill-opacity="0.35" stroke="#2323e6" stroke-width="1"/>
<circle cx="311.18" cy="338.36" r="1.6" fill="#2323e6" fill-opacity="0.35" stroke="#2323e6" stroke-width="1"/>
<circle cx="317.62" cy="338.36" r="1.6" fill="#2323e6" fill-opacity="0.35" stroke="#2323e6" stroke-width="1"/>
<circle cx="324.06" cy="338.36" r="1.6" fill="#2323e6" fill-opacity="0.35" stroke="#2323e6" stroke-width="1"/>
<circle cx="330.5" cy="338.36" r="1.6" fill="#2323e6" fill-opacity="0.35" stroke="#2323e6" stroke-width="1"/>
<circle cx="336.94" cy="338.36" r="1.6" fill="#2323e6" fill-opacity="0.35" stroke="#2323e6" stroke-width="1"/>
<circle cx="343.38" cy="338.36" r="1.6" fill="#2323e6" fill-opacity="0.35" stroke="#2323e6" stroke-width="1"/>
<circle cx="349.82" cy="338.36" r="1.6" fill="#2323e6" fill-opacity="0.35" stroke="#2323e6" stroke-width="1"/>
<circle cx="356.27" cy="334.16" r="1.6" fill="#2323e6" fill-opacity="0.35" stroke="#2323e6" stroke-width="1"/>
<circle cx="362.71" cy="333.02" r="1.6" fill="#2323e6" fill-opacity="0.35" stroke="#2323e6" stroke-width="1"/>
<circle cx="369.15" cy="332.79" r="1.6" fill="#2323e6" fill-opacity="0.35" stroke="#2323e6" stroke-width="1"/>
<circle cx="375.59" cy="333.02" r="1.6" fill="#2323e6" fill-opacity="0.35" stroke="#2323e6" stroke-width="1"/>
<circle cx="382.03" cy="333.25" r="1.6" fill="#2323e6" fill-opacity="0.35" stroke="#2323e6" stroke-width="1"/>
<circle cx="388.47" cy="333.48" r="1.6" fill="#2323e6" fill-opacity="0.35" stroke="#2323e6" stroke-width="1"/>
<circle cx="394.91" cy="333.82" r="1.6" fill="#2323e6" fill-opacity="0.35" stroke="#2323e6" stroke-width="1"/>
<circle cx="401.35" cy="334.16" r="1.6" fill="#2323e6" fill-opacity="0.35" stroke="#2323e6" stroke-width="1"/>
<circle cx="407.79" cy="334.38" r="1.6" fill="#2323e6" fill-opacity="0.35" stroke="#2323e6" stroke-width="1"/>
<circle cx="414.23" cy="334.61" r="1.6" fill="#2323e6" fill-opacity="0.35" stroke="#2323e6" stroke-width="1"/>
<circle cx="420.67" cy="334.84" r="1.6" fill="#2323e6" fill-opacity="0.35" stroke="#2323e6" stroke-width="1"/>
<circle cx="427.11" cy="335.07" r="1.6" fill="#2323e6" fill-opacity="0.35" stroke="#2323e6" stroke-width="1"/>
<circle cx="433.55" cy="335.29" r="1.6" fill="#2323e6" fill-opacity="0.35" stroke="#2323e6" stroke-width="1"/>
<circle cx="439.99" cy="335.52" r="1.6" fill="#2323e6" fill-opacity="0.35" stroke="#2323e6" stroke-width="1"/>
<circle cx="446.43" cy="335.75" r="1.6" fill="#2323e6" fill-opacity="0.35" stroke="#2323e6" stroke-width="1"/>
<circle cx="452.88" cy="335.86" r="1.6" fill="#2323e6" fill-opacity="0.35" stroke="#2323e6" stroke-width="1"/>
<circle cx="459.32" cy="335.98" r="1.6" fill="#2323e6" fill-opacity="0.35" stroke="#2323e6" stroke-width="1"/>
<circle cx="465.76" cy="336.09" r="1.6" fill="#2323e6" fill-opacity="0.35" stroke="#2323e6" stroke-width="1"/>
<circle cx="472.2" cy="336.2" r="1.6" fill="#2323e6" fill-opacity="0.35" stroke="#2323e6" stroke-width="1"/>
<circle cx="478.64" cy="336.32" r="1.6" fill="#2323e6" fill-opacity="0.35" stroke="#2323e6" stroke-width="1"/>
<circle cx="485.08" cy="336.43" r="1.6" fill="#2323e6" fill-opacity="0.35" stroke="#2323e6" stroke-width="1"/>
<circle cx="491.52" cy="336.54" r="1.6" fill="#2323e6" fill-opacity="0.35" stroke="#2323e6" stroke-width="1"/>
<circle cx="497.96" cy="336.66" r="1.6" fill="#2323e6" fill-opacity="0.35" stroke="#2323e6" stroke-width="1"/>
<circle cx="504.4" cy="336.66" r="1.6" fill="#2323e6" fill-opacity="0.35" stroke="#2323e6" stroke-width="1"/>
<path d="M298.3 338.36L304.74 338.36L311.18 338.36L317.62 338.36L324.06 338.36L330.5 338.36L336.94 338.36L343.38 338.36L349.82 338.36L356.27 333.82L362.71 332.45L369.15 332.23L375.59 332.57L382.03 332.91L388.47 333.25L394.91 333.59L401.35 333.93L407.79 334.16L414.23 334.38L420.67 334.61L427.11 334.84L433.55 335.07L439.99 335.29L446.43 335.52L452.88 335.63L459.32 335.75L465.76 335.86L472.2 335.98L478.64 336.09L485.08 336.2L491.52 336.32L497.96 336.43L504.4 336.54" fill="none" stroke="#79b4f0" stroke-width="1.0" stroke-linejoin="round"/>
<rect x="296.7" y="336.76" width="3.2" height="3.2" fill="#79b4f0" fill-opacity="0.35" stroke="#79b4f0" stroke-width="0.9"/>
<rect x="303.14" y="336.76" width="3.2" height="3.2" fill="#79b4f0" fill-opacity="0.35" stroke="#79b4f0" stroke-width="0.9"/>
<rect x="309.58" y="336.76" width="3.2" height="3.2" fill="#79b4f0" fill-opacity="0.35" stroke="#79b4f0" stroke-width="0.9"/>
<rect x="316.02" y="336.76" width="3.2" height="3.2" fill="#79b4f0" fill-opacity="0.35" stroke="#79b4f0" stroke-width="0.9"/>
<rect x="322.46" y="336.76" width="3.2" height="3.2" fill="#79b4f0" fill-opacity="0.35" stroke="#79b4f0" stroke-width="0.9"/>
<rect x="328.9" y="336.76" width="3.2" height="3.2" fill="#79b4f0" fill-opacity="0.35" stroke="#79b4f0" stroke-width="0.9"/>
<rect x="335.34" y="336.76" width="3.2" height="3.2" fill="#79b4f0" fill-opacity="0.35" stroke="#79b4f0" stroke-width="0.9"/>
<rect x="341.78" y="336.76" width="3.2" height="3.2" fill="#79b4f0" fill-opacity="0.35" stroke="#79b4f0" stroke-width="0.9"/>
<rect x="348.22" y="336.76" width="3.2" height="3.2" fill="#79b4f0" fill-opacity="0.35" stroke="#79b4f0" stroke-width="0.9"/>
<rect x="354.67" y="332.22" width="3.2" height="3.2" fill="#79b4f0" fill-opacity="0.35" stroke="#79b4f0" stroke-width="0.9"/>
<rect x="361.11" y="330.85" width="3.2" height="3.2" fill="#79b4f0" fill-opacity="0.35" stroke="#79b4f0" stroke-width="0.9"/>
<rect x="367.55" y="330.63" width="3.2" height="3.2" fill="#79b4f0" fill-opacity="0.35" stroke="#79b4f0" stroke-width="0.9"/>
<rect x="373.99" y="330.97" width="3.2" height="3.2" fill="#79b4f0" fill-opacity="0.35" stroke="#79b4f0" stroke-width="0.9"/>
<rect x="380.43" y="331.31" width="3.2" height="3.2" fill="#79b4f0" fill-opacity="0.35" stroke="#79b4f0" stroke-width="0.9"/>
<rect x="386.87" y="331.65" width="3.2" height="3.2" fill="#79b4f0" fill-opacity="0.35" stroke="#79b4f0" stroke-width="0.9"/>
<rect x="393.31" y="331.99" width="3.2" height="3.2" fill="#79b4f0" fill-opacity="0.35" stroke="#79b4f0" stroke-width="0.9"/>
<rect x="399.75" y="332.33" width="3.2" height="3.2" fill="#79b4f0" fill-opacity="0.35" stroke="#79b4f0" stroke-width="0.9"/>
<rect x="406.19" y="332.56" width="3.2" height="3.2" fill="#79b4f0" fill-opacity="0.35" stroke="#79b4f0" stroke-width="0.9"/>
<rect x="412.63" y="332.78" width="3.2" height="3.2" fill="#79b4f0" fill-opacity="0.35" stroke="#79b4f0" stroke-width="0.9"/>
<rect x="419.07" y="333.01" width="3.2" height="3.2" fill="#79b4f0" fill-opacity="0.35" stroke="#79b4f0" stroke-width="0.9"/>
<rect x="425.51" y="333.24" width="3.2" height="3.2" fill="#79b4f0" fill-opacity="0.35" stroke="#79b4f0" stroke-width="0.9"/>
<rect x="431.95" y="333.47" width="3.2" height="3.2" fill="#79b4f0" fill-opacity="0.35" stroke="#79b4f0" stroke-width="0.9"/>
<rect x="438.39" y="333.69" width="3.2" height="3.2" fill="#79b4f0" fill-opacity="0.35" stroke="#79b4f0" stroke-width="0.9"/>
<rect x="444.83" y="333.92" width="3.2" height="3.2" fill="#79b4f0" fill-opacity="0.35" stroke="#79b4f0" stroke-width="0.9"/>
<rect x="451.27" y="334.03" width="3.2" height="3.2" fill="#79b4f0" fill-opacity="0.35" stroke="#79b4f0" stroke-width="0.9"/>
<rect x="457.72" y="334.15" width="3.2" height="3.2" fill="#79b4f0" fill-opacity="0.35" stroke="#79b4f0" stroke-width="0.9"/>
<rect x="464.16" y="334.26" width="3.2" height="3.2" fill="#79b4f0" fill-opacity="0.35" stroke="#79b4f0" stroke-width="0.9"/>
<rect x="470.6" y="334.38" width="3.2" height="3.2" fill="#79b4f0" fill-opacity="0.35" stroke="#79b4f0" stroke-width="0.9"/>
<rect x="477.04" y="334.49" width="3.2" height="3.2" fill="#79b4f0" fill-opacity="0.35" stroke="#79b4f0" stroke-width="0.9"/>
<rect x="483.48" y="334.6" width="3.2" height="3.2" fill="#79b4f0" fill-opacity="0.35" stroke="#79b4f0" stroke-width="0.9"/>
<rect x="489.92" y="334.72" width="3.2" height="3.2" fill="#79b4f0" fill-opacity="0.35" stroke="#79b4f0" stroke-width="0.9"/>
<rect x="496.36" y="334.83" width="3.2" height="3.2" fill="#79b4f0" fill-opacity="0.35" stroke="#79b4f0" stroke-width="0.9"/>
<rect x="502.8" y="334.94" width="3.2" height="3.2" fill="#79b4f0" fill-opacity="0.35" stroke="#79b4f0" stroke-width="0.9"/>
<path d="M298.3 338.36L304.74 338.36L311.18 338.36L317.62 338.36L324.06 338.36L330.5 338.36L336.94 338.36L343.38 338.36L349.82 338.36L356.27 331.2L362.71 330.18L369.15 329.73L375.59 330.64L382.03 331.2L388.47 331.2L394.91 331.55L401.35 331.89L407.79 332.11L414.23 332.57L420.67 332.91L427.11 333.25L433.55 333.48L439.99 333.7L446.43 333.93L452.88 334.16L459.32 334.38L465.76 334.61L472.2 334.84L478.64 334.95L485.08 335.07L491.52 335.18L497.96 335.29L504.4 335.41" fill="none" stroke="#4cb848" stroke-width="1.0" stroke-linejoin="round"/>
<path d="M298.3 336.46L300.2 338.36L298.3 340.26L296.4 338.36Z" fill="#4cb848"/>
<path d="M304.74 336.46L306.64 338.36L304.74 340.26L302.84 338.36Z" fill="#4cb848"/>
<path d="M311.18 336.46L313.08 338.36L311.18 340.26L309.28 338.36Z" fill="#4cb848"/>
<path d="M317.62 336.46L319.52 338.36L317.62 340.26L315.72 338.36Z" fill="#4cb848"/>
<path d="M324.06 336.46L325.96 338.36L324.06 340.26L322.16 338.36Z" fill="#4cb848"/>
<path d="M330.5 336.46L332.4 338.36L330.5 340.26L328.6 338.36Z" fill="#4cb848"/>
<path d="M336.94 336.46L338.84 338.36L336.94 340.26L335.04 338.36Z" fill="#4cb848"/>
<path d="M343.38 336.46L345.28 338.36L343.38 340.26L341.48 338.36Z" fill="#4cb848"/>
<path d="M349.82 336.46L351.72 338.36L349.82 340.26L347.93 338.36Z" fill="#4cb848"/>
<path d="M356.27 329.3L358.17 331.2L356.27 333.1L354.37 331.2Z" fill="#4cb848"/>
<path d="M362.71 328.28L364.61 330.18L362.71 332.08L360.81 330.18Z" fill="#4cb848"/>
<path d="M369.15 327.83L371.05 329.73L369.15 331.63L367.25 329.73Z" fill="#4cb848"/>
<path d="M375.59 328.74L377.49 330.64L375.59 332.54L373.69 330.64Z" fill="#4cb848"/>
<path d="M382.03 329.3L383.93 331.2L382.03 333.1L380.13 331.2Z" fill="#4cb848"/>
<path d="M388.47 329.3L390.37 331.2L388.47 333.1L386.57 331.2Z" fill="#4cb848"/>
<path d="M394.91 329.65L396.81 331.55L394.91 333.45L393.01 331.55Z" fill="#4cb848"/>
<path d="M401.35 329.99L403.25 331.89L401.35 333.79L399.45 331.89Z" fill="#4cb848"/>
<path d="M407.79 330.21L409.69 332.11L407.79 334.01L405.89 332.11Z" fill="#4cb848"/>
<path d="M414.23 330.67L416.13 332.57L414.23 334.47L412.33 332.57Z" fill="#4cb848"/>
<path d="M420.67 331.01L422.57 332.91L420.67 334.81L418.77 332.91Z" fill="#4cb848"/>
<path d="M427.11 331.35L429.01 333.25L427.11 335.15L425.21 333.25Z" fill="#4cb848"/>
<path d="M433.55 331.58L435.45 333.48L433.55 335.38L431.65 333.48Z" fill="#4cb848"/>
<path d="M439.99 331.8L441.89 333.7L439.99 335.6L438.09 333.7Z" fill="#4cb848"/>
<path d="M446.43 332.03L448.33 333.93L446.43 335.83L444.53 333.93Z" fill="#4cb848"/>
<path d="M452.88 332.26L454.77 334.16L452.88 336.06L450.98 334.16Z" fill="#4cb848"/>
<path d="M459.32 332.49L461.22 334.38L459.32 336.28L457.42 334.38Z" fill="#4cb848"/>
<path d="M465.76 332.71L467.66 334.61L465.76 336.51L463.86 334.61Z" fill="#4cb848"/>
<path d="M472.2 332.94L474.1 334.84L472.2 336.74L470.3 334.84Z" fill="#4cb848"/>
<path d="M478.64 333.05L480.54 334.95L478.64 336.85L476.74 334.95Z" fill="#4cb848"/>
<path d="M485.08 333.17L486.98 335.07L485.08 336.97L483.18 335.07Z" fill="#4cb848"/>
<path d="M491.52 333.28L493.42 335.18L491.52 337.08L489.62 335.18Z" fill="#4cb848"/>
<path d="M497.96 333.39L499.86 335.29L497.96 337.19L496.06 335.29Z" fill="#4cb848"/>
<path d="M504.4 333.51L506.3 335.41L504.4 337.31L502.5 335.41Z" fill="#4cb848"/>
<path d="M298.3 338.36L304.74 338.36L311.18 338.36L317.62 338.36L324.06 338.36L330.5 338.36L336.94 338.36L343.38 338.36L349.82 338.36L356.27 314.85L362.71 318.48L369.15 321.44L375.59 323.59L382.03 325.41L388.47 327.57L394.91 328.93L401.35 330.07L407.79 330.98L414.23 331.66L420.67 332.34L427.11 332.91L433.55 333.36L439.99 333.7L446.43 334.04L452.88 334.38L459.32 334.61L465.76 334.84L472.2 335.07L478.64 335.29L485.08 335.41L491.52 335.52L497.96 335.63L504.4 335.75" fill="none" stroke="#f7943a" stroke-width="1.0" stroke-linejoin="round"/>
<path d="M356.27 311.44V318.26M354.67 311.44H357.87M354.67 318.26H357.87" stroke="#f7943a" stroke-width="0.9" fill="none"/>
<path d="M362.71 316.21V320.75M361.11 316.21H364.31M361.11 320.75H364.31" stroke="#f7943a" stroke-width="0.9" fill="none"/>
<path d="M369.15 319.73V323.14M367.55 319.73H370.75M367.55 323.14H370.75" stroke="#f7943a" stroke-width="0.9" fill="none"/>
<path d="M375.59 322.46V324.73M373.99 322.46H377.19M373.99 324.73H377.19" stroke="#f7943a" stroke-width="0.9" fill="none"/>
<path d="M382.03 324.28V326.55M380.43 324.28H383.63M380.43 326.55H383.63" stroke="#f7943a" stroke-width="0.9" fill="none"/>
<path d="M388.47 326.43V328.71M386.87 326.43H390.07M386.87 328.71H390.07" stroke="#f7943a" stroke-width="0.9" fill="none"/>
<path d="M394.91 327.8V330.07M393.31 327.8H396.51M393.31 330.07H396.51" stroke="#f7943a" stroke-width="0.9" fill="none"/>
<path d="M401.35 328.93V331.2M399.75 328.93H402.95M399.75 331.2H402.95" stroke="#f7943a" stroke-width="0.9" fill="none"/>
<path d="M407.79 329.84V332.11M406.19 329.84H409.39M406.19 332.11H409.39" stroke="#f7943a" stroke-width="0.9" fill="none"/>
<path d="M414.23 330.52V332.79M412.63 330.52H415.83M412.63 332.79H415.83" stroke="#f7943a" stroke-width="0.9" fill="none"/>
<path d="M420.67 331.2V333.48M419.07 331.2H422.27M419.07 333.48H422.27" stroke="#f7943a" stroke-width="0.9" fill="none"/>
<path d="M427.11 331.77V334.04M425.51 331.77H428.71M425.51 334.04H428.71" stroke="#f7943a" stroke-width="0.9" fill="none"/>
<path d="M433.55 332.23V334.5M431.95 332.23H435.15M431.95 334.5H435.15" stroke="#f7943a" stroke-width="0.9" fill="none"/>
<path d="M439.99 332.57V334.84M438.39 332.57H441.59M438.39 334.84H441.59" stroke="#f7943a" stroke-width="0.9" fill="none"/>
<path d="M446.43 332.91V335.18M444.83 332.91H448.03M444.83 335.18H448.03" stroke="#f7943a" stroke-width="0.9" fill="none"/>
<path d="M452.88 333.25V335.52M451.27 333.25H454.48M451.27 335.52H454.48" stroke="#f7943a" stroke-width="0.9" fill="none"/>
<path d="M459.32 333.48V335.75M457.72 333.48H460.92M457.72 335.75H460.92" stroke="#f7943a" stroke-width="0.9" fill="none"/>
<path d="M465.76 333.7V335.98M464.16 333.7H467.36M464.16 335.98H467.36" stroke="#f7943a" stroke-width="0.9" fill="none"/>
<path d="M472.2 333.93V336.2M470.6 333.93H473.8M470.6 336.2H473.8" stroke="#f7943a" stroke-width="0.9" fill="none"/>
<path d="M478.64 334.16V336.43M477.04 334.16H480.24M477.04 336.43H480.24" stroke="#f7943a" stroke-width="0.9" fill="none"/>
<path d="M485.08 334.27V336.54M483.48 334.27H486.68M483.48 336.54H486.68" stroke="#f7943a" stroke-width="0.9" fill="none"/>
<path d="M491.52 334.38V336.66M489.92 334.38H493.12M489.92 336.66H493.12" stroke="#f7943a" stroke-width="0.9" fill="none"/>
<path d="M497.96 334.5V336.77M496.36 334.5H499.56M496.36 336.77H499.56" stroke="#f7943a" stroke-width="0.9" fill="none"/>
<path d="M504.4 334.61V336.88M502.8 334.61H506M502.8 336.88H506" stroke="#f7943a" stroke-width="0.9" fill="none"/>
<path d="M298.3 336.16L300.5 340.01L296.1 340.01Z" fill="#f7943a"/>
<path d="M304.74 336.16L306.94 340.01L302.54 340.01Z" fill="#f7943a"/>
<path d="M311.18 336.16L313.38 340.01L308.98 340.01Z" fill="#f7943a"/>
<path d="M317.62 336.16L319.82 340.01L315.42 340.01Z" fill="#f7943a"/>
<path d="M324.06 336.16L326.26 340.01L321.86 340.01Z" fill="#f7943a"/>
<path d="M330.5 336.16L332.7 340.01L328.3 340.01Z" fill="#f7943a"/>
<path d="M336.94 336.16L339.14 340.01L334.74 340.01Z" fill="#f7943a"/>
<path d="M343.38 336.16L345.58 340.01L341.18 340.01Z" fill="#f7943a"/>
<path d="M349.82 336.16L352.02 340.01L347.62 340.01Z" fill="#f7943a"/>
<path d="M356.27 312.65L358.47 316.5L354.07 316.5Z" fill="#f7943a"/>
<path d="M362.71 316.28L364.91 320.13L360.51 320.13Z" fill="#f7943a"/>
<path d="M369.15 319.24L371.35 323.09L366.95 323.09Z" fill="#f7943a"/>
<path d="M375.59 321.39L377.79 325.24L373.39 325.24Z" fill="#f7943a"/>
<path d="M382.03 323.21L384.23 327.06L379.83 327.06Z" fill="#f7943a"/>
<path d="M388.47 325.37L390.67 329.22L386.27 329.22Z" fill="#f7943a"/>
<path d="M394.91 326.73L397.11 330.58L392.71 330.58Z" fill="#f7943a"/>
<path d="M401.35 327.87L403.55 331.72L399.15 331.72Z" fill="#f7943a"/>
<path d="M407.79 328.78L409.99 332.63L405.59 332.63Z" fill="#f7943a"/>
<path d="M414.23 329.46L416.43 333.31L412.03 333.31Z" fill="#f7943a"/>
<path d="M420.67 330.14L422.87 333.99L418.47 333.99Z" fill="#f7943a"/>
<path d="M427.11 330.71L429.31 334.56L424.91 334.56Z" fill="#f7943a"/>
<path d="M433.55 331.16L435.75 335.01L431.35 335.01Z" fill="#f7943a"/>
<path d="M439.99 331.5L442.19 335.35L437.79 335.35Z" fill="#f7943a"/>
<path d="M446.43 331.84L448.63 335.69L444.23 335.69Z" fill="#f7943a"/>
<path d="M452.88 332.19L455.07 336.03L450.68 336.03Z" fill="#f7943a"/>
<path d="M459.32 332.41L461.52 336.26L457.12 336.26Z" fill="#f7943a"/>
<path d="M465.76 332.64L467.96 336.49L463.56 336.49Z" fill="#f7943a"/>
<path d="M472.2 332.87L474.4 336.72L470 336.72Z" fill="#f7943a"/>
<path d="M478.64 333.09L480.84 336.94L476.44 336.94Z" fill="#f7943a"/>
<path d="M485.08 333.21L487.28 337.06L482.88 337.06Z" fill="#f7943a"/>
<path d="M491.52 333.32L493.72 337.17L489.32 337.17Z" fill="#f7943a"/>
<path d="M497.96 333.43L500.16 337.28L495.76 337.28Z" fill="#f7943a"/>
<path d="M504.4 333.55L506.6 337.4L502.2 337.4Z" fill="#f7943a"/>
<path d="M298.3 338.36L304.74 338.36L311.18 338.36L317.62 338.36L324.06 338.36L330.5 338.36L336.94 338.36L343.38 338.36L349.82 338.36L356.27 299.51L362.71 308.26L369.15 315.64L375.59 324.39L382.03 326.77L388.47 328.71L394.91 330.07L401.35 330.98L407.79 331.77L414.23 332.34L420.67 332.91L427.11 333.36L433.55 333.7L439.99 334.04L446.43 334.27L452.88 334.5L459.32 334.73L465.76 334.95L472.2 335.18L478.64 335.29L485.08 335.41L491.52 335.52L497.96 335.63L504.4 335.75" fill="none" stroke="#ee2a24" stroke-width="1.0" stroke-linejoin="round"/>
<circle cx="298.3" cy="338.36" r="1.75" fill="#ee2a24"/>
<circle cx="304.74" cy="338.36" r="1.75" fill="#ee2a24"/>
<circle cx="311.18" cy="338.36" r="1.75" fill="#ee2a24"/>
<circle cx="317.62" cy="338.36" r="1.75" fill="#ee2a24"/>
<circle cx="324.06" cy="338.36" r="1.75" fill="#ee2a24"/>
<circle cx="330.5" cy="338.36" r="1.75" fill="#ee2a24"/>
<circle cx="336.94" cy="338.36" r="1.75" fill="#ee2a24"/>
<circle cx="343.38" cy="338.36" r="1.75" fill="#ee2a24"/>
<circle cx="349.82" cy="338.36" r="1.75" fill="#ee2a24"/>
<circle cx="356.27" cy="299.51" r="1.75" fill="#ee2a24"/>
<circle cx="362.71" cy="308.26" r="1.75" fill="#ee2a24"/>
<circle cx="369.15" cy="315.64" r="1.75" fill="#ee2a24"/>
<circle cx="375.59" cy="324.39" r="1.75" fill="#ee2a24"/>
<circle cx="382.03" cy="326.77" r="1.75" fill="#ee2a24"/>
<circle cx="388.47" cy="328.71" r="1.75" fill="#ee2a24"/>
<circle cx="394.91" cy="330.07" r="1.75" fill="#ee2a24"/>
<circle cx="401.35" cy="330.98" r="1.75" fill="#ee2a24"/>
<circle cx="407.79" cy="331.77" r="1.75" fill="#ee2a24"/>
<circle cx="414.23" cy="332.34" r="1.75" fill="#ee2a24"/>
<circle cx="420.67" cy="332.91" r="1.75" fill="#ee2a24"/>
<circle cx="427.11" cy="333.36" r="1.75" fill="#ee2a24"/>
<circle cx="433.55" cy="333.7" r="1.75" fill="#ee2a24"/>
<circle cx="439.99" cy="334.04" r="1.75" fill="#ee2a24"/>
<circle cx="446.43" cy="334.27" r="1.75" fill="#ee2a24"/>
<circle cx="452.88" cy="334.5" r="1.75" fill="#ee2a24"/>
<circle cx="459.32" cy="334.73" r="1.75" fill="#ee2a24"/>
<circle cx="465.76" cy="334.95" r="1.75" fill="#ee2a24"/>
<circle cx="472.2" cy="335.18" r="1.75" fill="#ee2a24"/>
<circle cx="478.64" cy="335.29" r="1.75" fill="#ee2a24"/>
<circle cx="485.08" cy="335.41" r="1.75" fill="#ee2a24"/>
<circle cx="491.52" cy="335.52" r="1.75" fill="#ee2a24"/>
<circle cx="497.96" cy="335.63" r="1.75" fill="#ee2a24"/>
<circle cx="504.4" cy="335.75" r="1.75" fill="#ee2a24"/>
<path d="M298.3 338.36L304.74 338.36L311.18 338.36L317.62 338.36L324.06 338.36L330.5 338.36L336.94 338.36L343.38 338.36L349.82 338.36L356.27 294.63L362.71 307.92L369.15 317.12L375.59 322.46L382.03 325.75L388.47 327.68L394.91 329.5L401.35 330.18L407.79 331.55L414.23 331.55L420.67 332.57L427.11 332.91L433.55 333.25L439.99 333.48L446.43 333.7L452.88 333.93L459.32 334.16L465.76 334.38L472.2 334.5L478.64 334.61L485.08 334.73L491.52 334.84L497.96 334.95L504.4 334.95" fill="none" stroke="#000" stroke-width="1.2" stroke-linejoin="round"/>
<path d="M356.27 292.36V296.9M354.67 292.36H357.87M354.67 296.9H357.87" stroke="#000" stroke-width="0.9" fill="none"/>
<path d="M362.71 306.22V309.62M361.11 306.22H364.31M361.11 309.62H364.31" stroke="#000" stroke-width="0.9" fill="none"/>
<path d="M369.15 315.42V318.82M367.55 315.42H370.75M367.55 318.82H370.75" stroke="#000" stroke-width="0.9" fill="none"/>
<path d="M375.59 321.32V323.59M373.99 321.32H377.19M373.99 323.59H377.19" stroke="#000" stroke-width="0.9" fill="none"/>
<path d="M382.03 324.62V326.89M380.43 324.62H383.63M380.43 326.89H383.63" stroke="#000" stroke-width="0.9" fill="none"/>
<path d="M388.47 326.55V328.82M386.87 326.55H390.07M386.87 328.82H390.07" stroke="#000" stroke-width="0.9" fill="none"/>
<path d="M394.91 328.37V330.64M393.31 328.37H396.51M393.31 330.64H396.51" stroke="#000" stroke-width="0.9" fill="none"/>
<path d="M401.35 329.05V331.32M399.75 329.05H402.95M399.75 331.32H402.95" stroke="#000" stroke-width="0.9" fill="none"/>
<path d="M407.79 330.41V332.68M406.19 330.41H409.39M406.19 332.68H409.39" stroke="#000" stroke-width="0.9" fill="none"/>
<path d="M414.23 330.41V332.68M412.63 330.41H415.83M412.63 332.68H415.83" stroke="#000" stroke-width="0.9" fill="none"/>
<path d="M420.67 331.43V333.7M419.07 331.43H422.27M419.07 333.7H422.27" stroke="#000" stroke-width="0.9" fill="none"/>
<path d="M427.11 331.77V334.04M425.51 331.77H428.71M425.51 334.04H428.71" stroke="#000" stroke-width="0.9" fill="none"/>
<path d="M433.55 332.11V334.38M431.95 332.11H435.15M431.95 334.38H435.15" stroke="#000" stroke-width="0.9" fill="none"/>
<path d="M439.99 332.34V334.61M438.39 332.34H441.59M438.39 334.61H441.59" stroke="#000" stroke-width="0.9" fill="none"/>
<path d="M446.43 332.57V334.84M444.83 332.57H448.03M444.83 334.84H448.03" stroke="#000" stroke-width="0.9" fill="none"/>
<path d="M452.88 332.79V335.07M451.27 332.79H454.48M451.27 335.07H454.48" stroke="#000" stroke-width="0.9" fill="none"/>
<path d="M459.32 333.02V335.29M457.72 333.02H460.92M457.72 335.29H460.92" stroke="#000" stroke-width="0.9" fill="none"/>
<path d="M465.76 333.25V335.52M464.16 333.25H467.36M464.16 335.52H467.36" stroke="#000" stroke-width="0.9" fill="none"/>
<path d="M472.2 333.36V335.63M470.6 333.36H473.8M470.6 335.63H473.8" stroke="#000" stroke-width="0.9" fill="none"/>
<path d="M478.64 333.48V335.75M477.04 333.48H480.24M477.04 335.75H480.24" stroke="#000" stroke-width="0.9" fill="none"/>
<path d="M485.08 333.59V335.86M483.48 333.59H486.68M483.48 335.86H486.68" stroke="#000" stroke-width="0.9" fill="none"/>
<path d="M491.52 333.7V335.98M489.92 333.7H493.12M489.92 335.98H493.12" stroke="#000" stroke-width="0.9" fill="none"/>
<path d="M497.96 333.82V336.09M496.36 333.82H499.56M496.36 336.09H499.56" stroke="#000" stroke-width="0.9" fill="none"/>
<path d="M504.4 333.82V336.09M502.8 333.82H506M502.8 336.09H506" stroke="#000" stroke-width="0.9" fill="none"/>
<rect x="296.41" y="336.47" width="3.78" height="3.78" fill="#000"/>
<rect x="302.85" y="336.47" width="3.78" height="3.78" fill="#000"/>
<rect x="309.29" y="336.47" width="3.78" height="3.78" fill="#000"/>
<rect x="315.73" y="336.47" width="3.78" height="3.78" fill="#000"/>
<rect x="322.17" y="336.47" width="3.78" height="3.78" fill="#000"/>
<rect x="328.61" y="336.47" width="3.78" height="3.78" fill="#000"/>
<rect x="335.05" y="336.47" width="3.78" height="3.78" fill="#000"/>
<rect x="341.49" y="336.47" width="3.78" height="3.78" fill="#000"/>
<rect x="347.94" y="336.47" width="3.78" height="3.78" fill="#000"/>
<rect x="354.38" y="292.74" width="3.78" height="3.78" fill="#000"/>
<rect x="360.82" y="306.03" width="3.78" height="3.78" fill="#000"/>
<rect x="367.26" y="315.23" width="3.78" height="3.78" fill="#000"/>
<rect x="373.7" y="320.57" width="3.78" height="3.78" fill="#000"/>
<rect x="380.14" y="323.86" width="3.78" height="3.78" fill="#000"/>
<rect x="386.58" y="325.79" width="3.78" height="3.78" fill="#000"/>
<rect x="393.02" y="327.61" width="3.78" height="3.78" fill="#000"/>
<rect x="399.46" y="328.29" width="3.78" height="3.78" fill="#000"/>
<rect x="405.9" y="329.66" width="3.78" height="3.78" fill="#000"/>
<rect x="412.34" y="329.66" width="3.78" height="3.78" fill="#000"/>
<rect x="418.78" y="330.68" width="3.78" height="3.78" fill="#000"/>
<rect x="425.22" y="331.02" width="3.78" height="3.78" fill="#000"/>
<rect x="431.66" y="331.36" width="3.78" height="3.78" fill="#000"/>
<rect x="438.1" y="331.59" width="3.78" height="3.78" fill="#000"/>
<rect x="444.54" y="331.81" width="3.78" height="3.78" fill="#000"/>
<rect x="450.99" y="332.04" width="3.78" height="3.78" fill="#000"/>
<rect x="457.43" y="332.27" width="3.78" height="3.78" fill="#000"/>
<rect x="463.87" y="332.5" width="3.78" height="3.78" fill="#000"/>
<rect x="470.31" y="332.61" width="3.78" height="3.78" fill="#000"/>
<rect x="476.75" y="332.72" width="3.78" height="3.78" fill="#000"/>
<rect x="483.19" y="332.84" width="3.78" height="3.78" fill="#000"/>
<rect x="489.63" y="332.95" width="3.78" height="3.78" fill="#000"/>
<rect x="496.07" y="333.06" width="3.78" height="3.78" fill="#000"/>
<rect x="502.51" y="333.06" width="3.78" height="3.78" fill="#000"/>
<line x1="474.4" y1="207.3" x2="484" y2="207.3" stroke="#000" stroke-width="1.0"/>
<rect x="477" y="205.09" width="4.41" height="4.41" fill="#000"/>
<text x="490.4" y="210.94" font-size="10.1" text-anchor="start" font-weight="bold" fill="#000" >10 <tspan font-weight="normal">μ</tspan>M ISO</text>
<line x1="474.4" y1="221.4" x2="484" y2="221.4" stroke="#ee2a24" stroke-width="1.0"/>
<circle cx="479.2" cy="221.4" r="1.84" fill="#ee2a24"/>
<text x="490.4" y="225.04" font-size="10.1" text-anchor="start" font-weight="bold" fill="#000" >1 <tspan font-weight="normal">μ</tspan>M ISO</text>
<line x1="474.4" y1="236" x2="484" y2="236" stroke="#f7943a" stroke-width="1.0"/>
<path d="M479.2 233.69L481.51 237.73L476.89 237.73Z" fill="#f7943a"/>
<text x="490.4" y="239.64" font-size="10.1" text-anchor="start" font-weight="bold" fill="#000" >100 nM ISO</text>
<line x1="474.4" y1="250.2" x2="484" y2="250.2" stroke="#4cb848" stroke-width="1.0"/>
<path d="M479.2 248.2L481.19 250.2L479.2 252.19L477.2 250.2Z" fill="#4cb848"/>
<text x="490.4" y="253.84" font-size="10.1" text-anchor="start" font-weight="bold" fill="#000" >10 nM ISO</text>
<line x1="474.4" y1="264.7" x2="484" y2="264.7" stroke="#79b4f0" stroke-width="1.0"/>
<rect x="477.52" y="263.02" width="3.36" height="3.36" fill="#79b4f0" fill-opacity="0.35" stroke="#79b4f0" stroke-width="0.9"/>
<text x="490.4" y="268.34" font-size="10.1" text-anchor="start" font-weight="bold" fill="#000" >1 nM ISO</text>
<line x1="474.4" y1="277.6" x2="484" y2="277.6" stroke="#2323e6" stroke-width="1.0"/>
<circle cx="479.2" cy="277.6" r="1.68" fill="#2323e6" fill-opacity="0.35" stroke="#2323e6" stroke-width="1"/>
<text x="490.4" y="281.24" font-size="10.1" text-anchor="start" font-weight="bold" fill="#000" >100 pM ISO</text>
<line x1="474.4" y1="289.5" x2="484" y2="289.5" stroke="#a23ce6" stroke-width="1.0"/>
<path d="M479.2 287.4L481.3 291.07L477.1 291.07Z" fill="#a23ce6" fill-opacity="0.35" stroke="#a23ce6" stroke-width="0.9"/>
<text x="490.4" y="293.14" font-size="10.1" text-anchor="start" font-weight="bold" fill="#000" >10 pM ISO</text>
<line x1="474.4" y1="303.4" x2="484" y2="303.4" stroke="#808080" stroke-width="1.0"/>
<path d="M479.2 301.51L481.09 303.4L479.2 305.29L477.31 303.4Z" fill="#808080" fill-opacity="0.35" stroke="#808080" stroke-width="0.9"/>
<text x="490.4" y="307.04" font-size="10.1" text-anchor="start" font-weight="bold" fill="#000" >HBSS</text>
<line x1="59.6" y1="403.3" x2="59.6" y2="533.1" stroke="#222" stroke-width="1.0"/>
<line x1="56.6" y1="533.1" x2="59.6" y2="533.1" stroke="#222" stroke-width="1.0"/>
<text x="56.2" y="537.9" font-size="10" text-anchor="end" font-weight="normal" fill="#222" >0</text>
<line x1="56.6" y1="511.47" x2="59.6" y2="511.47" stroke="#222" stroke-width="1.0"/>
<text x="56.2" y="516.27" font-size="10" text-anchor="end" font-weight="normal" fill="#222" >1000</text>
<line x1="56.6" y1="489.83" x2="59.6" y2="489.83" stroke="#222" stroke-width="1.0"/>
<text x="56.2" y="494.63" font-size="10" text-anchor="end" font-weight="normal" fill="#222" >2000</text>
<line x1="56.6" y1="468.2" x2="59.6" y2="468.2" stroke="#222" stroke-width="1.0"/>
<text x="56.2" y="473" font-size="10" text-anchor="end" font-weight="normal" fill="#222" >3000</text>
<line x1="56.6" y1="446.57" x2="59.6" y2="446.57" stroke="#222" stroke-width="1.0"/>
<text x="56.2" y="451.37" font-size="10" text-anchor="end" font-weight="normal" fill="#222" >4000</text>
<line x1="56.6" y1="424.93" x2="59.6" y2="424.93" stroke="#222" stroke-width="1.0"/>
<text x="56.2" y="429.73" font-size="10" text-anchor="end" font-weight="normal" fill="#222" >5000</text>
<line x1="56.6" y1="403.3" x2="59.6" y2="403.3" stroke="#222" stroke-width="1.0"/>
<text x="56.2" y="408.1" font-size="10" text-anchor="end" font-weight="normal" fill="#222" >6000</text>
<line x1="72.7" y1="533.1" x2="254.5" y2="533.1" stroke="#222" stroke-width="1.0"/>
<line x1="104" y1="533.1" x2="104" y2="536.1" stroke="#222" stroke-width="1.0"/>
<text x="103" y="548" font-size="10" text-anchor="middle" font-weight="normal" fill="#222" >−7</text>
<line x1="164" y1="533.1" x2="164" y2="536.1" stroke="#222" stroke-width="1.0"/>
<text x="163" y="548" font-size="10" text-anchor="middle" font-weight="normal" fill="#222" >−6</text>
<line x1="224" y1="533.1" x2="224" y2="536.1" stroke="#222" stroke-width="1.0"/>
<text x="223" y="548" font-size="10" text-anchor="middle" font-weight="normal" fill="#222" >−5</text>
<text x="157.2" y="566.8" font-size="11.2" text-anchor="middle" font-weight="bold" fill="#000" >Log[FSK] (M)</text>
<text x="28.5" y="462.8" font-size="11.7" text-anchor="middle" font-weight="bold" fill="#000" transform="rotate(-90 28.5 462.8)">Luminescence (RLU)</text>
<path d="M72.8 532.79L74.69 532.77L76.58 532.75L78.47 532.72L80.36 532.69L82.25 532.66L84.14 532.63L86.03 532.59L87.92 532.55L89.81 532.51L91.7 532.47L93.59 532.42L95.48 532.37L97.37 532.31L99.26 532.25L101.15 532.19L103.04 532.12L104.93 532.05L106.82 531.97L108.71 531.88L110.6 531.79L112.49 531.69L114.38 531.59L116.27 531.47L118.16 531.35L120.05 531.22L121.94 531.08L123.83 530.92L125.72 530.76L127.61 530.58L129.5 530.39L131.39 530.19L133.28 529.97L135.17 529.74L137.06 529.48L138.95 529.21L140.84 528.92L142.73 528.61L144.62 528.27L146.51 527.9L148.4 527.51L150.29 527.09L152.18 526.64L154.07 526.15L155.96 525.63L157.85 525.07L159.74 524.47L161.63 523.82L163.52 523.12L165.41 522.37L167.3 521.56L169.19 520.69L171.08 519.76L172.97 518.75L174.86 517.68L176.75 516.51L178.64 515.27L180.53 513.93L182.42 512.48L184.31 510.93L186.2 509.26L188.09 507.47L189.98 505.54L191.87 503.47L193.76 501.24L195.65 498.85L197.54 496.27L199.43 493.5L201.32 490.52L203.21 487.32L205.1 483.87L206.99 480.17L208.88 476.19L210.77 471.9L212.66 467.3L214.55 462.35L216.44 457.03L218.33 451.31L220.22 445.15L222.11 438.54L224 431.42" fill="none" stroke="#ee2a24" stroke-width="2.0"/>
<path d="M72.8 532.62L74.69 532.62L76.58 532.62L78.47 532.61L80.36 532.61L82.25 532.6L84.14 532.6L86.03 532.59L87.92 532.59L89.81 532.58L91.7 532.57L93.59 532.57L95.48 532.56L97.37 532.55L99.26 532.54L101.15 532.53L103.04 532.52L104.93 532.51L106.82 532.49L108.71 532.48L110.6 532.47L112.49 532.45L114.38 532.43L116.27 532.41L118.16 532.39L120.05 532.37L121.94 532.35L123.83 532.32L125.72 532.3L127.61 532.27L129.5 532.24L131.39 532.2L133.28 532.16L135.17 532.12L137.06 532.08L138.95 532.03L140.84 531.98L142.73 531.93L144.62 531.87L146.51 531.81L148.4 531.74L150.29 531.67L152.18 531.59L154.07 531.5L155.96 531.41L157.85 531.31L159.74 531.21L161.63 531.09L163.52 530.97L165.41 530.83L167.3 530.69L169.19 530.53L171.08 530.36L172.97 530.18L174.86 529.98L176.75 529.77L178.64 529.54L180.53 529.29L182.42 529.02L184.31 528.73L186.2 528.42L188.09 528.09L189.98 527.72L191.87 527.33L193.76 526.91L195.65 526.46L197.54 525.96L199.43 525.43L201.32 524.86L203.21 524.24L205.1 523.58L206.99 522.86L208.88 522.08L210.77 521.24L212.66 520.34L214.55 519.36L216.44 518.31L218.33 517.17L220.22 515.95L222.11 514.63L224 513.2" fill="none" stroke="#000" stroke-width="2.4"/>
<path d="M164 524.53V526.26M162.4 524.53H165.6M162.4 526.26H165.6" stroke="#ee2a24" stroke-width="0.9" fill="none"/>
<path d="M224 423.85V436.83M222.4 423.85H225.6M222.4 436.83H225.6" stroke="#ee2a24" stroke-width="0.9" fill="none"/>
<path d="M104 525.91L106.86 530.92L101.14 530.92Z" fill="#ee2a24"/>
<path d="M134 524.94L136.86 529.94L131.14 529.94Z" fill="#ee2a24"/>
<path d="M164 522.54L166.86 527.54L161.14 527.54Z" fill="#ee2a24"/>
<path d="M194 508.71L196.86 513.72L191.14 513.72Z" fill="#ee2a24"/>
<path d="M224 427.48L226.86 432.49L221.14 432.49Z" fill="#ee2a24"/>
<path d="M164 529.27V530.14M162.4 529.27H165.6M162.4 530.14H165.6" stroke="#000" stroke-width="0.9" fill="none"/>
<path d="M194 527.97V528.84M192.4 527.97H195.6M192.4 528.84H195.6" stroke="#000" stroke-width="0.9" fill="none"/>
<path d="M224 509.52V516.88M222.4 509.52H225.6M222.4 516.88H225.6" stroke="#000" stroke-width="0.9" fill="none"/>
<rect x="101.48" y="529.93" width="5.04" height="5.04" fill="#000"/>
<rect x="131.48" y="529.28" width="5.04" height="5.04" fill="#000"/>
<rect x="161.48" y="527.18" width="5.04" height="5.04" fill="#000"/>
<rect x="191.48" y="525.89" width="5.04" height="5.04" fill="#000"/>
<rect x="221.48" y="510.68" width="5.04" height="5.04" fill="#000"/>
<rect x="59.76" y="530.06" width="5.88" height="5.88" fill="#000"/>
<path d="M104 515L104 523M100.54 517L107.46 521M100.54 521L107.46 517" stroke="#000" stroke-width="1.9" fill="none"/>
<path d="M134 514.2L134 522.2M130.54 516.2L137.46 520.2M130.54 520.2L137.46 516.2" stroke="#000" stroke-width="1.9" fill="none"/>
<path d="M160.7 509.8L160.7 517.8M157.24 511.8L164.16 515.8M157.24 515.8L164.16 511.8" stroke="#000" stroke-width="1.9" fill="none"/>
<path d="M192 484.7L192 492.7M188.54 486.7L195.46 490.7M188.54 490.7L195.46 486.7" stroke="#000" stroke-width="1.9" fill="none"/>
<path d="M224 410.4L224 418.4M220.54 412.4L227.46 416.4M220.54 416.4L227.46 412.4" stroke="#000" stroke-width="1.9" fill="none"/>
<line x1="68" y1="411.7" x2="78.2" y2="411.7" stroke="#000" stroke-width="2.0"/>
<rect x="70.37" y="408.97" width="5.46" height="5.46" fill="#000"/>
<text x="84" y="415.3" font-size="10" text-anchor="start" font-weight="bold" fill="#000" >– MLT</text>
<line x1="68" y1="425.5" x2="78.2" y2="425.5" stroke="#ee2a24" stroke-width="2.0"/>
<path d="M73.1 422.42L76.18 427.81L70.02 427.81Z" fill="#ee2a24"/>
<text x="84" y="429.1" font-size="10" text-anchor="start" font-weight="bold" fill="#000" >+ MLT</text>
<line x1="301.2" y1="399.5" x2="301.2" y2="533.2" stroke="#222" stroke-width="1.0"/>
<line x1="298.2" y1="533.2" x2="301.2" y2="533.2" stroke="#222" stroke-width="1.0"/>
<text x="297.5" y="537.7" font-size="10" text-anchor="end" font-weight="normal" fill="#222" >0</text>
<line x1="298.2" y1="510.92" x2="301.2" y2="510.92" stroke="#222" stroke-width="1.0"/>
<text x="297.5" y="515.42" font-size="10" text-anchor="end" font-weight="normal" fill="#222" >500</text>
<line x1="298.2" y1="488.63" x2="301.2" y2="488.63" stroke="#222" stroke-width="1.0"/>
<text x="297.5" y="493.13" font-size="10" text-anchor="end" font-weight="normal" fill="#222" >1000</text>
<line x1="298.2" y1="466.35" x2="301.2" y2="466.35" stroke="#222" stroke-width="1.0"/>
<text x="297.5" y="470.85" font-size="10" text-anchor="end" font-weight="normal" fill="#222" >1500</text>
<line x1="298.2" y1="444.07" x2="301.2" y2="444.07" stroke="#222" stroke-width="1.0"/>
<text x="297.5" y="448.57" font-size="10" text-anchor="end" font-weight="normal" fill="#222" >2000</text>
<line x1="298.2" y1="421.78" x2="301.2" y2="421.78" stroke="#222" stroke-width="1.0"/>
<text x="297.5" y="426.28" font-size="10" text-anchor="end" font-weight="normal" fill="#222" >2500</text>
<line x1="298.2" y1="399.5" x2="301.2" y2="399.5" stroke="#222" stroke-width="1.0"/>
<text x="297.5" y="404" font-size="10" text-anchor="end" font-weight="normal" fill="#222" >3000</text>
<line x1="314.9" y1="533.2" x2="499.5" y2="533.2" stroke="#222" stroke-width="1.0"/>
<line x1="327.8" y1="533.2" x2="327.8" y2="536.2" stroke="#222" stroke-width="1.0"/>
<text x="326.8" y="546.5" font-size="10" text-anchor="middle" font-weight="normal" fill="#222" >−11</text>
<line x1="354.35" y1="533.2" x2="354.35" y2="536.2" stroke="#222" stroke-width="1.0"/>
<text x="353.35" y="546.5" font-size="10" text-anchor="middle" font-weight="normal" fill="#222" >−10</text>
<line x1="380.9" y1="533.2" x2="380.9" y2="536.2" stroke="#222" stroke-width="1.0"/>
<text x="379.9" y="546.5" font-size="10" text-anchor="middle" font-weight="normal" fill="#222" >−9</text>
<line x1="407.45" y1="533.2" x2="407.45" y2="536.2" stroke="#222" stroke-width="1.0"/>
<text x="406.45" y="546.5" font-size="10" text-anchor="middle" font-weight="normal" fill="#222" >−8</text>
<line x1="434" y1="533.2" x2="434" y2="536.2" stroke="#222" stroke-width="1.0"/>
<text x="433" y="546.5" font-size="10" text-anchor="middle" font-weight="normal" fill="#222" >−7</text>
<line x1="460.55" y1="533.2" x2="460.55" y2="536.2" stroke="#222" stroke-width="1.0"/>
<text x="459.55" y="546.5" font-size="10" text-anchor="middle" font-weight="normal" fill="#222" >−6</text>
<line x1="487.1" y1="533.2" x2="487.1" y2="536.2" stroke="#222" stroke-width="1.0"/>
<text x="486.1" y="546.5" font-size="10" text-anchor="middle" font-weight="normal" fill="#222" >−5</text>
<line x1="314.9" y1="533.2" x2="314.9" y2="536.2" stroke="#222" stroke-width="1"/>
<text x="401.3" y="566.3" font-size="11.3" text-anchor="middle" font-weight="bold" fill="#000" >Log[ISO] (M)</text>
<text x="271.5" y="459" font-size="11.7" text-anchor="middle" font-weight="bold" fill="#000" transform="rotate(-90 271.5 459)">Luminescence (RLU)</text>
<path d="M314.53 526.96L316.68 526.96L318.84 526.96L321 526.96L323.15 526.96L325.31 526.96L327.47 526.96L329.63 526.96L331.78 526.96L333.94 526.95L336.1 526.95L338.25 526.95L340.41 526.95L342.57 526.95L344.73 526.94L346.88 526.94L349.04 526.94L351.2 526.93L353.35 526.93L355.51 526.92L357.67 526.91L359.83 526.9L361.98 526.89L364.14 526.87L366.3 526.85L368.45 526.83L370.61 526.81L372.77 526.77L374.93 526.74L377.08 526.69L379.24 526.64L381.4 526.57L383.56 526.49L385.71 526.39L387.87 526.28L390.03 526.14L392.18 525.98L394.34 525.78L396.5 525.55L398.66 525.27L400.81 524.94L402.97 524.56L405.13 524.1L407.28 523.56L409.44 522.94L411.6 522.21L413.76 521.38L415.91 520.43L418.07 519.36L420.23 518.15L422.38 516.83L424.54 515.38L426.7 513.82L428.86 512.18L431.01 510.46L433.17 508.7L435.33 506.93L437.48 505.18L439.64 503.48L441.8 501.85L443.96 500.32L446.11 498.89L448.27 497.6L450.43 496.43L452.59 495.38L454.74 494.46L456.9 493.65L459.06 492.95L461.21 492.35L463.37 491.83L465.53 491.39L467.69 491.01L469.84 490.7L472 490.43L474.16 490.21L476.31 490.02L478.47 489.86L480.63 489.73L482.79 489.62L484.94 489.53L487.1 489.45" fill="none" stroke="#ee2a24" stroke-width="2.0"/>
<path d="M314.53 530.52L316.68 530.52L318.84 530.52L321 530.52L323.15 530.52L325.31 530.52L327.47 530.51L329.63 530.51L331.78 530.51L333.94 530.51L336.1 530.5L338.25 530.5L340.41 530.49L342.57 530.48L344.73 530.47L346.88 530.46L349.04 530.45L351.2 530.43L353.35 530.42L355.51 530.39L357.67 530.37L359.83 530.33L361.98 530.29L364.14 530.25L366.3 530.19L368.45 530.12L370.61 530.04L372.77 529.94L374.93 529.82L377.08 529.67L379.24 529.5L381.4 529.29L383.56 529.04L385.71 528.74L387.87 528.38L390.03 527.95L392.18 527.43L394.34 526.82L396.5 526.09L398.66 525.22L400.81 524.2L402.97 523L405.13 521.58L407.28 519.93L409.44 518.02L411.6 515.82L413.76 513.3L415.91 510.46L418.07 507.27L420.23 503.74L422.38 499.89L424.54 495.73L426.7 491.32L428.86 486.72L431.01 481.99L433.17 477.22L435.33 472.49L437.48 467.88L439.64 463.46L441.8 459.29L443.96 455.42L446.11 451.88L448.27 448.68L450.43 445.81L452.59 443.28L454.74 441.07L456.9 439.14L459.06 437.48L461.21 436.06L463.37 434.84L465.53 433.81L467.69 432.94L469.84 432.21L472 431.59L474.16 431.07L476.31 430.63L478.47 430.27L480.63 429.97L482.79 429.72L484.94 429.51L487.1 429.33" fill="none" stroke="#000" stroke-width="2.0"/>
<path d="M434 507.35V510.92M432.4 507.35H435.6M432.4 510.92H435.6" stroke="#ee2a24" stroke-width="0.9" fill="none"/>
<path d="M460.55 493.71V496.39M458.95 493.71H462.15M458.95 496.39H462.15" stroke="#ee2a24" stroke-width="0.9" fill="none"/>
<path d="M327.8 523.66L330.66 528.66L324.94 528.66Z" fill="#ee2a24"/>
<path d="M354.35 523.66L357.21 528.66L351.49 528.66Z" fill="#ee2a24"/>
<path d="M380.9 523.66L383.76 528.66L378.04 528.66Z" fill="#ee2a24"/>
<path d="M407.45 520.85L410.31 525.85L404.59 525.85Z" fill="#ee2a24"/>
<path d="M434 506.27L436.86 511.28L431.14 511.28Z" fill="#ee2a24"/>
<path d="M460.55 492.19L463.41 497.2L457.69 497.2Z" fill="#ee2a24"/>
<path d="M487.1 486.8L489.96 491.8L484.24 491.8Z" fill="#ee2a24"/>
<path d="M434 474.37V478.83M432.4 474.37H435.6M432.4 478.83H435.6" stroke="#000" stroke-width="0.9" fill="none"/>
<path d="M460.55 437.16V441.62M458.95 437.16H462.15M458.95 441.62H462.15" stroke="#000" stroke-width="0.9" fill="none"/>
<path d="M487.1 426.37V430.83M485.5 426.37H488.7M485.5 430.83H488.7" stroke="#000" stroke-width="0.9" fill="none"/>
<rect x="325.28" y="528.01" width="5.04" height="5.04" fill="#000"/>
<rect x="351.83" y="527.78" width="5.04" height="5.04" fill="#000"/>
<rect x="378.38" y="526.4" width="5.04" height="5.04" fill="#000"/>
<rect x="404.93" y="517.76" width="5.04" height="5.04" fill="#000"/>
<rect x="431.48" y="474.08" width="5.04" height="5.04" fill="#000"/>
<rect x="458.03" y="436.87" width="5.04" height="5.04" fill="#000"/>
<rect x="484.58" y="426.08" width="5.04" height="5.04" fill="#000"/>
<path d="M304.5 524.86L307.14 529.48L301.86 529.48Z" fill="#ee2a24"/>
<rect x="302.06" y="527.06" width="5.88" height="5.88" fill="#000"/>
<path d="M433.4 494.7L433.4 502.7M429.94 496.7L436.86 500.7M429.94 500.7L436.86 496.7" stroke="#000" stroke-width="1.9" fill="none"/>
<path d="M460.2 481L460.2 489M456.74 483L463.66 487M456.74 487L463.66 483" stroke="#000" stroke-width="1.9" fill="none"/>
<path d="M486.4 476.4L486.4 484.4M482.94 478.4L489.86 482.4M482.94 482.4L489.86 478.4" stroke="#000" stroke-width="1.9" fill="none"/>
<line x1="310.4" y1="407.5" x2="320.2" y2="407.5" stroke="#000" stroke-width="2.0"/>
<rect x="312.57" y="404.77" width="5.46" height="5.46" fill="#000"/>
<text x="325.3" y="411.1" font-size="10" text-anchor="start" font-weight="bold" fill="#000" >– MLT</text>
<line x1="310.4" y1="422.1" x2="320.2" y2="422.1" stroke="#ee2a24" stroke-width="2.0"/>
<path d="M315.3 419.02L318.38 424.41L312.22 424.41Z" fill="#ee2a24"/>
<text x="325.3" y="425.7" font-size="10" text-anchor="start" font-weight="bold" fill="#000" >+ MLT</text>
<text x="5.8" y="20.6" font-size="20" text-anchor="start" font-weight="bold" fill="#000" stroke="#000" stroke-width="0.4">A</text>
<text x="6" y="213.7" font-size="20" text-anchor="start" font-weight="bold" fill="#000" stroke="#000" stroke-width="0.4">B</text>
<text x="6.4" y="399.2" font-size="20" text-anchor="start" font-weight="bold" fill="#000" stroke="#000" stroke-width="0.4">C</text>
</svg>
</body></html>
